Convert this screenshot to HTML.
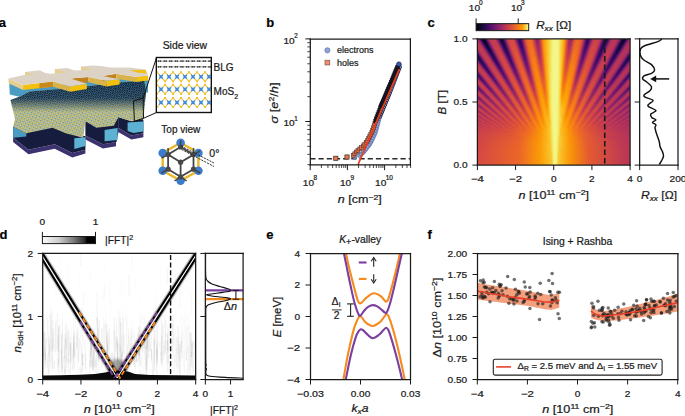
<!DOCTYPE html>
<html><head><meta charset="utf-8"><style>
html,body{margin:0;padding:0;background:#fff;width:685px;height:416px;overflow:hidden}
svg{position:absolute;left:0;top:0;display:block;font-family:"Liberation Sans", sans-serif}
svg text{stroke:#1a1a1a;stroke-width:0.22px}
.hc{position:absolute;left:477px;top:39px;width:153px;height:126px}.hc i{display:block;height:1px}
</style></head><body>
<div class="hc"><i style="background:linear-gradient(90deg,#aa2f5e 0.5px,#71196d 2.5px,#470c68 3.5px,#1f0b46 4.5px,#090620 5.5px,#050416 6.5px,#0d0828 7.5px,#290b52 8.5px,#540f6c 9.5px,#a02b62 11.5px,#c23b50 13.5px,#c53d4e 17.5px,#a32c61 19.5px,#59116d 21.5px,#310b5a 22.5px,#160b38 23.5px,#0e092b 24.5px,#190b3d 25.5px,#380a60 26.5px,#63146e 27.5px,#b0325b 29.5px,#d34743 31.5px,#d84c3f 35.5px,#bc3754 37.5px,#751b6d 39.5px,#320a5d 41.5px,#280b54 42.5px,#360a60 43.5px,#7f1e6c 45.5px,#cc4248 47.5px,#ea632a 49.5px,#f06f20 53.5px,#e25833 55.5px,#9b2964 58.5px,#8a226a 59.5px,#88226a 60.5px,#b2325a 62.5px,#e9622a 64.5px,#fb9807 66.5px,#f7d441 72.5px,#f2f37f 75.5px,#f4f88e 78.5px,#f2f17a 81.5px,#fac026 85.5px,#fb9e08 87.5px,#f68212 88.5px,#cf4546 90.5px,#9d2964 92.5px,#952667 93.5px,#b2325a 95.5px,#de5338 97.5px,#ee6a24 100.5px,#e25833 104.5px,#bd3853 106.5px,#6e186e 108.5px,#320a5d 110.5px,#300a5c 111.5px,#64156e 113.5px,#ab2f5d 115.5px,#cb4149 117.5px,#cb414a 121.5px,#b63458 123.5px,#771c6d 125.5px,#4e0d6b 126.5px,#280b52 127.5px,#130a33 128.5px,#120a31 129.5px,#220b4a 130.5px,#450c68 131.5px,#902468 133.5px,#b53458 135.5px,#b93656 139.5px,#a52c60 141.5px,#68166e 143.5px,#3f0b64 144.5px,#1a0b3e 145.5px,#08061e 146.5px,#07051b 147.5px,#130a34 148.5px,#340b5c 149.5px,#5d126d 150.5px,#992865 152.5px)"></i><i style="background:linear-gradient(90deg,#b43358 0.5px,#88226a 2.5px,#62146e 3.5px,#380b5f 4.5px,#150a36 5.5px,#06051a 6.5px,#07051c 7.5px,#180b3b 8.5px,#3d0b63 9.5px,#68166e 10.5px,#ac305d 12.5px,#c63d4d 14.5px,#c03a51 18.5px,#932667 20.5px,#440b67 22.5px,#210b49 23.5px,#110a30 24.5px,#140b34 25.5px,#2b0b55 26.5px,#530f6c 27.5px,#a52c60 29.5px,#d04545 31.5px,#d94d3d 35.5px,#c43c4e 37.5px,#83206b 39.5px,#3b0a63 41.5px,#2b0b57 42.5px,#320a5d 43.5px,#741b6d 45.5px,#c53e4d 47.5px,#e9612c 49.5px,#f0701f 53.5px,#e55c30 55.5px,#a12b62 58.5px,#8e2469 59.5px,#8a226a 60.5px,#b0315b 62.5px,#e7602c 64.5px,#fb9707 66.5px,#f7d441 72.5px,#f2f37f 75.5px,#f4f88e 78.5px,#f2f17a 81.5px,#fabf25 85.5px,#fb9c08 87.5px,#f68013 88.5px,#cd4348 90.5px,#9d2964 92.5px,#982766 93.5px,#b83556 95.5px,#eb6429 98.5px,#eb6528 102.5px,#d24744 105.5px,#8e2468 107.5px,#430b68 109.5px,#320a5d 110.5px,#360a60 111.5px,#711a6e 113.5px,#b43358 115.5px,#ce4347 117.5px,#ca404a 121.5px,#ae305c 123.5px,#68166e 125.5px,#3f0b65 126.5px,#1e0c45 127.5px,#120a32 128.5px,#180b3c 129.5px,#320a5c 130.5px,#58116d 131.5px,#9d2963 133.5px,#b93656 135.5px,#b63457 139.5px,#992865 141.5px,#530f6c 143.5px,#2a0b53 144.5px,#0f092b 145.5px,#07051b 146.5px,#0d0828 147.5px,#260b4e 148.5px,#4e0d6a 149.5px,#922567 151.5px,#a42c61 152.5px)"></i><i style="background:linear-gradient(90deg,#bb3755 0.5px,#9c2964 2.5px,#530f6c 4.5px,#290b52 5.5px,#0e0829 6.5px,#06051a 7.5px,#0d0828 8.5px,#280b51 9.5px,#520f6b 10.5px,#9f2a63 12.5px,#c33b4f 14.5px,#c53d4e 18.5px,#a32c61 20.5px,#58116d 22.5px,#170b3b 24.5px,#120a32 25.5px,#200c48 26.5px,#430b67 27.5px,#6e186e 28.5px,#b83556 30.5px,#d54a41 32.5px,#d74b3f 36.5px,#b43359 38.5px,#69176e 40.5px,#300a5c 42.5px,#300a5b 43.5px,#460b69 44.5px,#962766 46.5px,#d94d3d 48.5px,#f06f20 51.5px,#ef6d22 54.5px,#d94e3d 56.5px,#922568 59.5px,#8c2369 60.5px,#ae305c 62.5px,#e65d2f 64.5px,#fa9507 66.5px,#fac127 70.5px,#f3e157 73.5px,#f3f68a 76.5px,#f3f586 80.5px,#f2e763 82.5px,#fcb014 86.5px,#fb9a08 87.5px,#e55c30 89.5px,#af315b 91.5px,#9d2964 92.5px,#a72d5f 94.5px,#e45b31 97.5px,#ee6c23 100.5px,#df5337 104.5px,#ae315c 106.5px,#5c126d 108.5px,#3e0a65 109.5px,#330a5e 110.5px,#3e0a65 111.5px,#7f1e6c 113.5px,#bc3854 115.5px,#d04446 117.5px,#c83e4c 121.5px,#a42c60 123.5px,#58116d 125.5px,#180b3c 127.5px,#140b35 128.5px,#230b4c 129.5px,#440b67 130.5px,#8f2468 132.5px,#b63458 134.5px,#b93656 138.5px,#a42c60 140.5px,#67166e 142.5px,#3d0b63 143.5px,#190b3d 144.5px,#090620 145.5px,#0a0722 146.5px,#1b0b3f 147.5px,#3e0b64 148.5px,#89226a 150.5px,#ac2f5d 152.5px)"></i><i style="background:linear-gradient(90deg,#bf3952 0.5px,#ab2f5d 2.5px,#6d186e 4.5px,#430c66 5.5px,#1d0b42 6.5px,#0a0722 7.5px,#08061f 8.5px,#170b3a 9.5px,#3b0b62 10.5px,#67166e 11.5px,#ac305d 13.5px,#c73e4d 15.5px,#c13a50 19.5px,#932667 21.5px,#440b67 23.5px,#220c4a 24.5px,#140b34 25.5px,#190c3e 26.5px,#350a5e 27.5px,#5d126d 28.5px,#ad305c 30.5px,#d34743 32.5px,#d94d3d 36.5px,#be3953 38.5px,#771c6d 40.5px,#370a61 42.5px,#300a5c 43.5px,#400a66 44.5px,#8c2369 46.5px,#d44941 48.5px,#ec6826 50.5px,#f06f21 54.5px,#dd5239 56.5px,#972766 59.5px,#8e2469 60.5px,#ac305d 62.5px,#e45b31 64.5px,#fa9308 66.5px,#fbb91e 69.5px,#f7d542 72.5px,#f2f37f 75.5px,#f4f88e 78.5px,#f2f17a 81.5px,#fcaf14 86.5px,#fb9908 87.5px,#e35a32 89.5px,#ae315c 91.5px,#9e2a63 92.5px,#9e2a63 93.5px,#d94e3d 96.5px,#ef6d22 99.5px,#e65d2f 103.5px,#c83f4c 105.5px,#7b1d6c 107.5px,#3b0964 109.5px,#360961 110.5px,#66166e 112.5px,#ad305c 114.5px,#cd4347 116.5px,#cc4249 120.5px,#b53458 122.5px,#721a6d 124.5px,#490c69 125.5px,#260b50 126.5px,#160b39 127.5px,#1a0c3f 128.5px,#58106d 130.5px,#9d2963 132.5px,#ba3655 134.5px,#b73557 138.5px,#992865 140.5px,#510e6b 142.5px,#280b51 143.5px,#0f092c 144.5px,#090620 145.5px,#130a32 146.5px,#300b59 147.5px,#58116d 148.5px,#992865 150.5px,#b0315b 152.5px)"></i><i style="background:linear-gradient(90deg,#c03a51 0.5px,#b53458 2.5px,#85216b 4.5px,#5e126d 5.5px,#340b5c 6.5px,#140a35 7.5px,#090620 8.5px,#0e082a 9.5px,#270b4f 10.5px,#500e6b 11.5px,#9f2a63 13.5px,#c43c4f 15.5px,#c63e4d 19.5px,#a32c61 21.5px,#57106d 23.5px,#190c3e 25.5px,#160b39 26.5px,#290b53 27.5px,#4e0d6b 28.5px,#a12b62 30.5px,#d04545 32.5px,#db4f3b 36.5px,#c63e4d 38.5px,#85216b 40.5px,#3f0a66 42.5px,#320a5d 43.5px,#3c0a64 44.5px,#82206b 46.5px,#cf4446 48.5px,#ec6627 50.5px,#f1711f 54.5px,#e15635 56.5px,#9c2964 59.5px,#902568 60.5px,#aa2f5e 62.5px,#e25933 64.5px,#fa9208 66.5px,#fbb91e 69.5px,#f6d542 72.5px,#f2f37f 75.5px,#f4f88e 78.5px,#f2f17a 81.5px,#fcae13 86.5px,#fb9708 87.5px,#e15734 89.5px,#ae305c 91.5px,#a02a62 92.5px,#b2325a 94.5px,#e9622b 97.5px,#ef6d22 100.5px,#d94d3d 104.5px,#9c2964 106.5px,#4e0d6b 108.5px,#3a0963 109.5px,#3b0964 110.5px,#741a6d 112.5px,#b73557 114.5px,#d04545 116.5px,#ca404a 120.5px,#ac305d 122.5px,#63146e 124.5px,#3b0a62 125.5px,#1e0c46 126.5px,#170b3a 127.5px,#240c4d 128.5px,#440b67 129.5px,#8f2468 131.5px,#b73557 133.5px,#ba3655 137.5px,#a42c61 139.5px,#65156e 141.5px,#3b0b62 142.5px,#190b3d 143.5px,#0b0724 144.5px,#0e0829 145.5px,#230b4b 146.5px,#490c69 147.5px,#902568 149.5px,#af315c 151.5px,#b2325a 152.5px)"></i><i style="background:linear-gradient(90deg,#c13a50 0.5px,#b0315b 3.5px,#771c6d 5.5px,#4e0e6a 6.5px,#260b4f 7.5px,#0f092b 8.5px,#0a0723 9.5px,#180b3b 10.5px,#3a0b61 11.5px,#65156e 12.5px,#ac305d 14.5px,#c83e4c 16.5px,#c23b50 20.5px,#922567 22.5px,#430b67 24.5px,#230c4d 25.5px,#170b3b 26.5px,#200c48 27.5px,#3f0b65 28.5px,#68166e 29.5px,#b63457 31.5px,#d64a40 33.5px,#d84c3e 37.5px,#b63457 39.5px,#6b176e 41.5px,#490c6a 42.5px,#360a61 43.5px,#390962 44.5px,#510e6c 45.5px,#a42c60 47.5px,#e05536 49.5px,#f1721e 52.5px,#ee6a24 55.5px,#d24743 57.5px,#a12b62 59.5px,#942667 60.5px,#972766 61.5px,#c53d4d 63.5px,#f2751c 65.5px,#fa9009 66.5px,#fbb91e 69.5px,#f6d543 72.5px,#f2f37f 75.5px,#f4f88e 78.5px,#f2f17a 81.5px,#fcad12 86.5px,#fa9508 87.5px,#df5536 89.5px,#ad305c 91.5px,#a22b62 92.5px,#b73557 94.5px,#e15635 96.5px,#ef6d21 98.5px,#ea632a 102.5px,#d54a41 104.5px,#922567 106.5px,#490c6a 108.5px,#3a0964 109.5px,#420a67 110.5px,#801f6c 112.5px,#be3952 114.5px,#d24644 116.5px,#c83f4c 120.5px,#a22b62 122.5px,#530f6c 124.5px,#2f0b59 125.5px,#1b0c41 126.5px,#1c0c43 127.5px,#320a5c 128.5px,#57106d 129.5px,#9d2a63 131.5px,#bb3755 133.5px,#b83556 137.5px,#982865 139.5px,#4f0e6b 141.5px,#270b50 142.5px,#10092e 143.5px,#0c0826 144.5px,#190b3d 145.5px,#3a0b61 146.5px,#62146e 147.5px,#9f2a63 149.5px,#b33359 152.5px)"></i><i style="background:linear-gradient(90deg,#c13a50 0.5px,#b93656 3.5px,#8e2468 5.5px,#69166e 6.5px,#3f0b64 7.5px,#1c0b41 8.5px,#0c0827 9.5px,#0f092c 10.5px,#260b4f 11.5px,#4f0e6b 12.5px,#9e2a63 14.5px,#c43c4e 16.5px,#c73e4c 20.5px,#a32c61 22.5px,#57106d 24.5px,#320a5c 25.5px,#1c0c42 26.5px,#1b0c42 27.5px,#320a5c 28.5px,#58116d 29.5px,#aa2f5e 31.5px,#d44842 33.5px,#db4f3b 37.5px,#c03a51 39.5px,#791c6d 41.5px,#3c0a64 43.5px,#380962 44.5px,#4b0c6a 45.5px,#9a2864 47.5px,#dc503a 49.5px,#f1721e 52.5px,#ef6d22 55.5px,#d74b3f 57.5px,#972766 60.5px,#982766 61.5px,#c33c4f 63.5px,#f1721e 65.5px,#f98f0a 66.5px,#fbb91e 69.5px,#f6d543 72.5px,#f2f380 75.5px,#f4f88e 78.5px,#f2f17a 81.5px,#fcac11 86.5px,#fa9309 87.5px,#de5338 89.5px,#ad305d 91.5px,#a42c61 92.5px,#bd3853 94.5px,#ed6825 97.5px,#ef6d22 100.5px,#e15734 103.5px,#d14645 104.5px,#88226a 106.5px,#450b69 108.5px,#3d0965 109.5px,#4b0c6b 110.5px,#8e2468 112.5px,#c53d4e 114.5px,#d34743 117.5px,#c53d4e 120.5px,#952666 122.5px,#450b68 124.5px,#250b4f 125.5px,#1a0c40 126.5px,#250b4f 127.5px,#440b67 128.5px,#8e2468 130.5px,#b73557 132.5px,#bb3754 136.5px,#a42c61 138.5px,#63146e 140.5px,#3a0b61 141.5px,#190b3d 142.5px,#0d0828 143.5px,#120a32 144.5px,#530f6c 146.5px,#972766 148.5px,#b1325b 150.5px,#b43359 152.5px)"></i><i style="background:linear-gradient(90deg,#c03a51 0.5px,#bf3952 3.5px,#a22b62 5.5px,#5a116d 7.5px,#310b5a 8.5px,#150a36 9.5px,#0d0829 10.5px,#190b3c 11.5px,#390b60 12.5px,#64156e 13.5px,#ac305d 15.5px,#c83f4b 17.5px,#c33b4f 21.5px,#922567 23.5px,#430b67 25.5px,#250c4e 26.5px,#1b0c41 27.5px,#280b52 28.5px,#490c69 29.5px,#9d2963 31.5px,#d04545 33.5px,#dd513a 37.5px,#c83f4b 39.5px,#87216a 41.5px,#430a68 43.5px,#390963 44.5px,#460b69 45.5px,#902568 47.5px,#d74c3e 49.5px,#ee6b23 51.5px,#f2751b 54.5px,#ea632a 56.5px,#ac305d 59.5px,#9b2865 60.5px,#992865 61.5px,#c13b50 63.5px,#f0701f 65.5px,#f98d0b 66.5px,#fcb014 68.5px,#f6d644 72.5px,#f2f380 75.5px,#f4f88e 78.5px,#f2f17a 81.5px,#fcab10 86.5px,#fa9109 87.5px,#dc513a 89.5px,#ad305d 91.5px,#a62d60 92.5px,#c23b50 94.5px,#e75e2e 96.5px,#f0701f 99.5px,#df5437 103.5px,#a92e5e 105.5px,#59116d 107.5px,#430a68 108.5px,#410a67 109.5px,#751b6d 111.5px,#b93656 113.5px,#d24644 115.5px,#cb4149 119.5px,#aa2f5e 121.5px,#5e126d 123.5px,#200c49 125.5px,#1f0c46 126.5px,#330a5d 127.5px,#56106d 128.5px,#9d2963 130.5px,#bc3754 132.5px,#b93656 136.5px,#982765 138.5px,#4d0d6a 140.5px,#260b50 141.5px,#110a30 142.5px,#0f092d 143.5px,#210b48 144.5px,#440c67 145.5px,#8e2469 147.5px,#af315c 149.5px,#b43359 152.5px)"></i><i style="background:linear-gradient(90deg,#bd3853 0.5px,#bd3853 4.5px,#972765 6.5px,#4a0d69 8.5px,#240b4d 9.5px,#110a2f 10.5px,#110a30 11.5px,#260b4f 12.5px,#4d0d6a 13.5px,#9d2a63 15.5px,#c53d4e 17.5px,#c83f4b 21.5px,#a32c61 23.5px,#56106d 25.5px,#330a5d 26.5px,#1f0c47 27.5px,#220c4b 28.5px,#63146e 30.5px,#b33359 32.5px,#d74b3f 34.5px,#da4e3c 38.5px,#b83556 40.5px,#6d186e 42.5px,#4d0d6b 43.5px,#3c0965 44.5px,#420a68 45.5px,#85216a 47.5px,#d24743 49.5px,#ed6a24 51.5px,#f1721e 55.5px,#df5436 57.5px,#9f2a63 60.5px,#9a2865 61.5px,#bf3952 63.5px,#ef6e21 65.5px,#f98b0c 66.5px,#fcaf14 68.5px,#f6d644 72.5px,#f2f481 75.5px,#f4f78d 79.5px,#f2f17a 81.5px,#fca90f 86.5px,#f98f0a 87.5px,#da4f3c 89.5px,#ad305c 91.5px,#b33359 93.5px,#e9632a 96.5px,#f1711f 99.5px,#dc513a 103.5px,#a02a62 105.5px,#530f6d 107.5px,#420a68 108.5px,#470b69 109.5px,#83206b 111.5px,#c13a51 113.5px,#d44842 116.5px,#c93f4b 119.5px,#9e2a63 121.5px,#4f0e6b 123.5px,#2d0b58 124.5px,#1f0c47 125.5px,#270b51 126.5px,#430b67 127.5px,#8e2468 129.5px,#b83556 131.5px,#bc3754 135.5px,#a42c61 137.5px,#61146e 139.5px,#380a60 140.5px,#190b3e 141.5px,#10092d 142.5px,#180b3c 143.5px,#360a5e 144.5px,#5e126d 145.5px,#9d2964 147.5px,#b3325a 149.5px,#b3325a 152.5px)"></i><i style="background:linear-gradient(90deg,#b73557 0.5px,#c13a51 4.5px,#a92e5e 6.5px,#65156e 8.5px,#3b0b62 9.5px,#1c0b41 10.5px,#110a2f 11.5px,#190b3e 12.5px,#380a60 13.5px,#62146e 14.5px,#ac305d 16.5px,#ca404a 18.5px,#cc4149 21.5px,#b1325a 23.5px,#6a176e 25.5px,#430b67 26.5px,#270b51 27.5px,#200c49 28.5px,#310a5b 29.5px,#540f6c 30.5px,#a72d5f 32.5px,#d44842 34.5px,#dc513a 38.5px,#c23b50 40.5px,#7b1d6c 42.5px,#410a67 44.5px,#400a67 45.5px,#56106d 46.5px,#a72e5f 48.5px,#cc4248 49.5px,#ec6826 51.5px,#f2741c 55.5px,#e35932 57.5px,#a32c61 60.5px,#9c2964 61.5px,#bd3853 63.5px,#ee6b24 65.5px,#f8890d 66.5px,#fca008 67.5px,#f6d644 72.5px,#f2f481 75.5px,#f4f78d 79.5px,#f2f17a 81.5px,#fca80e 86.5px,#f98c0b 87.5px,#d84d3e 89.5px,#ae305c 91.5px,#b83556 93.5px,#ec6627 96.5px,#f1711f 99.5px,#e65d2f 102.5px,#be3953 104.5px,#6d186e 106.5px,#4f0d6c 107.5px,#440a68 108.5px,#4f0d6c 109.5px,#902568 111.5px,#c73e4c 113.5px,#d44941 116.5px,#c53d4e 119.5px,#912568 121.5px,#410b66 123.5px,#270b51 124.5px,#220c4b 125.5px,#340a5e 126.5px,#56106d 127.5px,#9d2a63 129.5px,#bd3853 131.5px,#b93656 135.5px,#972766 137.5px,#4b0d6a 139.5px,#260b4f 140.5px,#130a33 141.5px,#140b35 142.5px,#290b53 143.5px,#4f0e6b 144.5px,#952666 146.5px,#b1325a 148.5px,#b0315b 152.5px)"></i><i style="background:linear-gradient(90deg,#ac2f5d 0.5px,#c33b50 3.5px,#b53458 6.5px,#7e1e6c 8.5px,#56106c 9.5px,#2e0b58 10.5px,#160b38 11.5px,#140b34 12.5px,#260b4f 13.5px,#4c0d6a 14.5px,#9d2963 16.5px,#c63d4d 18.5px,#c9404b 22.5px,#a32c61 24.5px,#56106d 26.5px,#340a5e 27.5px,#220c4c 28.5px,#290b54 29.5px,#6e186e 31.5px,#bb3754 33.5px,#da4e3d 35.5px,#d94d3e 39.5px,#af315b 41.5px,#63146e 43.5px,#480b6a 44.5px,#410a67 45.5px,#500e6c 46.5px,#9d2a63 48.5px,#df5337 50.5px,#f2751b 53.5px,#ef6e21 56.5px,#d54941 58.5px,#a82e5f 60.5px,#9f2a63 61.5px,#bb3754 63.5px,#ec6826 65.5px,#f8870e 66.5px,#fb9e08 67.5px,#f6d644 72.5px,#f2f481 75.5px,#f4f78d 79.5px,#f2f17a 81.5px,#fca70d 86.5px,#f88a0d 87.5px,#d64b3f 89.5px,#af315b 91.5px,#bd3853 93.5px,#ed6a24 96.5px,#f1711f 99.5px,#e45b31 102.5px,#d44842 103.5px,#8c2369 105.5px,#4c0c6b 107.5px,#470b6a 108.5px,#58106d 109.5px,#9d2963 111.5px,#cd4248 113.5px,#d24644 117.5px,#c03a51 119.5px,#82206b 121.5px,#59116d 122.5px,#360a60 123.5px,#240c4e 124.5px,#290b54 125.5px,#69166e 127.5px,#aa2f5e 129.5px,#c03952 131.5px,#b53458 135.5px,#86216a 137.5px,#60136e 138.5px,#370a5f 139.5px,#1a0c3f 140.5px,#130a33 141.5px,#1f0c47 142.5px,#400b65 143.5px,#8b2369 145.5px,#af315b 147.5px,#b0315b 151.5px,#aa2f5e 152.5px)"></i><i style="background:linear-gradient(90deg,#9a2865 0.5px,#c13a50 3.5px,#bd3853 6.5px,#952666 8.5px,#470c68 10.5px,#240b4d 11.5px,#140b36 12.5px,#1b0c40 13.5px,#370a60 14.5px,#61136e 15.5px,#ac2f5d 17.5px,#ca404a 19.5px,#cd4248 22.5px,#b2325a 24.5px,#6a176e 26.5px,#290b54 28.5px,#260c50 29.5px,#3a0a62 30.5px,#5f136e 31.5px,#b0315b 33.5px,#d74b3f 35.5px,#dc503a 39.5px,#ba3755 41.5px,#70196e 43.5px,#510e6c 44.5px,#430a68 45.5px,#4c0c6b 46.5px,#932667 48.5px,#da4f3c 50.5px,#f06f21 52.5px,#f3771a 55.5px,#e9622b 57.5px,#ad305d 60.5px,#a22b62 61.5px,#a62d60 62.5px,#d54941 64.5px,#f78510 66.5px,#fb9d08 67.5px,#f6d644 72.5px,#f2f481 75.5px,#f4f78d 79.5px,#f2f17a 81.5px,#fbbb20 85.5px,#fca50c 86.5px,#f8880e 87.5px,#d54941 89.5px,#b0315b 91.5px,#c23b4f 93.5px,#ef6d22 96.5px,#ef6d22 100.5px,#e25834 102.5px,#cf4446 103.5px,#83206b 105.5px,#5e136e 106.5px,#4b0c6b 107.5px,#4c0c6b 108.5px,#85216b 110.5px,#c33c4f 112.5px,#d54941 114.5px,#c9404b 118.5px,#9b2964 120.5px,#4b0d6a 122.5px,#2e0b59 123.5px,#250c50 124.5px,#350a5f 125.5px,#7c1d6c 127.5px,#b33359 129.5px,#c13a50 132.5px,#ae305c 135.5px,#731a6d 137.5px,#4a0d69 138.5px,#260b50 139.5px,#150b38 140.5px,#190b3e 141.5px,#59116d 143.5px,#9c2964 145.5px,#b33359 147.5px,#ab2f5e 151.5px,#a02a63 152.5px)"></i><i style="background:linear-gradient(90deg,#82206b 0.5px,#b33359 2.5px,#c43c4e 5.5px,#ba3655 7.5px,#88226a 9.5px,#61146d 10.5px,#390a60 11.5px,#1d0c43 12.5px,#170b3a 13.5px,#270b51 14.5px,#4b0d6a 15.5px,#9c2964 17.5px,#c73e4c 19.5px,#ca404a 23.5px,#a32c61 25.5px,#56106d 27.5px,#350a5f 28.5px,#270b52 29.5px,#310a5c 30.5px,#791c6d 32.5px,#c23b50 34.5px,#dc503a 36.5px,#de5338 39.5px,#c43c4e 41.5px,#7d1e6c 43.5px,#5a116e 44.5px,#470b6a 45.5px,#4a0c6a 46.5px,#62146e 47.5px,#b43458 49.5px,#d54a41 50.5px,#ef6d22 52.5px,#f47919 55.5px,#de5338 58.5px,#b2325a 60.5px,#a52c61 61.5px,#a72d60 62.5px,#d34843 64.5px,#f78211 66.5px,#fb9c07 67.5px,#f6d644 72.5px,#f2f481 75.5px,#f4f78d 79.5px,#f2f17a 81.5px,#fbba1f 85.5px,#fca40b 86.5px,#f78510 87.5px,#d34842 89.5px,#b2325a 91.5px,#c83f4c 93.5px,#f07020 96.5px,#ef6c22 100.5px,#df5437 102.5px,#c9404b 103.5px,#7a1d6d 105.5px,#59116e 106.5px,#4b0c6b 107.5px,#530f6d 108.5px,#922567 110.5px,#ca404a 112.5px,#d64a40 115.5px,#c53d4e 118.5px,#8c2369 120.5px,#3f0a65 122.5px,#2a0b55 123.5px,#2c0b57 124.5px,#68166e 126.5px,#aa2f5e 128.5px,#c03a51 130.5px,#b63458 134.5px,#85216b 136.5px,#5e126d 137.5px,#360a5f 138.5px,#1b0c41 139.5px,#170b3a 140.5px,#280b52 141.5px,#4b0d6a 142.5px,#932667 144.5px,#b2325a 146.5px,#ae305c 150.5px,#8f2468 152.5px)"></i><i style="background:linear-gradient(90deg,#65156e 0.5px,#a52d60 2.5px,#c13a51 4.5px,#c03a51 7.5px,#9e2a63 9.5px,#520f6c 11.5px,#2d0b57 12.5px,#190c3e 13.5px,#1d0c44 14.5px,#5f136d 16.5px,#ac2f5d 18.5px,#cb4149 20.5px,#ce4347 23.5px,#b2325a 25.5px,#6a176e 27.5px,#2d0b58 29.5px,#2c0b57 30.5px,#430b67 31.5px,#6a176e 32.5px,#b93656 34.5px,#da4e3c 36.5px,#e05536 39.5px,#cc4248 41.5px,#8b2369 43.5px,#4d0d6b 45.5px,#490b6a 46.5px,#5c126e 47.5px,#ab2f5d 49.5px,#e55b30 51.5px,#f47819 54.5px,#f3761b 56.5px,#e25734 58.5px,#a82e5f 61.5px,#a82e5f 62.5px,#d14644 64.5px,#f68013 66.5px,#fb9a07 67.5px,#f6d644 72.5px,#f2f481 75.5px,#f4f78d 79.5px,#f2f17a 81.5px,#fbb91e 85.5px,#fca20a 86.5px,#f78311 87.5px,#d14644 89.5px,#b43359 91.5px,#cc4248 93.5px,#ec6727 95.5px,#f2751b 98.5px,#e9612b 101.5px,#c13b50 103.5px,#721a6e 105.5px,#550f6d 106.5px,#4e0d6c 107.5px,#5c126e 108.5px,#a02a62 110.5px,#cf4446 112.5px,#d44842 116.5px,#bf3952 118.5px,#7e1e6c 120.5px,#360a60 122.5px,#2a0b55 123.5px,#370a60 124.5px,#7b1d6c 126.5px,#b43359 128.5px,#c23b50 131.5px,#ae305c 134.5px,#71196d 136.5px,#490c69 137.5px,#270b50 138.5px,#180c3c 139.5px,#200c48 140.5px,#3d0b63 141.5px,#64156e 142.5px,#a22b62 144.5px,#b53458 146.5px,#b1325b 149.5px,#912568 151.5px,#771c6d 152.5px)"></i><i style="background:linear-gradient(90deg,#470c68 0.5px,#912567 2.5px,#bd3853 4.5px,#c43c4f 7.5px,#ae315c 9.5px,#6c186e 11.5px,#440b67 12.5px,#240b4e 13.5px,#1a0c40 14.5px,#270b51 15.5px,#4a0c69 16.5px,#9b2964 18.5px,#c83e4c 20.5px,#cb4149 24.5px,#a32c61 26.5px,#56106d 28.5px,#370a61 29.5px,#2c0b58 30.5px,#3a0a62 31.5px,#84206b 33.5px,#c93f4b 35.5px,#e15635 38.5px,#d34743 41.5px,#992865 43.5px,#550f6d 45.5px,#4a0c6b 46.5px,#56106d 47.5px,#a12b61 49.5px,#e15735 51.5px,#f47819 54.5px,#ef6e21 57.5px,#ac2f5d 61.5px,#a92e5e 62.5px,#cf4446 64.5px,#f57e15 66.5px,#fb9907 67.5px,#f6d644 72.5px,#f2f481 75.5px,#f4f78d 79.5px,#f2f17a 81.5px,#fbb81d 85.5px,#fba009 86.5px,#f68013 87.5px,#d04545 89.5px,#b73557 91.5px,#d14644 93.5px,#f2751c 96.5px,#ee6b24 100.5px,#d74c3f 102.5px,#912567 104.5px,#6a176e 105.5px,#530f6d 106.5px,#520e6d 107.5px,#88226a 109.5px,#c53d4d 111.5px,#d74b3f 113.5px,#ca404a 117.5px,#972766 119.5px,#480c69 121.5px,#300a5c 122.5px,#2f0a5b 123.5px,#68166e 125.5px,#aa2f5e 127.5px,#c23b50 129.5px,#b63457 133.5px,#84206b 135.5px,#5c126d 136.5px,#1d0c45 138.5px,#1c0c42 139.5px,#310a5b 140.5px,#55106c 141.5px,#9a2865 143.5px,#b43359 145.5px,#ab2f5e 149.5px,#7b1d6c 151.5px,#5b126d 152.5px)"></i><i style="background:linear-gradient(90deg,#2b0b55 0.5px,#4f0e6b 1.5px,#9d2964 3.5px,#c03a51 5.5px,#c33b4f 8.5px,#a62d60 10.5px,#5d126d 12.5px,#1f0c48 14.5px,#1f0c47 15.5px,#370a60 16.5px,#5e136d 17.5px,#ab2f5d 19.5px,#cc4248 21.5px,#cf4447 24.5px,#b2325a 26.5px,#69176e 28.5px,#450b68 29.5px,#300a5c 30.5px,#330a5e 31.5px,#751b6d 33.5px,#c03a51 35.5px,#dd5139 37.5px,#e05436 40.5px,#c63e4d 42.5px,#801f6c 44.5px,#5e136e 45.5px,#4d0d6c 46.5px,#530f6d 47.5px,#972765 49.5px,#dd5239 51.5px,#f1721e 53.5px,#f47a18 56.5px,#d84c3e 59.5px,#b0315b 61.5px,#ab2f5e 62.5px,#cd4347 64.5px,#f47b16 66.5px,#fb9707 67.5px,#f6d745 72.5px,#f2f481 75.5px,#f4f78d 79.5px,#f2f17a 81.5px,#fbb71c 85.5px,#fb9e09 86.5px,#f57e15 87.5px,#cf4446 89.5px,#b93656 91.5px,#d64a40 93.5px,#f3771a 96.5px,#ed6925 100.5px,#d24743 102.5px,#87216a 104.5px,#65156e 105.5px,#530f6d 106.5px,#58106e 107.5px,#952666 109.5px,#cc4248 111.5px,#d84c3e 114.5px,#c53d4e 117.5px,#88226a 119.5px,#3e0a65 121.5px,#2f0a5b 122.5px,#380a62 123.5px,#7b1d6c 125.5px,#b53358 127.5px,#c33c4f 130.5px,#ae305c 133.5px,#70196e 135.5px,#480c69 136.5px,#270b52 137.5px,#1c0c42 138.5px,#280b52 139.5px,#470c68 140.5px,#902568 142.5px,#b33359 144.5px,#af315b 148.5px,#86216a 150.5px,#3e0b64 152.5px)"></i><i style="background:linear-gradient(90deg,#180b3c 0.5px,#340a5d 1.5px,#5d126d 2.5px,#a62d60 4.5px,#c33b4f 6.5px,#c13a50 9.5px,#9c2964 11.5px,#4f0e6b 13.5px,#2d0b57 14.5px,#1f0c47 15.5px,#290b54 16.5px,#490c69 17.5px,#9a2864 19.5px,#c83f4b 21.5px,#d14645 24.5px,#be3853 26.5px,#7d1e6c 28.5px,#390a63 30.5px,#310a5d 31.5px,#420a67 32.5px,#902468 34.5px,#cf4446 36.5px,#e25734 39.5px,#dc503a 41.5px,#b33359 43.5px,#69176e 45.5px,#520e6d 46.5px,#510e6c 47.5px,#67166e 48.5px,#b83656 50.5px,#d84d3e 51.5px,#f1711f 53.5px,#f57b17 56.5px,#dc513a 59.5px,#b43359 61.5px,#ad305c 62.5px,#cb4249 64.5px,#f47918 66.5px,#fa9608 67.5px,#f6d745 72.5px,#f2f482 75.5px,#f4f78d 79.5px,#f2f17a 81.5px,#fbb61b 85.5px,#fb9c08 86.5px,#e45a31 88.5px,#be3952 90.5px,#c83f4b 92.5px,#f1711e 95.5px,#f3761b 98.5px,#e25833 101.5px,#a82e5f 103.5px,#60136e 105.5px,#550f6d 106.5px,#60136e 107.5px,#a22b61 109.5px,#d14644 111.5px,#d54941 115.5px,#be3953 117.5px,#791c6d 119.5px,#380a61 121.5px,#330a5e 122.5px,#460b69 123.5px,#8d2369 125.5px,#bc3754 127.5px,#c03952 131.5px,#a32c61 133.5px,#5b116d 135.5px,#360a5f 136.5px,#200c48 137.5px,#220c4b 138.5px,#60136e 140.5px,#a12b62 142.5px,#b63457 144.5px,#b2325a 147.5px,#902568 149.5px,#460c68 151.5px,#250b4e 152.5px)"></i><i style="background:linear-gradient(90deg,#120a32 0.5px,#210c49 1.5px,#420b66 2.5px,#6b176e 3.5px,#af315b 5.5px,#c73e4d 8.5px,#be3952 10.5px,#902468 12.5px,#420b66 14.5px,#260b51 15.5px,#220c4c 16.5px,#370a60 17.5px,#5d126d 18.5px,#ab2f5d 20.5px,#cd4248 22.5px,#d04546 25.5px,#b2325a 27.5px,#69176e 29.5px,#470b69 30.5px,#340a5f 31.5px,#3b0a63 32.5px,#801f6b 34.5px,#c73f4c 36.5px,#df5437 38.5px,#df5437 41.5px,#be3952 43.5px,#751b6d 45.5px,#5a116e 46.5px,#510e6d 47.5px,#62146e 48.5px,#af315b 50.5px,#e75f2e 52.5px,#f57c16 55.5px,#ed6a24 58.5px,#b93656 61.5px,#af315b 62.5px,#ca404a 64.5px,#f3771a 66.5px,#fa9408 67.5px,#fac127 70.5px,#f3e45c 73.5px,#f2f483 75.5px,#f4f78d 79.5px,#f2f17a 81.5px,#fbb51a 85.5px,#fb9a08 86.5px,#e25833 88.5px,#bf3952 90.5px,#cd4248 92.5px,#f2751c 95.5px,#f0701f 99.5px,#df5437 101.5px,#9e2a63 103.5px,#5d126e 105.5px,#58106e 106.5px,#8a2369 108.5px,#c83f4c 110.5px,#da4e3d 113.5px,#ca404a 116.5px,#932667 118.5px,#470b69 120.5px,#350a60 121.5px,#3b0a63 122.5px,#7b1d6c 124.5px,#b53458 126.5px,#c43c4e 129.5px,#bd3854 131.5px,#942667 133.5px,#470c68 135.5px,#290b53 136.5px,#200c49 137.5px,#300a5a 138.5px,#520f6c 139.5px,#982865 141.5px,#b53458 143.5px,#ac305d 147.5px,#7b1d6c 149.5px,#530f6c 150.5px,#2d0b57 151.5px,#160b39 152.5px)"></i><i style="background:linear-gradient(90deg,#180b3c 0.5px,#180c3d 1.5px,#2b0b55 2.5px,#500e6b 3.5px,#9e2a63 5.5px,#c23b50 7.5px,#c43c4e 10.5px,#a42c60 12.5px,#5a116d 14.5px,#360a5f 15.5px,#240c4e 16.5px,#2b0b56 17.5px,#490c69 18.5px,#9a2864 20.5px,#c93f4b 22.5px,#d24644 25.5px,#be3952 27.5px,#7d1e6c 29.5px,#3c0a64 31.5px,#380962 32.5px,#4b0c6b 33.5px,#9b2964 35.5px,#d44842 37.5px,#e35933 40.5px,#da4e3c 42.5px,#a92e5e 44.5px,#62146e 46.5px,#540f6d 47.5px,#5d126e 48.5px,#a52d60 50.5px,#cc4248 51.5px,#ef6d22 53.5px,#f57d15 56.5px,#ef6e21 58.5px,#bd3853 61.5px,#b2325a 62.5px,#b63457 63.5px,#e05536 65.5px,#fa9209 67.5px,#fac127 70.5px,#f3e45c 73.5px,#f2f483 75.5px,#f4f78d 79.5px,#f2f17a 81.5px,#fbb419 85.5px,#fb9808 86.5px,#e15635 88.5px,#c13a51 90.5px,#d24644 92.5px,#f3771a 95.5px,#f06f20 99.5px,#db4f3b 101.5px,#952766 103.5px,#70196e 104.5px,#5c126e 105.5px,#5e126e 106.5px,#982765 108.5px,#cf4446 110.5px,#d74b3f 114.5px,#c43c4f 116.5px,#84206b 118.5px,#3f0a66 120.5px,#370961 121.5px,#470b69 122.5px,#8d2369 124.5px,#bd3853 126.5px,#c13a51 130.5px,#a32c61 132.5px,#5a116d 134.5px,#360a5f 135.5px,#230c4d 136.5px,#290b53 137.5px,#6a176e 139.5px,#a72d5f 141.5px,#b83556 144.5px,#a22b62 147.5px,#61146e 149.5px,#390a61 150.5px,#1d0c44 151.5px,#130b34 152.5px)"></i><i style="background:linear-gradient(90deg,#2b0b55 0.5px,#1d0c44 1.5px,#1e0c46 2.5px,#360a5f 3.5px,#5e126d 4.5px,#a82e5f 6.5px,#c43c4e 8.5px,#c23b50 11.5px,#992865 13.5px,#4c0d6a 15.5px,#2e0a59 16.5px,#260c51 17.5px,#380a61 18.5px,#5c126d 19.5px,#aa2f5e 21.5px,#ce4347 23.5px,#d14545 26.5px,#b33359 28.5px,#69176e 30.5px,#480c69 31.5px,#390963 32.5px,#430a68 33.5px,#8b2369 35.5px,#ce4347 37.5px,#e35932 40.5px,#de5338 42.5px,#b53458 44.5px,#6d186e 46.5px,#58106e 47.5px,#5a116e 48.5px,#731a6d 49.5px,#c43d4e 51.5px,#e05536 52.5px,#f3761b 54.5px,#f57b16 57.5px,#e7602d 59.5px,#c23b50 61.5px,#b53458 62.5px,#c73f4c 64.5px,#f1721e 66.5px,#fa9009 67.5px,#fac026 70.5px,#f2f483 75.5px,#f4f78d 79.5px,#f2f17a 81.5px,#fcb317 85.5px,#fa9608 86.5px,#df5536 88.5px,#c23b50 90.5px,#d64a40 92.5px,#f47918 95.5px,#ef6e21 99.5px,#d64b40 101.5px,#8c2369 103.5px,#6b176e 104.5px,#5c126e 105.5px,#65156e 106.5px,#a42c60 108.5px,#d34842 110.5px,#d64a40 114.5px,#bc3854 116.5px,#751b6d 118.5px,#500e6c 119.5px,#3b0964 120.5px,#3e0a65 121.5px,#7b1d6c 123.5px,#b63457 125.5px,#c63d4d 128.5px,#af315b 131.5px,#6d186e 133.5px,#2b0b56 135.5px,#260c50 136.5px,#390a62 137.5px,#821f6b 139.5px,#b1315b 141.5px,#b33359 145.5px,#912568 147.5px,#470c68 149.5px,#260b4f 150.5px,#190c3d 151.5px,#1c0c43 152.5px)"></i><i style="background:linear-gradient(90deg,#4a0c6a 0.5px,#1e0c45 2.5px,#250c4f 3.5px,#440b67 4.5px,#932667 6.5px,#c03a51 8.5px,#c63e4d 11.5px,#ac305d 13.5px,#65156e 15.5px,#400b66 16.5px,#2a0b56 17.5px,#2d0b59 18.5px,#70196d 20.5px,#b83556 22.5px,#d14644 24.5px,#ce4347 27.5px,#a32c61 29.5px,#58106d 31.5px,#3f0a66 32.5px,#3e0a66 33.5px,#550f6d 34.5px,#a52d60 36.5px,#c63e4d 37.5px,#e05536 39.5px,#e15635 42.5px,#c13a51 44.5px,#781c6d 46.5px,#5e136e 47.5px,#5a116e 48.5px,#6d186e 49.5px,#bc3854 51.5px,#ec6727 53.5px,#f67e14 56.5px,#f2751c 58.5px,#b83556 62.5px,#c63e4d 64.5px,#f06f20 66.5px,#f98e0a 67.5px,#fbb51a 69.5px,#f6d746 72.5px,#f2f483 75.5px,#f4f78d 79.5px,#f2f17a 81.5px,#f9c730 84.5px,#fa9309 86.5px,#de5338 88.5px,#c43c4e 90.5px,#da4e3c 92.5px,#f57c16 95.5px,#ef6c23 99.5px,#d04645 101.5px,#84206b 103.5px,#67166e 104.5px,#5f136e 105.5px,#6e186e 106.5px,#ca414a 109.5px,#dc503b 112.5px,#ca404a 115.5px,#8f2468 117.5px,#480b6a 119.5px,#3c0965 120.5px,#490c6a 121.5px,#8c2369 123.5px,#be3853 125.5px,#c23b50 129.5px,#a22b61 131.5px,#58116d 133.5px,#360a60 134.5px,#270b52 135.5px,#310a5b 136.5px,#751b6d 138.5px,#ac305d 140.5px,#b93556 143.5px,#ad305c 145.5px,#7b1d6c 147.5px,#540f6c 148.5px,#2f0b5a 149.5px,#1c0c43 150.5px,#200c49 151.5px,#330a5d 152.5px)"></i><i style="background:linear-gradient(90deg,#6b176e 0.5px,#4a0d69 1.5px,#2b0b55 2.5px,#200c48 3.5px,#2e0b59 4.5px,#510e6b 5.5px,#9f2a63 7.5px,#c43c4f 9.5px,#c53d4e 12.5px,#a22c61 14.5px,#57106d 16.5px,#370a61 17.5px,#2b0b57 18.5px,#390a62 19.5px,#85216a 21.5px,#c33b4f 23.5px,#d44842 26.5px,#c83f4b 28.5px,#902568 30.5px,#4a0c6a 32.5px,#3e0966 33.5px,#4c0c6b 34.5px,#962766 36.5px,#bc3754 37.5px,#df5338 39.5px,#e35933 42.5px,#ca414a 44.5px,#85216b 46.5px,#66166e 47.5px,#5b116e 48.5px,#68166e 49.5px,#b33359 51.5px,#d64b40 52.5px,#f2731d 54.5px,#f67f14 57.5px,#ed6925 59.5px,#bc3754 62.5px,#b93656 63.5px,#db503b 65.5px,#f98c0b 67.5px,#fca40b 68.5px,#f6d746 72.5px,#f2f483 75.5px,#f4f78d 79.5px,#f2f17a 81.5px,#f9c72f 84.5px,#fcb015 85.5px,#fa910a 86.5px,#dd5239 88.5px,#c73e4d 90.5px,#de5338 92.5px,#f57d15 95.5px,#ee6a24 99.5px,#c9404a 101.5px,#7c1e6c 103.5px,#65156e 104.5px,#64156e 105.5px,#9a2864 107.5px,#d14644 109.5px,#dc503b 112.5px,#c33c4f 115.5px,#801f6c 117.5px,#420a68 119.5px,#410a67 120.5px,#791d6d 122.5px,#b73557 124.5px,#c73e4c 127.5px,#af315b 130.5px,#6c186e 132.5px,#2d0b59 134.5px,#2c0b57 135.5px,#67166e 137.5px,#a62d60 139.5px,#b93656 141.5px,#b2325a 144.5px,#87216a 146.5px,#61146e 147.5px,#210c4b 149.5px,#200c48 150.5px,#520f6c 152.5px)"></i><i style="background:linear-gradient(90deg,#8b2369 0.5px,#430b67 2.5px,#280b52 3.5px,#240c4e 4.5px,#390a61 5.5px,#5f136d 6.5px,#a92e5e 8.5px,#c63e4d 10.5px,#c33b4f 13.5px,#972766 15.5px,#4a0c6a 17.5px,#320a5d 18.5px,#310a5c 19.5px,#6f196e 21.5px,#b83556 23.5px,#d24744 25.5px,#cf4446 28.5px,#a32c61 30.5px,#59116d 32.5px,#430a68 33.5px,#450b69 34.5px,#86216a 36.5px,#cd4348 38.5px,#e55b31 41.5px,#e05536 43.5px,#b83556 45.5px,#71196e 47.5px,#5e136e 48.5px,#64156e 49.5px,#a92f5e 51.5px,#d04545 52.5px,#f1711f 54.5px,#f68013 57.5px,#ef6d22 59.5px,#c03a51 62.5px,#bb3755 63.5px,#da4e3c 65.5px,#f8890d 67.5px,#fca30a 68.5px,#f6d746 72.5px,#f2f483 75.5px,#f4f78d 79.5px,#f2f17a 81.5px,#f9c62e 84.5px,#fcae13 85.5px,#f98f0b 86.5px,#dc513a 88.5px,#c93f4b 90.5px,#f47a18 94.5px,#f47a17 97.5px,#ec6826 99.5px,#c23b4f 101.5px,#761b6d 103.5px,#65156e 104.5px,#6a176e 105.5px,#a72e5f 107.5px,#d64a40 109.5px,#d84c3e 113.5px,#bb3754 115.5px,#71196e 117.5px,#500e6c 118.5px,#410a67 119.5px,#4b0c6b 120.5px,#8c2369 122.5px,#bf3952 124.5px,#c33b4f 128.5px,#a22b61 130.5px,#58106d 132.5px,#380a61 133.5px,#2c0b57 134.5px,#390a62 135.5px,#7e1e6c 137.5px,#b1325b 139.5px,#b53458 143.5px,#922567 145.5px,#470c69 147.5px,#290b54 148.5px,#200c49 149.5px,#300a5a 150.5px,#520f6b 151.5px,#721a6d 152.5px)"></i><i style="background:linear-gradient(90deg,#a52d60 0.5px,#61146d 2.5px,#3c0a63 3.5px,#260c51 4.5px,#2a0b55 5.5px,#6d186e 7.5px,#b2325a 9.5px,#c83f4b 11.5px,#bf3952 14.5px,#8a2269 16.5px,#400a66 18.5px,#310a5c 19.5px,#3b0a63 20.5px,#83206b 22.5px,#c33b4f 24.5px,#d54941 27.5px,#c9404b 29.5px,#902568 31.5px,#4c0d6b 33.5px,#440a69 34.5px,#540f6d 35.5px,#a12b62 37.5px,#c43c4e 38.5px,#e15635 40.5px,#e35833 43.5px,#c33c4f 45.5px,#7c1d6c 47.5px,#64156e 48.5px,#63146e 49.5px,#791c6d 50.5px,#c8404b 52.5px,#e35932 53.5px,#f47a18 55.5px,#f57d15 58.5px,#d54941 61.5px,#bd3853 63.5px,#d84d3e 65.5px,#f8870e 67.5px,#fca209 68.5px,#f6d746 72.5px,#f2f483 75.5px,#f4f78d 79.5px,#f2f17a 81.5px,#f9c62d 84.5px,#fcad12 85.5px,#f98c0c 86.5px,#db4f3b 88.5px,#cc4149 90.5px,#f57c16 94.5px,#f1721d 98.5px,#da4e3c 100.5px,#912567 102.5px,#721a6e 103.5px,#66166e 104.5px,#731a6e 105.5px,#cd4348 108.5px,#dd5239 110.5px,#d64a40 113.5px,#b0325b 115.5px,#64156e 117.5px,#490c6a 118.5px,#450a69 119.5px,#58106d 120.5px,#9e2a63 122.5px,#c43c4e 124.5px,#bf3952 128.5px,#922567 130.5px,#460b69 132.5px,#300a5c 133.5px,#330a5e 134.5px,#71196d 136.5px,#ac2f5d 138.5px,#ba3655 141.5px,#af315b 143.5px,#7b1d6c 145.5px,#540f6c 146.5px,#320a5c 147.5px,#220c4c 148.5px,#2c0b56 149.5px,#4a0d69 150.5px,#8e2468 152.5px)"></i><i style="background:linear-gradient(90deg,#b63457 0.5px,#801f6b 2.5px,#59116d 3.5px,#370a60 4.5px,#270b52 5.5px,#320a5d 6.5px,#530f6c 7.5px,#a12b62 9.5px,#c53d4e 11.5px,#c63e4d 14.5px,#a02b62 16.5px,#550f6c 18.5px,#3a0a63 19.5px,#350a60 20.5px,#490c6a 21.5px,#972765 23.5px,#cb4149 25.5px,#d54941 28.5px,#c03a51 30.5px,#7d1e6c 32.5px,#5a116d 33.5px,#470b6a 34.5px,#4d0d6b 35.5px,#922567 37.5px,#d34743 39.5px,#e65d2f 42.5px,#de5238 44.5px,#ae315c 46.5px,#6b176e 48.5px,#63146e 49.5px,#731a6e 50.5px,#c03a51 52.5px,#df5437 53.5px,#f47819 55.5px,#f67f13 58.5px,#da4e3c 61.5px,#bf3952 63.5px,#d74b3f 65.5px,#f7850f 67.5px,#fba009 68.5px,#f6d847 72.5px,#f2f483 75.5px,#f4f78d 79.5px,#f2f17a 81.5px,#fac52c 84.5px,#fcab10 85.5px,#f8890d 86.5px,#da4f3c 88.5px,#cf4446 90.5px,#f67e14 94.5px,#f1711f 98.5px,#d44941 100.5px,#89226a 102.5px,#6f196e 103.5px,#6a176e 104.5px,#7c1e6c 105.5px,#be3952 107.5px,#dc513a 109.5px,#d34743 113.5px,#a42c61 115.5px,#59116d 117.5px,#470b6a 118.5px,#4d0d6b 119.5px,#8c2369 121.5px,#c03a51 123.5px,#c83f4c 126.5px,#b93656 128.5px,#7e1e6c 130.5px,#3a0a63 132.5px,#310a5d 133.5px,#420b67 134.5px,#89226a 136.5px,#b53358 138.5px,#b93656 141.5px,#a42c61 143.5px,#62146e 145.5px,#260b51 147.5px,#290b54 148.5px,#67166e 150.5px,#a22b62 152.5px)"></i><i style="background:linear-gradient(90deg,#c03952 0.5px,#9c2964 2.5px,#510e6b 4.5px,#330a5d 5.5px,#2a0b56 6.5px,#3c0a64 7.5px,#60136e 8.5px,#ab2f5d 10.5px,#c83f4c 12.5px,#c43c4f 15.5px,#942666 17.5px,#4a0c6a 19.5px,#370961 20.5px,#3d0a65 21.5px,#83206b 23.5px,#c33c4f 25.5px,#d74b3f 28.5px,#ca404a 30.5px,#902568 32.5px,#4f0d6c 34.5px,#4a0c6b 35.5px,#5e126e 36.5px,#ac305d 38.5px,#dc503a 40.5px,#e65d2f 43.5px,#d54941 45.5px,#952666 47.5px,#741b6d 48.5px,#66156e 49.5px,#6f196e 50.5px,#b83556 52.5px,#da4e3c 53.5px,#f3771a 55.5px,#f68112 58.5px,#ec6826 60.5px,#cc4248 62.5px,#c53d4d 64.5px,#e9632a 66.5px,#f78211 67.5px,#fb9e08 68.5px,#f6d847 72.5px,#f2f483 75.5px,#f4f78d 79.5px,#f2f17a 81.5px,#fac42b 84.5px,#fca90f 85.5px,#f8870e 86.5px,#da4e3c 88.5px,#d24743 90.5px,#f37819 93.5px,#f67f14 96.5px,#e65d2f 99.5px,#a82e5e 101.5px,#83206b 102.5px,#6e186e 103.5px,#70196e 104.5px,#aa2f5e 106.5px,#d84c3e 108.5px,#d94d3d 112.5px,#b93655 114.5px,#6e186e 116.5px,#510e6c 117.5px,#490b6a 118.5px,#59116d 119.5px,#9e2a63 121.5px,#c63d4d 123.5px,#c03a51 127.5px,#912567 129.5px,#470b69 131.5px,#340a5f 132.5px,#3b0a63 133.5px,#7b1d6c 135.5px,#b1325a 137.5px,#bb3755 140.5px,#ab2f5d 142.5px,#6f196e 144.5px,#2d0b58 146.5px,#280b53 147.5px,#3c0a63 148.5px,#84206b 150.5px,#ad305c 152.5px)"></i><i style="background:linear-gradient(90deg,#c33c4f 0.5px,#b0315b 2.5px,#6f196d 4.5px,#300a5b 6.5px,#2f0a5b 7.5px,#6e186e 9.5px,#b43359 11.5px,#ca404a 13.5px,#bf3952 16.5px,#87216a 18.5px,#420a67 20.5px,#390963 21.5px,#4a0c6a 22.5px,#962766 24.5px,#b83556 25.5px,#d44842 27.5px,#d14545 30.5px,#a32c61 32.5px,#5b116e 34.5px,#4c0c6b 35.5px,#550f6d 36.5px,#9d2963 38.5px,#d84c3e 40.5px,#e75e2e 43.5px,#db4f3b 45.5px,#a32c61 47.5px,#6a176e 49.5px,#6c186e 50.5px,#86216a 51.5px,#d44942 53.5px,#f2751c 55.5px,#f78311 58.5px,#ef6d22 60.5px,#c53d4e 63.5px,#d54941 65.5px,#f68013 67.5px,#fb9d08 68.5px,#f6d847 72.5px,#f2f483 75.5px,#f4f78d 79.5px,#f2f17a 81.5px,#fac329 84.5px,#fca70d 85.5px,#f78510 86.5px,#da4e3c 88.5px,#d54a41 90.5px,#f57b16 93.5px,#f67f14 96.5px,#e25833 99.5px,#a02b62 101.5px,#7d1e6c 102.5px,#6e196e 103.5px,#781c6d 104.5px,#b63457 106.5px,#dc503a 108.5px,#d74b3f 112.5px,#ae305c 114.5px,#62146e 116.5px,#4e0d6c 117.5px,#500e6c 118.5px,#8c2369 120.5px,#c13a51 122.5px,#c9404b 125.5px,#b93656 127.5px,#7d1e6c 129.5px,#3c0a64 131.5px,#370961 132.5px,#6e186e 134.5px,#ab2f5d 136.5px,#bc3754 138.5px,#b0315b 141.5px,#7c1d6c 143.5px,#350a5f 145.5px,#290b54 146.5px,#360a60 147.5px,#7c1d6c 149.5px,#ab2f5d 151.5px,#b2325a 152.5px)"></i><i style="background:linear-gradient(90deg,#c43c4e 0.5px,#bd3853 2.5px,#8e2468 4.5px,#430b67 6.5px,#300a5b 7.5px,#370a61 8.5px,#7c1e6c 10.5px,#bb3754 12.5px,#cc4249 15.5px,#b93655 17.5px,#781c6d 19.5px,#3e0a66 21.5px,#400a67 22.5px,#821f6b 24.5px,#c43c4f 26.5px,#d74b40 28.5px,#ca414a 31.5px,#902568 33.5px,#520e6d 35.5px,#510e6c 36.5px,#67166e 37.5px,#b63457 39.5px,#e05536 41.5px,#e65d2f 44.5px,#cf4446 46.5px,#8c2369 48.5px,#71196e 49.5px,#6c186e 50.5px,#801f6c 51.5px,#cd4347 53.5px,#f1721e 55.5px,#f78310 58.5px,#f1711f 60.5px,#c83f4c 63.5px,#d44942 65.5px,#fb9b08 68.5px,#f6d847 72.5px,#f2f483 75.5px,#f4f78d 79.5px,#f2f17a 81.5px,#fac229 84.5px,#fca50c 85.5px,#f68212 86.5px,#da4e3d 88.5px,#d94d3d 90.5px,#f67f14 93.5px,#f67f14 96.5px,#ed6925 98.5px,#de5338 99.5px,#982765 101.5px,#791c6d 102.5px,#711a6e 103.5px,#811f6c 104.5px,#c13b50 106.5px,#df5338 108.5px,#d44842 112.5px,#a02b62 114.5px,#59116e 116.5px,#4e0d6c 117.5px,#5b126e 118.5px,#b93656 121.5px,#cb4149 123.5px,#c13a51 126.5px,#902568 128.5px,#480b69 130.5px,#390963 131.5px,#430b68 132.5px,#86216a 134.5px,#b53458 136.5px,#bb3754 139.5px,#a52d60 141.5px,#63146e 143.5px,#3f0a65 144.5px,#2c0b58 145.5px,#330a5d 146.5px,#741b6d 148.5px,#a92e5e 150.5px,#b43359 152.5px)"></i><i style="background:linear-gradient(90deg,#c43c4f 0.5px,#bb3755 3.5px,#86216a 5.5px,#3f0a65 7.5px,#320a5e 8.5px,#400a66 9.5px,#8a2369 11.5px,#c13a51 13.5px,#cb4149 16.5px,#b2325a 18.5px,#6b176e 20.5px,#4b0c6a 21.5px,#3f0966 22.5px,#4c0c6b 23.5px,#962766 25.5px,#cc4248 27.5px,#d74b3f 30.5px,#c13a50 32.5px,#7d1e6c 34.5px,#5d126e 35.5px,#510e6c 36.5px,#5e126e 37.5px,#a82e5e 39.5px,#ca404a 40.5px,#e45b31 42.5px,#e35932 45.5px,#d74b3f 46.5px,#992865 48.5px,#791c6d 49.5px,#6d186e 50.5px,#7a1d6d 51.5px,#c53e4d 53.5px,#e25833 54.5px,#f57c16 56.5px,#f68112 59.5px,#d94e3d 62.5px,#c83f4b 64.5px,#e65d2f 66.5px,#fb9908 68.5px,#f6d847 72.5px,#f2f483 75.5px,#f4f78d 79.5px,#f2f17a 81.5px,#fac127 84.5px,#fca30b 85.5px,#f68013 86.5px,#d94e3d 88.5px,#dc503a 90.5px,#f78112 93.5px,#f67f14 96.5px,#eb6628 98.5px,#d94e3d 99.5px,#902568 101.5px,#771c6d 102.5px,#771c6d 103.5px,#ad305c 105.5px,#db4f3c 107.5px,#df5437 110.5px,#cf4446 112.5px,#922567 114.5px,#540f6d 116.5px,#540f6d 117.5px,#8d2369 119.5px,#c23b50 121.5px,#cb414a 124.5px,#ba3655 126.5px,#7c1e6c 128.5px,#3f0a66 130.5px,#3e0a66 131.5px,#781c6d 133.5px,#b1325a 135.5px,#bd3854 138.5px,#ad305d 140.5px,#70196d 142.5px,#320a5d 144.5px,#310a5c 145.5px,#6c186e 147.5px,#a62d60 149.5px,#b53358 152.5px)"></i><i style="background:linear-gradient(90deg,#c13a51 0.5px,#c23b50 3.5px,#a02b62 5.5px,#57106d 7.5px,#3b0a64 8.5px,#360961 9.5px,#4b0c6a 10.5px,#982765 12.5px,#c63d4d 14.5px,#ca404a 17.5px,#a82e5f 19.5px,#5f136e 21.5px,#460b69 22.5px,#440a68 23.5px,#5b116d 24.5px,#a82e5f 26.5px,#d24644 28.5px,#d64a40 31.5px,#b43358 33.5px,#6c186e 35.5px,#56106d 36.5px,#58106e 37.5px,#711a6e 38.5px,#bf3a52 40.5px,#e35833 42.5px,#e65d2f 45.5px,#c83f4b 47.5px,#84206b 49.5px,#711a6e 50.5px,#771c6d 51.5px,#bd3953 53.5px,#de5338 54.5px,#f57b17 56.5px,#f78310 59.5px,#dd5239 62.5px,#ca404a 64.5px,#e45b30 66.5px,#fb9708 68.5px,#f6d847 72.5px,#f2f483 75.5px,#f4f78d 79.5px,#f2f17a 81.5px,#fac026 84.5px,#fba10a 85.5px,#e75f2d 87.5px,#d74b3f 89.5px,#f78410 93.5px,#f57d15 96.5px,#e9622b 98.5px,#af315b 100.5px,#8a236a 101.5px,#771c6d 102.5px,#7d1e6c 103.5px,#d24743 106.5px,#e15635 109.5px,#d84c3e 111.5px,#ab2f5d 113.5px,#62146e 115.5px,#540f6d 116.5px,#5e126e 117.5px,#ba3655 120.5px,#cc4248 122.5px,#c23b50 125.5px,#8f2468 127.5px,#490c6a 129.5px,#3e0966 130.5px,#4c0d6b 131.5px,#902468 133.5px,#b93656 135.5px,#bb3755 138.5px,#9e2a63 140.5px,#57106d 142.5px,#390a62 143.5px,#310a5c 144.5px,#420b67 145.5px,#88226a 147.5px,#b0315b 149.5px,#b43359 152.5px)"></i><i style="background:linear-gradient(90deg,#b73557 0.5px,#c53d4e 3.5px,#b43358 5.5px,#751b6d 7.5px,#3a0963 9.5px,#3c0a64 10.5px,#7e1e6c 12.5px,#bd3853 14.5px,#cd4348 17.5px,#b93656 19.5px,#761b6d 21.5px,#540f6d 22.5px,#440a69 23.5px,#4e0d6b 24.5px,#952666 26.5px,#cd4348 28.5px,#d94c3e 31.5px,#c23b50 33.5px,#7d1e6c 35.5px,#60136e 36.5px,#57106d 37.5px,#67166e 38.5px,#b23359 40.5px,#d14644 41.5px,#e9612c 44.5px,#e25734 46.5px,#b33359 48.5px,#771c6d 50.5px,#761b6e 51.5px,#8e2469 52.5px,#d84d3e 54.5px,#f47918 56.5px,#f7850f 59.5px,#ee6c23 61.5px,#d34743 63.5px,#d34743 65.5px,#fa9508 68.5px,#f9ca33 71.5px,#f2f483 75.5px,#f4f78d 79.5px,#f2f17a 81.5px,#fabe25 84.5px,#fb9f0a 85.5px,#e65e2e 87.5px,#da4e3d 89.5px,#f8860e 93.5px,#f57d15 96.5px,#e65d2f 98.5px,#a72d5f 100.5px,#86216b 101.5px,#7a1d6d 102.5px,#86216b 103.5px,#c43c4e 105.5px,#e15635 107.5px,#d44842 111.5px,#c03a51 112.5px,#761b6d 114.5px,#5c126e 115.5px,#58106e 116.5px,#6b176e 117.5px,#ae315c 119.5px,#cc4149 121.5px,#c73e4c 124.5px,#a12b62 126.5px,#57106d 128.5px,#420a68 129.5px,#460b69 130.5px,#83206b 132.5px,#b63458 134.5px,#bd3853 137.5px,#a72d5f 139.5px,#64156e 141.5px,#430b67 142.5px,#330a5e 143.5px,#3e0a65 144.5px,#801f6b 146.5px,#ae315c 148.5px,#b0315b 152.5px)"></i><i style="background:linear-gradient(90deg,#a32c61 0.5px,#c13a51 2.5px,#c03a51 5.5px,#932667 7.5px,#4b0c6a 9.5px,#3a0964 10.5px,#450b68 11.5px,#8c2369 13.5px,#c33b4f 15.5px,#cd4248 18.5px,#b0325a 20.5px,#69176e 22.5px,#4e0d6b 23.5px,#480b6a 24.5px,#5c126e 25.5px,#a82e5f 27.5px,#c53d4e 28.5px,#da4e3c 31.5px,#cc4248 33.5px,#912567 35.5px,#6e186e 36.5px,#5a116e 37.5px,#60136e 38.5px,#a42c60 40.5px,#c83f4c 41.5px,#e55c30 43.5px,#e55c30 46.5px,#bf3a51 48.5px,#7f1e6c 50.5px,#761b6e 51.5px,#88226a 52.5px,#d24743 54.5px,#f3771a 56.5px,#f8860e 59.5px,#f0701f 61.5px,#d64a40 63.5px,#d34743 65.5px,#f2741c 67.5px,#fa9309 68.5px,#f9ca33 71.5px,#f2f483 75.5px,#f4f78d 79.5px,#f2f17a 81.5px,#f6d644 83.5px,#fb9d09 85.5px,#e65d2f 87.5px,#dc513a 89.5px,#f8880d 93.5px,#f57c16 96.5px,#e25834 98.5px,#9f2a62 100.5px,#83206b 101.5px,#7e1e6c 102.5px,#902568 103.5px,#cd4347 105.5px,#e25833 107.5px,#dc503b 110.5px,#b43458 112.5px,#6b176e 114.5px,#5a116e 115.5px,#60136e 116.5px,#bb3755 119.5px,#ce4347 121.5px,#c33b4f 124.5px,#8f2468 126.5px,#4c0c6b 128.5px,#440a69 129.5px,#550f6d 130.5px,#b1325a 133.5px,#bf3952 136.5px,#ae305c 138.5px,#71196d 140.5px,#4d0d6b 141.5px,#380962 142.5px,#3b0a63 143.5px,#791c6d 145.5px,#ac305d 147.5px,#b43359 150.5px,#a52c60 152.5px)"></i><i style="background:linear-gradient(90deg,#85206b 0.5px,#b83556 2.5px,#c53d4e 5.5px,#ab2f5d 7.5px,#65156e 9.5px,#470b69 10.5px,#3d0965 11.5px,#4f0d6b 12.5px,#992865 14.5px,#c83e4c 16.5px,#cb4149 19.5px,#a62d60 21.5px,#5e136e 23.5px,#4b0c6b 24.5px,#500e6c 25.5px,#942666 27.5px,#ce4347 29.5px,#da4e3d 32.5px,#c23b50 34.5px,#7f1e6c 36.5px,#63146e 37.5px,#5d126e 38.5px,#70196e 39.5px,#bc3853 41.5px,#d74b3f 42.5px,#ea632a 45.5px,#df5437 47.5px,#a92e5e 49.5px,#88226a 50.5px,#791c6d 51.5px,#83206b 52.5px,#cb4149 54.5px,#e65d2f 55.5px,#f68113 57.5px,#f78311 60.5px,#d14545 64.5px,#e15734 66.5px,#fa9109 68.5px,#f9ca33 71.5px,#f2f483 75.5px,#f4f78d 79.5px,#f2f17a 81.5px,#f6d543 83.5px,#fb9b09 85.5px,#e65d2f 87.5px,#dd5139 88.5px,#e9622b 90.5px,#f78410 92.5px,#f78311 95.5px,#ee6b23 97.5px,#be3952 99.5px,#821f6c 101.5px,#84206b 102.5px,#d54941 105.5px,#e45a32 107.5px,#d94d3e 110.5px,#a82e5f 112.5px,#64156e 114.5px,#5c126e 115.5px,#6d186e 116.5px,#af315b 118.5px,#cd4248 120.5px,#c83f4b 123.5px,#a02b62 125.5px,#58106d 127.5px,#470b6a 128.5px,#4e0d6b 129.5px,#8d2468 131.5px,#ba3655 133.5px,#bd3853 136.5px,#9f2a62 138.5px,#59116d 140.5px,#3e0a65 141.5px,#3a0963 142.5px,#71196d 144.5px,#aa2e5e 146.5px,#b53458 149.5px,#a32c61 151.5px,#8f2468 152.5px)"></i><i style="background:linear-gradient(90deg,#62146e 0.5px,#a62d60 2.5px,#c53c4e 4.5px,#bc3754 7.5px,#83206b 9.5px,#440b68 11.5px,#430a68 12.5px,#5a116d 13.5px,#a52d60 15.5px,#cb4149 17.5px,#c93f4b 20.5px,#9a2864 22.5px,#56106d 24.5px,#4c0c6b 25.5px,#5d126e 26.5px,#a72e5f 28.5px,#c53d4e 29.5px,#da4e3c 31.5px,#cd4348 34.5px,#912567 36.5px,#6f196e 37.5px,#5f136e 38.5px,#68166e 39.5px,#af315b 41.5px,#cf4546 42.5px,#e75f2d 44.5px,#e35932 47.5px,#b63457 49.5px,#7e1e6c 51.5px,#811f6c 52.5px,#c33c4f 54.5px,#e15734 55.5px,#f67f14 57.5px,#f8850f 60.5px,#d34743 64.5px,#e15635 66.5px,#f98f0a 68.5px,#fbbc21 70.5px,#f1ef75 74.5px,#f4f88e 77.5px,#f3f587 80.5px,#f2e661 82.5px,#fbba20 84.5px,#fb9809 85.5px,#e55c30 87.5px,#de5238 88.5px,#ec6727 90.5px,#f8870e 92.5px,#f78311 95.5px,#ec6727 97.5px,#b63557 99.5px,#942667 100.5px,#83206b 101.5px,#8c2369 102.5px,#db4f3b 105.5px,#e35933 108.5px,#d44941 110.5px,#9a2864 112.5px,#751b6d 113.5px,#60136e 114.5px,#63146e 115.5px,#bc3754 118.5px,#cf4446 120.5px,#c33c4f 123.5px,#b0315b 124.5px,#69166e 126.5px,#4e0d6c 127.5px,#4a0c6b 128.5px,#811f6b 130.5px,#b63457 132.5px,#bf3952 135.5px,#a92e5e 137.5px,#66156e 139.5px,#460b69 140.5px,#3b0964 141.5px,#490c6a 142.5px,#8c2369 144.5px,#b33359 146.5px,#b2325a 149.5px,#8d2469 151.5px,#70196e 152.5px)"></i><i style="background:linear-gradient(90deg,#450b68 0.5px,#8b2369 2.5px,#ac2f5d 3.5px,#c63d4d 5.5px,#c43c4e 7.5px,#9f2a62 9.5px,#57106d 11.5px,#440a68 12.5px,#4a0c6a 13.5px,#8d2468 15.5px,#c53d4e 17.5px,#ce4347 20.5px,#af315b 22.5px,#68166e 24.5px,#520e6d 25.5px,#530f6d 26.5px,#942666 28.5px,#ce4447 30.5px,#db4f3b 33.5px,#c33c4f 35.5px,#7f1f6c 37.5px,#66156e 38.5px,#64156e 39.5px,#7b1d6d 40.5px,#c53d4d 42.5px,#e65d2f 44.5px,#e75e2e 47.5px,#c23b50 49.5px,#85216b 51.5px,#811f6c 52.5px,#bb3854 54.5px,#dc5139 55.5px,#f57d15 57.5px,#f8870e 60.5px,#d64a40 64.5px,#e05536 66.5px,#f98d0b 68.5px,#fca80e 69.5px,#f1ef75 74.5px,#f4f88e 77.5px,#f3f587 80.5px,#f2e661 82.5px,#fbb91e 84.5px,#fa9609 85.5px,#e55c30 87.5px,#e05436 88.5px,#f8890c 92.5px,#f78211 95.5px,#e9622b 97.5px,#af315b 99.5px,#902468 100.5px,#86216b 101.5px,#b43358 103.5px,#df5437 105.5px,#e35833 108.5px,#ce4446 110.5px,#8c2369 112.5px,#6c186e 113.5px,#61146e 114.5px,#6f196e 115.5px,#b0315b 117.5px,#cf4447 119.5px,#ca404a 122.5px,#a02b62 124.5px,#5a116e 126.5px,#4b0c6b 127.5px,#56106d 128.5px,#b1325a 131.5px,#c13a51 133.5px,#b0315b 136.5px,#500e6c 139.5px,#3e0966 140.5px,#450b69 141.5px,#85216a 143.5px,#b1325a 145.5px,#b43359 148.5px,#922567 150.5px,#4f0e6b 152.5px)"></i><i style="background:linear-gradient(90deg,#370961 0.5px,#4a0c6a 1.5px,#932667 3.5px,#c13a50 5.5px,#c33c4f 8.5px,#b53458 9.5px,#731a6d 11.5px,#530f6c 12.5px,#450b69 13.5px,#530f6c 14.5px,#9b2964 16.5px,#c9404b 18.5px,#cd4248 21.5px,#a42c60 23.5px,#5f136e 25.5px,#520e6d 26.5px,#5f136e 27.5px,#a72d5f 29.5px,#d54941 31.5px,#d94d3d 34.5px,#b53458 36.5px,#711a6e 38.5px,#64156e 39.5px,#71196e 40.5px,#ba3655 42.5px,#e45a31 44.5px,#e9622b 47.5px,#cc4348 49.5px,#8e2469 51.5px,#83206b 52.5px,#922567 53.5px,#d74b3f 55.5px,#f57b17 57.5px,#f8890c 60.5px,#f07020 62.5px,#d94d3d 64.5px,#df5436 66.5px,#f88b0c 68.5px,#fca70d 69.5px,#f1ef75 74.5px,#f4f88e 77.5px,#f3f587 80.5px,#f2e661 82.5px,#fbb71d 84.5px,#fa9409 85.5px,#e55c30 87.5px,#e75f2d 89.5px,#f98c0b 92.5px,#f78212 95.5px,#e65d2f 97.5px,#a82e5f 99.5px,#8e2469 100.5px,#8c2369 101.5px,#d74c3f 104.5px,#e65c2f 106.5px,#d94e3d 109.5px,#a52d60 111.5px,#67166e 113.5px,#67166e 114.5px,#bd3853 117.5px,#d14545 119.5px,#c43c4e 122.5px,#8e2468 124.5px,#510e6c 126.5px,#510e6c 127.5px,#aa2f5e 130.5px,#c13a51 132.5px,#b63458 135.5px,#801f6b 137.5px,#440a68 139.5px,#430a68 140.5px,#7e1e6c 142.5px,#af315b 144.5px,#b53458 147.5px,#982765 149.5px,#530f6c 151.5px,#380a61 152.5px)"></i><i style="background:linear-gradient(90deg,#400a66 0.5px,#3f0a66 1.5px,#510e6c 2.5px,#9a2864 4.5px,#c43c4f 6.5px,#c13b50 9.5px,#912567 11.5px,#4f0d6c 13.5px,#4a0c6b 14.5px,#5d126e 15.5px,#a72d5f 17.5px,#cd4248 19.5px,#ca404a 22.5px,#982865 24.5px,#5a116e 26.5px,#57106d 27.5px,#932667 29.5px,#cf4446 31.5px,#dc503a 34.5px,#c43c4f 36.5px,#811f6c 38.5px,#6a176e 39.5px,#6c186e 40.5px,#ac305d 42.5px,#ce4347 43.5px,#e8612c 45.5px,#e55c30 48.5px,#b93655 50.5px,#982865 51.5px,#87216b 52.5px,#8f2468 53.5px,#d04645 55.5px,#f47819 57.5px,#f98a0b 60.5px,#f2741c 62.5px,#dc503a 64.5px,#df5437 66.5px,#f8880e 68.5px,#fca50c 69.5px,#f1ef75 74.5px,#f4f88e 77.5px,#f3f587 80.5px,#f2e661 82.5px,#fbb51b 84.5px,#fa920a 85.5px,#e65d2f 87.5px,#e35932 88.5px,#f98d09 92.5px,#f68013 95.5px,#e15734 97.5px,#a22c61 99.5px,#8e2469 100.5px,#932667 101.5px,#dd5239 104.5px,#e55b31 107.5px,#d54941 109.5px,#972766 111.5px,#751b6d 112.5px,#67166e 113.5px,#721a6e 114.5px,#c63e4d 117.5px,#d04545 120.5px,#bc3854 122.5px,#5c126e 125.5px,#510e6c 126.5px,#5f136e 127.5px,#b73557 130.5px,#c13a51 133.5px,#aa2f5e 135.5px,#68166e 137.5px,#4b0c6b 138.5px,#430a68 139.5px,#550f6d 140.5px,#972765 142.5px,#b63457 144.5px,#b0315b 147.5px,#7e1e6c 149.5px,#3e0a65 151.5px,#340a5f 152.5px)"></i><i style="background:linear-gradient(90deg,#5d126d 0.5px,#480b6a 1.5px,#440a68 2.5px,#58106d 3.5px,#a12b62 5.5px,#c63d4d 7.5px,#bf3952 10.5px,#892269 12.5px,#4e0d6c 14.5px,#500d6c 15.5px,#8f2468 17.5px,#c73e4c 19.5px,#cf4446 22.5px,#ae305c 24.5px,#69166e 26.5px,#58106e 27.5px,#61136e 28.5px,#a72d5f 30.5px,#d64a40 32.5px,#da4e3c 35.5px,#cf4446 36.5px,#741b6e 39.5px,#6a176e 40.5px,#7a1d6d 41.5px,#c33c4f 43.5px,#e75e2e 45.5px,#e8612c 48.5px,#c53d4e 50.5px,#8d2369 52.5px,#8e2469 53.5px,#c9404a 55.5px,#e55c30 56.5px,#f78310 58.5px,#f8870e 61.5px,#df5437 64.5px,#df5437 66.5px,#f7860f 68.5px,#fca30b 69.5px,#f3e55f 73.5px,#f2f484 75.5px,#f4f78d 79.5px,#f2f17a 81.5px,#f7d23e 83.5px,#fbb419 84.5px,#f9900a 85.5px,#e65e2e 87.5px,#ed6826 89.5px,#f98a0c 91.5px,#f8880d 94.5px,#ef6d22 96.5px,#be3952 98.5px,#9e2a63 99.5px,#912568 100.5px,#9c2964 101.5px,#d34843 103.5px,#e65e2e 105.5px,#de5239 108.5px,#af315b 110.5px,#6f196e 112.5px,#6b176e 113.5px,#be3853 116.5px,#d24743 118.5px,#c53d4d 121.5px,#8e2468 123.5px,#6a176e 124.5px,#550f6d 125.5px,#59116e 126.5px,#b1325a 129.5px,#c33c4f 131.5px,#b2325a 134.5px,#540f6d 137.5px,#460b69 138.5px,#510e6c 139.5px,#aa2f5e 142.5px,#b93656 144.5px,#b2325a 146.5px,#a32c61 147.5px,#61146e 149.5px,#440b68 150.5px,#3b0964 151.5px,#450b68 152.5px)"></i><i style="background:linear-gradient(90deg,#821f6b 0.5px,#4a0c6b 2.5px,#480b6a 3.5px,#84206b 5.5px,#be3853 7.5px,#c73e4c 10.5px,#a52d60 12.5px,#5f136e 14.5px,#4f0d6c 15.5px,#57106d 16.5px,#9c2963 18.5px,#bb3754 19.5px,#d24644 21.5px,#cd4347 23.5px,#bf3952 24.5px,#7e1e6c 26.5px,#62146e 27.5px,#5b126e 28.5px,#6f196e 29.5px,#b83556 31.5px,#da4e3c 33.5px,#d74b3f 36.5px,#a52d60 38.5px,#82206b 39.5px,#6e196e 40.5px,#731a6e 41.5px,#b63557 43.5px,#d54941 44.5px,#ea6429 46.5px,#eb6429 48.5px,#cf4546 50.5px,#952666 52.5px,#8e2469 53.5px,#c23c4f 55.5px,#f1711f 57.5px,#f9890c 59.5px,#f9890c 61.5px,#db4f3b 65.5px,#ec6727 67.5px,#f78410 68.5px,#fca20a 69.5px,#f3e55f 73.5px,#f2f484 75.5px,#f4f78d 79.5px,#f2f079 81.5px,#f7d23e 83.5px,#fbb217 84.5px,#f98e0b 85.5px,#ef6e21 86.5px,#e75f2e 87.5px,#ef6d22 89.5px,#f98c0a 91.5px,#f8880d 94.5px,#ec6826 96.5px,#b73556 98.5px,#9c2964 99.5px,#952666 100.5px,#da4e3c 103.5px,#e85f2d 105.5px,#da4e3c 108.5px,#a22b61 110.5px,#7f1f6c 111.5px,#6e186e 112.5px,#751b6e 113.5px,#c83f4c 116.5px,#d24644 119.5px,#bd3853 121.5px,#5e136e 124.5px,#57106d 125.5px,#89226a 127.5px,#bc3754 129.5px,#c13a51 132.5px,#a32c61 134.5px,#5e136e 136.5px,#4a0c6b 137.5px,#4e0d6b 138.5px,#a62d60 141.5px,#b93656 143.5px,#a72d5f 146.5px,#69166e 148.5px,#4a0c6a 149.5px,#3f0a66 150.5px,#66156e 152.5px)"></i><i style="background:linear-gradient(90deg,#a42c60 0.5px,#4b0c6b 3.5px,#4d0d6b 4.5px,#8c2369 6.5px,#c13a51 8.5px,#c63e4d 11.5px,#9e2a63 13.5px,#5b116e 15.5px,#510e6c 16.5px,#61146e 17.5px,#a92e5e 19.5px,#cf4446 21.5px,#ca414a 24.5px,#962766 26.5px,#731a6d 27.5px,#5f136e 28.5px,#64156e 29.5px,#a62d5f 31.5px,#c63e4d 32.5px,#dd5239 34.5px,#d04545 37.5px,#932667 39.5px,#771c6d 40.5px,#71196e 41.5px,#84206b 42.5px,#cc4248 44.5px,#e9622b 46.5px,#e75f2e 49.5px,#bd3853 51.5px,#9f2a63 52.5px,#912568 53.5px,#9d2964 54.5px,#db503a 56.5px,#f67f13 58.5px,#f98c0b 61.5px,#dd5239 65.5px,#df5437 66.5px,#f68212 68.5px,#fba009 69.5px,#f3e55f 73.5px,#f2f484 75.5px,#f4f78d 79.5px,#f2f079 81.5px,#f7d03c 83.5px,#fbb016 84.5px,#f98c0c 85.5px,#ef6e21 86.5px,#e8602c 87.5px,#f1721e 89.5px,#fa8f09 91.5px,#f8870e 94.5px,#e9632a 96.5px,#b2325a 98.5px,#9b2964 99.5px,#9b2964 100.5px,#e05536 103.5px,#e8602c 105.5px,#d44941 108.5px,#952666 110.5px,#781c6d 111.5px,#70196e 112.5px,#a22b61 114.5px,#cf4446 116.5px,#d04545 119.5px,#b0325b 121.5px,#6b176e 123.5px,#5a116e 124.5px,#61146e 125.5px,#b73557 128.5px,#c33c4f 131.5px,#ac305d 133.5px,#500d6c 136.5px,#4d0c6b 137.5px,#83206b 139.5px,#b33359 141.5px,#b63457 144.5px,#932667 146.5px,#500e6c 148.5px,#410a67 149.5px,#4d0d6b 150.5px,#89226a 152.5px)"></i><i style="background:linear-gradient(90deg,#ba3655 0.5px,#84206b 2.5px,#61136e 3.5px,#4d0c6b 4.5px,#520e6c 5.5px,#942666 7.5px,#c43c4f 9.5px,#c53d4e 12.5px,#b53458 13.5px,#59116e 16.5px,#56106d 17.5px,#6c186e 18.5px,#b43359 20.5px,#d14644 22.5px,#d14645 24.5px,#c63d4d 25.5px,#6b176e 28.5px,#60136e 29.5px,#70196e 30.5px,#b83556 32.5px,#db4f3b 34.5px,#d84c3e 37.5px,#a52d60 39.5px,#84206b 40.5px,#731a6e 41.5px,#7c1d6d 42.5px,#c03a51 44.5px,#e8602d 46.5px,#ea632a 49.5px,#c83f4b 51.5px,#972766 53.5px,#9b2865 54.5px,#d64a40 56.5px,#f57d15 58.5px,#f98d09 61.5px,#e05436 65.5px,#ea6429 67.5px,#fb9e09 69.5px,#f3e55f 73.5px,#f3f484 75.5px,#f4f78d 79.5px,#f2f079 81.5px,#f8cf3a 83.5px,#fcaf14 84.5px,#f88a0d 85.5px,#ef6d21 86.5px,#e9622b 87.5px,#f3771a 89.5px,#fa9108 91.5px,#f8860f 94.5px,#e65d2f 96.5px,#ad305c 98.5px,#9c2964 99.5px,#a42c61 100.5px,#d64a40 102.5px,#e8612c 104.5px,#de5338 107.5px,#cd4348 108.5px,#89226a 110.5px,#741b6e 111.5px,#781c6d 112.5px,#c9404b 115.5px,#d34842 118.5px,#be3853 120.5px,#61146e 123.5px,#5e126e 124.5px,#b1325a 127.5px,#c53d4e 129.5px,#c13a51 131.5px,#9a2864 133.5px,#58106d 135.5px,#4e0d6c 136.5px,#5d126e 137.5px,#b1325a 140.5px,#b83556 143.5px,#992865 145.5px,#56106d 147.5px,#440a69 148.5px,#4c0d6b 149.5px,#a32c61 152.5px)"></i><i style="background:linear-gradient(90deg,#c43c4f 0.5px,#a32c61 2.5px,#60136e 4.5px,#4f0d6c 5.5px,#58106d 6.5px,#9b2964 8.5px,#b83556 9.5px,#cb4149 11.5px,#c33c4f 13.5px,#8f2468 15.5px,#6c186e 16.5px,#58106e 17.5px,#5d126e 18.5px,#9e2a63 20.5px,#bd3853 21.5px,#d44842 23.5px,#cf4446 25.5px,#a12b62 27.5px,#66156e 29.5px,#67166e 30.5px,#a62d5f 32.5px,#c63e4d 33.5px,#de5338 35.5px,#dd513a 37.5px,#b73557 39.5px,#7b1d6d 41.5px,#781c6d 42.5px,#b33359 44.5px,#d44842 45.5px,#eb6628 47.5px,#ec6727 49.5px,#d24743 51.5px,#9e2a63 53.5px,#9b2865 54.5px,#cf4545 56.5px,#f47a18 58.5px,#fa8f09 61.5px,#e25734 65.5px,#ea632a 67.5px,#fb9c08 69.5px,#f3e55f 73.5px,#f3f585 75.5px,#f4f78d 79.5px,#f2f079 81.5px,#f8cf3a 83.5px,#fcad13 84.5px,#f8880e 85.5px,#ef6e21 86.5px,#ea6429 87.5px,#fa9307 91.5px,#f78410 94.5px,#e15734 96.5px,#aa2e5e 98.5px,#a02a63 99.5px,#c73f4c 101.5px,#e75e2e 103.5px,#e45b31 106.5px,#c33c4f 108.5px,#811f6c 110.5px,#761b6e 111.5px,#84206b 112.5px,#c03a51 114.5px,#d54a41 116.5px,#c73e4c 119.5px,#8e2468 121.5px,#6d186e 122.5px,#5f136e 123.5px,#6b176e 124.5px,#bd3853 127.5px,#c33c4f 130.5px,#a52d60 132.5px,#62146e 134.5px,#510e6c 135.5px,#59116d 136.5px,#ae305c 139.5px,#ba3655 142.5px,#9f2a63 144.5px,#5d126e 146.5px,#480b6a 147.5px,#4c0c6b 148.5px,#a32c61 151.5px,#b0315b 152.5px)"></i><i style="background:linear-gradient(90deg,#c73e4d 0.5px,#b93655 2.5px,#5f136e 5.5px,#510e6c 6.5px,#5e126e 7.5px,#bc3854 10.5px,#cb414a 13.5px,#aa2f5e 15.5px,#68166e 17.5px,#5a116e 18.5px,#66156e 19.5px,#c53d4e 22.5px,#d44842 25.5px,#b63457 27.5px,#741b6d 29.5px,#66166e 30.5px,#721a6e 31.5px,#d14644 34.5px,#df5437 37.5px,#c63e4d 39.5px,#87216a 41.5px,#791c6d 42.5px,#85216b 43.5px,#ca414a 45.5px,#ea6429 47.5px,#ed6a25 49.5px,#db4f3b 51.5px,#a72d5f 53.5px,#9d2964 54.5px,#ab2f5d 55.5px,#e45b30 57.5px,#f8860e 59.5px,#f98b0b 62.5px,#e45b31 65.5px,#e25734 66.5px,#f47b16 68.5px,#fb9a08 69.5px,#f6d746 72.5px,#f3f585 75.5px,#f4f78d 79.5px,#f2f079 81.5px,#f8cd37 83.5px,#fcab11 84.5px,#f8870e 85.5px,#ef6e21 86.5px,#ec6727 87.5px,#fb9506 91.5px,#f78211 94.5px,#dd5239 96.5px,#a82e5f 98.5px,#a52d60 99.5px,#e25833 102.5px,#ea632a 104.5px,#d44942 107.5px,#942667 109.5px,#7c1d6d 110.5px,#7c1e6d 111.5px,#ca414a 114.5px,#d74b3f 116.5px,#ce4347 118.5px,#a02b62 120.5px,#65156e 122.5px,#66156e 123.5px,#b73557 126.5px,#c73e4c 128.5px,#bf3952 130.5px,#902568 132.5px,#560f6d 134.5px,#57106d 135.5px,#aa2f5e 138.5px,#bc3754 140.5px,#b53458 142.5px,#86216a 144.5px,#4c0c6b 146.5px,#4d0d6b 147.5px,#a22b62 150.5px,#b53458 152.5px)"></i><i style="background:linear-gradient(90deg,#c63e4d 0.5px,#c43c4f 2.5px,#a02a62 4.5px,#5e136e 6.5px,#540f6d 7.5px,#64156e 8.5px,#a92e5e 10.5px,#ca404a 12.5px,#ca404a 14.5px,#be3853 15.5px,#64156e 18.5px,#5d126e 19.5px,#70196e 20.5px,#b63457 22.5px,#d44842 24.5px,#d24743 26.5px,#ab2f5d 28.5px,#6e186e 30.5px,#6b176e 31.5px,#a62d5f 33.5px,#d84c3e 35.5px,#de5238 38.5px,#b83556 40.5px,#7f1e6c 42.5px,#801f6c 43.5px,#be3952 45.5px,#e8602c 47.5px,#ec6627 50.5px,#cc4248 52.5px,#a12b62 54.5px,#a82e5f 55.5px,#e05536 57.5px,#f78410 59.5px,#f98e09 62.5px,#e75f2e 65.5px,#e35932 66.5px,#e9622a 67.5px,#fb9808 69.5px,#f6d746 72.5px,#f3f585 75.5px,#f4f78d 79.5px,#f2f079 81.5px,#f8cc37 83.5px,#fca910 84.5px,#f7860f 85.5px,#f06e21 86.5px,#f2741c 88.5px,#fa9207 90.5px,#f98d0a 93.5px,#ec6925 95.5px,#bb3754 97.5px,#a82e5f 98.5px,#ac305d 99.5px,#e65d2f 102.5px,#e75f2d 105.5px,#cc4248 107.5px,#8a226a 109.5px,#7c1e6d 110.5px,#87216a 111.5px,#c13a50 113.5px,#d74b3f 115.5px,#c83f4b 118.5px,#70196e 121.5px,#65156e 122.5px,#741a6d 123.5px,#b0325b 125.5px,#c73e4c 127.5px,#c33b4f 129.5px,#9c2964 131.5px,#5d126e 133.5px,#57106d 134.5px,#89226a 136.5px,#b73457 138.5px,#b73557 141.5px,#8d2468 143.5px,#510e6c 145.5px,#4e0d6c 146.5px,#a02b62 149.5px,#b53458 151.5px,#b63458 152.5px)"></i><i style="background:linear-gradient(90deg,#c03952 0.5px,#c43c4f 3.5px,#b83556 4.5px,#5f136e 7.5px,#57106e 8.5px,#8d2468 10.5px,#c33c4f 12.5px,#c93f4b 15.5px,#9d2963 17.5px,#62146e 19.5px,#63146e 20.5px,#a12b62 22.5px,#d04446 24.5px,#d04546 27.5px,#9f2a62 29.5px,#7e1e6c 30.5px,#6d186e 31.5px,#751b6d 32.5px,#b83656 34.5px,#dd5239 36.5px,#d94e3d 39.5px,#a72e5f 41.5px,#89226a 42.5px,#7f1f6c 43.5px,#8f2468 44.5px,#d24743 46.5px,#ec6826 48.5px,#ee6a24 50.5px,#d64a40 52.5px,#a72d60 54.5px,#a72d5f 55.5px,#db503b 57.5px,#f78212 59.5px,#fa9008 62.5px,#e55b31 66.5px,#e9622b 67.5px,#fa9608 69.5px,#f6d746 72.5px,#f3f585 75.5px,#f4f78d 79.5px,#f2f078 81.5px,#f8cb35 83.5px,#fca80f 84.5px,#f7850f 85.5px,#f07020 86.5px,#ef6d22 87.5px,#fb9506 90.5px,#f98b0b 93.5px,#e9632a 95.5px,#b73557 97.5px,#ab2f5e 98.5px,#cc4248 100.5px,#e9622b 102.5px,#e65d2f 105.5px,#c23b50 107.5px,#84206b 109.5px,#811f6c 110.5px,#cc4249 113.5px,#d64a40 116.5px,#bf3952 118.5px,#7e1e6c 120.5px,#69176e 121.5px,#6e186e 122.5px,#be3853 125.5px,#c63d4d 128.5px,#a72e5f 130.5px,#66156e 132.5px,#59106e 133.5px,#64156e 134.5px,#b53458 137.5px,#b93656 140.5px,#942667 142.5px,#56106d 144.5px,#500d6c 145.5px,#821f6b 147.5px,#af315b 149.5px,#b43359 152.5px)"></i><i style="background:linear-gradient(90deg,#ab2f5d 0.5px,#c53d4e 2.5px,#c43c4f 4.5px,#9c2964 6.5px,#5f136e 8.5px,#5c126e 9.5px,#952666 11.5px,#c73e4d 13.5px,#c73e4c 16.5px,#962766 18.5px,#741b6d 19.5px,#63146e 20.5px,#6b176e 21.5px,#ad305c 23.5px,#d34743 25.5px,#d54941 27.5px,#b53458 29.5px,#771c6d 31.5px,#70196e 32.5px,#83206b 33.5px,#c73e4c 35.5px,#e15635 37.5px,#df5337 39.5px,#b83656 41.5px,#83206b 43.5px,#88226a 44.5px,#c83f4b 46.5px,#eb6528 48.5px,#ef6d22 50.5px,#de5338 52.5px,#af315b 54.5px,#a82e5f 55.5px,#d54a40 57.5px,#f67e14 59.5px,#fa9107 61.5px,#f98a0c 63.5px,#e65d2f 66.5px,#e9622b 67.5px,#fa9409 69.5px,#f9c62e 71.5px,#f1ef76 74.5px,#f4f88e 77.5px,#f3f587 80.5px,#f3e35b 82.5px,#fca60e 84.5px,#f78410 85.5px,#f1711f 86.5px,#f57e14 88.5px,#fb9706 90.5px,#f98a0c 93.5px,#e65d2f 95.5px,#b53458 97.5px,#af315b 98.5px,#e55c30 101.5px,#ea632a 104.5px,#d34842 106.5px,#942667 108.5px,#82206c 109.5px,#8a236a 110.5px,#c23b50 112.5px,#d94d3e 114.5px,#ca404a 117.5px,#721a6e 120.5px,#6c186e 121.5px,#9d2963 123.5px,#c63d4d 125.5px,#c23b50 128.5px,#932667 130.5px,#5d126e 132.5px,#62146e 133.5px,#b2325a 136.5px,#bb3754 139.5px,#9a2864 141.5px,#5b116e 143.5px,#510e6d 144.5px,#61136e 145.5px,#9e2a63 147.5px,#b63458 149.5px,#a92e5e 152.5px)"></i><i style="background:linear-gradient(90deg,#89226a 0.5px,#bc3754 2.5px,#c83f4c 4.5px,#b63457 6.5px,#60136e 9.5px,#60136e 10.5px,#9d2963 12.5px,#c9404b 14.5px,#cd4347 16.5px,#b0315b 18.5px,#71196e 20.5px,#65156e 21.5px,#751b6d 22.5px,#b83656 24.5px,#d64a40 26.5px,#d34842 28.5px,#aa2f5e 30.5px,#741b6e 32.5px,#781c6d 33.5px,#d24743 36.5px,#e25734 39.5px,#c73f4c 41.5px,#8d2369 43.5px,#86216b 44.5px,#992865 45.5px,#d94e3d 47.5px,#ee6b23 49.5px,#ed6925 51.5px,#d14645 53.5px,#ab2f5d 55.5px,#b53458 56.5px,#e8612c 58.5px,#f98b0b 60.5px,#f98d0a 63.5px,#e8602c 66.5px,#ea632a 67.5px,#fa9209 69.5px,#fac52d 71.5px,#f1ef76 74.5px,#f4f88e 77.5px,#f3f587 80.5px,#f3e35b 82.5px,#fca50d 84.5px,#f78410 85.5px,#f2731d 86.5px,#f78311 88.5px,#fb9906 90.5px,#f8880d 93.5px,#e25834 95.5px,#b53358 97.5px,#b53458 98.5px,#e9612b 101.5px,#e9612b 104.5px,#cb4149 106.5px,#8d2369 108.5px,#86216b 109.5px,#cd4348 112.5px,#da4e3c 114.5px,#d14645 116.5px,#a12b62 118.5px,#7f1f6c 119.5px,#6e186e 120.5px,#771b6d 121.5px,#c33b4f 124.5px,#c63d4d 127.5px,#9f2a63 129.5px,#63146e 131.5px,#60136e 132.5px,#af315b 135.5px,#bf3952 137.5px,#b43358 139.5px,#801f6b 141.5px,#61146e 142.5px,#540f6d 143.5px,#60136e 144.5px,#9c2964 146.5px,#b63458 148.5px,#b2325a 150.5px,#902568 152.5px)"></i><i style="background:linear-gradient(90deg,#66156e 0.5px,#bd3853 3.5px,#c93f4b 5.5px,#b43458 7.5px,#61146e 10.5px,#66156e 11.5px,#be3952 14.5px,#cf4446 16.5px,#c23b50 18.5px,#6e186e 21.5px,#6b176e 22.5px,#a32c61 24.5px,#d24644 26.5px,#d14545 29.5px,#9f2a63 31.5px,#801f6c 32.5px,#751b6e 33.5px,#85216b 34.5px,#c73e4c 36.5px,#e25734 38.5px,#e05536 40.5px,#b93655 42.5px,#89226a 44.5px,#912568 45.5px,#d14644 47.5px,#ed6925 49.5px,#ef6d22 51.5px,#d94e3d 53.5px,#b0315b 55.5px,#b43359 56.5px,#e45b31 58.5px,#f8890d 60.5px,#fa9008 63.5px,#ea632a 66.5px,#ea6429 67.5px,#fa900a 69.5px,#fcad12 70.5px,#f3e55f 73.5px,#f3f585 75.5px,#f4f78d 79.5px,#f1f077 81.5px,#f9c830 83.5px,#fba40c 84.5px,#f78410 85.5px,#f2751c 86.5px,#fb9b06 90.5px,#f8860f 93.5px,#dd5239 95.5px,#b63458 97.5px,#d14644 99.5px,#eb6628 101.5px,#e75e2e 104.5px,#c03a51 106.5px,#8a226a 108.5px,#8f2468 109.5px,#d44941 112.5px,#d64a40 115.5px,#b2325a 117.5px,#761b6d 119.5px,#731a6e 120.5px,#bf3952 123.5px,#c83f4b 126.5px,#aa2f5e 128.5px,#6b176e 130.5px,#62146e 131.5px,#711a6e 132.5px,#ab2f5d 134.5px,#bf3952 136.5px,#b83557 138.5px,#88226a 140.5px,#68166e 141.5px,#57106d 142.5px,#60136e 143.5px,#af315c 146.5px,#b2325a 149.5px,#8b2369 151.5px,#6d186e 152.5px)"></i><i style="background:linear-gradient(90deg,#56106d 0.5px,#67166e 1.5px,#bf3952 4.5px,#c9404b 6.5px,#b33359 8.5px,#751b6d 10.5px,#63146e 11.5px,#6b176e 12.5px,#c33b4f 15.5px,#d04545 17.5px,#be3952 19.5px,#6d186e 22.5px,#711a6e 23.5px,#c9404a 26.5px,#d94d3d 28.5px,#cc4248 30.5px,#7c1d6d 33.5px,#7c1d6d 34.5px,#d34743 37.5px,#e35933 40.5px,#c83f4b 42.5px,#902568 44.5px,#8e2469 45.5px,#c53e4d 47.5px,#ec6627 49.5px,#f06f20 51.5px,#e15635 53.5px,#b73557 55.5px,#b43359 56.5px,#e05536 58.5px,#f8860e 60.5px,#fa9207 63.5px,#ec6727 66.5px,#eb6528 67.5px,#f98e0a 69.5px,#fcac11 70.5px,#f3e55f 73.5px,#f3f585 75.5px,#f4f78d 79.5px,#f1ef76 81.5px,#f9c72f 83.5px,#fba20b 84.5px,#f78410 85.5px,#f3771a 86.5px,#fb9c06 90.5px,#f78311 93.5px,#d94d3d 95.5px,#b93656 97.5px,#e8602d 100.5px,#ee6a24 102.5px,#e45b31 104.5px,#b43458 106.5px,#962766 107.5px,#8c2369 108.5px,#ce4447 111.5px,#da4e3d 114.5px,#c03a51 116.5px,#821f6c 118.5px,#741b6e 119.5px,#801f6c 120.5px,#b83556 122.5px,#cc4249 124.5px,#c43c4e 126.5px,#952766 128.5px,#751b6d 129.5px,#64156e 130.5px,#6d186e 131.5px,#a72d5f 133.5px,#c03952 135.5px,#ba3655 137.5px,#8f2468 139.5px,#5b116e 141.5px,#60136e 142.5px,#ae305c 145.5px,#b43359 148.5px,#8c2369 150.5px,#520e6c 152.5px)"></i><i style="background:linear-gradient(90deg,#65156e 0.5px,#5e136e 1.5px,#6b176e 2.5px,#c03a51 5.5px,#ca404a 7.5px,#b2325a 9.5px,#741b6d 11.5px,#66156e 12.5px,#71196e 13.5px,#b1325a 15.5px,#cf4446 17.5px,#cb4149 19.5px,#9d2963 21.5px,#7e1e6c 22.5px,#6f196e 23.5px,#7a1d6d 24.5px,#bb3754 26.5px,#d84c3e 28.5px,#d54941 30.5px,#a92e5e 32.5px,#8a226a 33.5px,#7c1d6d 34.5px,#87216a 35.5px,#c83f4c 37.5px,#e35833 39.5px,#e15635 41.5px,#ba3754 43.5px,#9d2964 44.5px,#8f2469 45.5px,#9b2864 46.5px,#d84d3e 48.5px,#ef6d22 50.5px,#ef6d22 52.5px,#d54941 54.5px,#b63458 56.5px,#db503b 58.5px,#f78410 60.5px,#fb9506 62.5px,#f98b0b 64.5px,#ee6a24 66.5px,#ec6627 67.5px,#f98c0b 69.5px,#fcaa10 70.5px,#f3e55f 73.5px,#f3f585 75.5px,#f4f78d 79.5px,#f1ef76 81.5px,#f9c52d 83.5px,#fba10b 84.5px,#f78410 85.5px,#f47a18 86.5px,#fb9d06 90.5px,#fa9008 92.5px,#ea6429 94.5px,#c13a51 96.5px,#be3853 97.5px,#eb6528 100.5px,#ea632a 103.5px,#c9404a 105.5px,#922568 107.5px,#932567 108.5px,#d64a40 111.5px,#d84c3e 114.5px,#b23359 116.5px,#7a1d6d 118.5px,#7b1d6d 119.5px,#c43c4e 122.5px,#c83f4b 125.5px,#a12b62 127.5px,#6a176e 129.5px,#6b176e 130.5px,#b73557 133.5px,#bd3853 136.5px,#962766 138.5px,#5f136e 140.5px,#61136e 141.5px,#ad305c 144.5px,#b83556 146.5px,#a72e5f 148.5px,#56106d 151.5px,#510e6c 152.5px)"></i><i style="background:linear-gradient(90deg,#8a2269 0.5px,#62146e 2.5px,#6e186e 3.5px,#c13a50 6.5px,#ca404a 8.5px,#b1325a 10.5px,#741a6d 12.5px,#69166e 13.5px,#771c6d 14.5px,#b73557 16.5px,#d04545 18.5px,#c9404b 20.5px,#7a1d6d 23.5px,#721a6e 24.5px,#a62d5f 26.5px,#d44842 28.5px,#d14644 31.5px,#84206b 34.5px,#811f6c 35.5px,#b93656 37.5px,#d44842 38.5px,#e45a31 41.5px,#c9404a 43.5px,#952667 45.5px,#952666 46.5px,#e55c30 49.5px,#f1711e 51.5px,#eb6528 53.5px,#ba3655 56.5px,#c03a51 57.5px,#ec6727 59.5px,#fa8f09 61.5px,#fa8f09 64.5px,#ed6826 67.5px,#f1721e 68.5px,#f98b0c 69.5px,#fca90e 70.5px,#f3e55f 73.5px,#f3f586 75.5px,#f4f78d 79.5px,#f1ef76 81.5px,#f9c52c 83.5px,#fba00a 84.5px,#f7850f 85.5px,#f57d15 86.5px,#fb9d07 89.5px,#f98e09 92.5px,#e75f2e 94.5px,#c13a51 96.5px,#d64a40 98.5px,#ed6a24 100.5px,#e8602c 103.5px,#bf3952 105.5px,#a02b62 106.5px,#922567 107.5px,#9e2a63 108.5px,#d04545 110.5px,#dd5239 112.5px,#d44842 114.5px,#a22b61 116.5px,#85206b 117.5px,#7a1d6d 118.5px,#a72d5f 120.5px,#cb4149 122.5px,#c23b50 125.5px,#711a6e 128.5px,#6b176e 129.5px,#b43358 132.5px,#c23b50 134.5px,#b43359 136.5px,#63146e 139.5px,#62146e 140.5px,#ad305c 143.5px,#b93656 145.5px,#a92e5e 147.5px,#5a116e 150.5px,#5b116e 151.5px,#6c186e 152.5px)"></i><i style="background:linear-gradient(90deg,#ae315c 0.5px,#741b6d 2.5px,#65156e 3.5px,#70196e 4.5px,#ae315b 6.5px,#ca404a 8.5px,#c33c4f 10.5px,#741a6e 13.5px,#6c186e 14.5px,#7e1e6c 15.5px,#bd3853 17.5px,#d14644 19.5px,#c73e4c 21.5px,#781c6d 24.5px,#781c6d 25.5px,#cc4249 28.5px,#d84c3e 31.5px,#b33359 33.5px,#83206b 35.5px,#8b236a 36.5px,#dc503a 39.5px,#e65c2f 41.5px,#d54a41 43.5px,#a02b62 45.5px,#952667 46.5px,#a52c60 47.5px,#df5437 49.5px,#f1711f 51.5px,#ee6b23 53.5px,#c03952 56.5px,#bf3952 57.5px,#e8612c 59.5px,#f98e09 61.5px,#fa9208 64.5px,#ee6a24 67.5px,#f1721e 68.5px,#f8890d 69.5px,#fca70d 70.5px,#f3e55f 73.5px,#f3f586 75.5px,#f4f78d 79.5px,#f1ef76 81.5px,#fac32b 83.5px,#fba00a 84.5px,#f8860e 85.5px,#f68113 86.5px,#fc9f07 89.5px,#f98c0b 92.5px,#e35932 94.5px,#ce4347 95.5px,#c33c4f 96.5px,#de5238 98.5px,#ef6d22 100.5px,#e55b30 103.5px,#9a2865 106.5px,#982766 107.5px,#d84c3f 110.5px,#d94d3d 113.5px,#b33359 115.5px,#7f1e6c 117.5px,#84206b 118.5px,#c9404b 121.5px,#c73e4c 124.5px,#982865 126.5px,#7a1d6d 127.5px,#6d186e 128.5px,#791d6d 129.5px,#b1325a 131.5px,#c33b50 133.5px,#b83557 135.5px,#69166e 138.5px,#63146e 139.5px,#ac305d 142.5px,#ba3655 144.5px,#ab2f5e 146.5px,#5d126e 149.5px,#5f136e 150.5px,#912567 152.5px)"></i><i style="background:linear-gradient(90deg,#c23b50 0.5px,#962766 2.5px,#771c6d 3.5px,#68166e 4.5px,#731a6e 5.5px,#c43c4f 8.5px,#cb414a 10.5px,#ae315c 12.5px,#741b6e 14.5px,#70196e 15.5px,#c13b50 18.5px,#d34743 20.5px,#c33c4f 22.5px,#791c6d 25.5px,#801f6c 26.5px,#d14644 29.5px,#db4f3b 31.5px,#c63d4d 33.5px,#8e2469 35.5px,#86216b 36.5px,#982865 37.5px,#d44842 39.5px,#e65d2f 41.5px,#de5238 43.5px,#9a2865 46.5px,#9e2a63 47.5px,#e9622b 50.5px,#f2741c 52.5px,#e9622a 54.5px,#c63e4d 56.5px,#c03a51 57.5px,#e45b30 59.5px,#f98c0b 61.5px,#fa9507 64.5px,#ef6d22 67.5px,#f1721e 68.5px,#fca50c 70.5px,#f3e55f 73.5px,#f3f586 75.5px,#f4f78d 79.5px,#f1ef76 81.5px,#f4e055 82.5px,#fb9f0a 84.5px,#f8880d 85.5px,#f78410 86.5px,#fca108 89.5px,#f8890d 92.5px,#cc4249 95.5px,#c73e4c 96.5px,#ed6925 99.5px,#eb6628 102.5px,#c9404b 104.5px,#992865 106.5px,#a12b62 107.5px,#d14644 109.5px,#df5437 111.5px,#d54941 113.5px,#88226a 116.5px,#821f6c 117.5px,#c63d4d 120.5px,#cb4149 123.5px,#a42c60 125.5px,#711a6e 127.5px,#771c6d 128.5px,#ad305c 130.5px,#c33b4f 132.5px,#bb3754 134.5px,#6e186e 137.5px,#65156e 138.5px,#922567 140.5px,#b83556 142.5px,#b83557 144.5px,#942666 146.5px,#60136e 148.5px,#62146e 149.5px,#aa2f5e 152.5px)"></i><i style="background:linear-gradient(90deg,#c83f4c 0.5px,#b43358 2.5px,#7b1d6d 4.5px,#6b176e 5.5px,#761b6d 6.5px,#b23359 8.5px,#cc4149 10.5px,#c23b50 12.5px,#751b6d 15.5px,#751b6e 16.5px,#c63d4d 19.5px,#d34743 21.5px,#c03a51 23.5px,#87216a 25.5px,#7b1d6d 26.5px,#8a226a 27.5px,#c63e4d 29.5px,#dc503b 31.5px,#d24743 33.5px,#8a236a 36.5px,#8e2469 37.5px,#dd5139 40.5px,#e75e2e 42.5px,#d64b40 44.5px,#a32c61 46.5px,#9c2964 47.5px,#cd4347 49.5px,#ef6d22 51.5px,#f2741d 53.5px,#c33c4f 57.5px,#e15635 59.5px,#f8890d 61.5px,#fb9906 63.5px,#f98c0a 65.5px,#f0701f 67.5px,#f2731d 68.5px,#fca40b 70.5px,#f3e55e 73.5px,#f3f586 75.5px,#f4f78d 79.5px,#f1ef76 81.5px,#fac128 83.5px,#fb9f09 84.5px,#f98a0c 85.5px,#fa9407 87.5px,#fca209 89.5px,#f8860f 92.5px,#dc503a 94.5px,#cc4249 95.5px,#cc4248 96.5px,#f06e21 99.5px,#e9622b 102.5px,#be3952 104.5px,#a42c61 105.5px,#9d2964 106.5px,#d94d3d 109.5px,#db4f3c 112.5px,#b43358 114.5px,#84206b 116.5px,#8d2469 117.5px,#c03a51 119.5px,#d04545 121.5px,#c53d4e 123.5px,#781c6d 126.5px,#761b6d 127.5px,#bc3754 130.5px,#be3853 133.5px,#912567 135.5px,#741b6d 136.5px,#68166e 137.5px,#751b6d 138.5px,#ab2f5e 140.5px,#bb3754 142.5px,#ae305c 144.5px,#62146e 147.5px,#65156e 148.5px,#ad305d 151.5px,#b43359 152.5px)"></i><i style="background:linear-gradient(90deg,#c83e4c 0.5px,#c43c4e 2.5px,#9b2964 4.5px,#6e186e 6.5px,#791c6d 7.5px,#b43458 9.5px,#cd4248 11.5px,#c13b50 13.5px,#771c6d 16.5px,#7a1d6d 17.5px,#c9404b 20.5px,#d34842 22.5px,#bb3754 24.5px,#84206b 26.5px,#801f6c 27.5px,#ce4347 30.5px,#dd513a 32.5px,#cd4348 34.5px,#972766 36.5px,#8c2369 37.5px,#9b2964 38.5px,#d54941 40.5px,#e75e2e 42.5px,#df5437 44.5px,#a02a63 47.5px,#a72d5f 48.5px,#de5338 50.5px,#f2731d 52.5px,#f06f20 54.5px,#c83f4c 57.5px,#ca414a 58.5px,#f8860f 61.5px,#fb9a06 63.5px,#fa9008 65.5px,#f2731d 67.5px,#f2741c 68.5px,#fca20a 70.5px,#f3e45d 73.5px,#f3f586 75.5px,#f4f78d 79.5px,#f2ef75 81.5px,#fac127 83.5px,#fb9f09 84.5px,#f98c0a 85.5px,#fca309 89.5px,#fa9407 91.5px,#d94d3d 94.5px,#cd4248 95.5px,#e25734 97.5px,#f1711f 99.5px,#ee6b24 101.5px,#d24744 103.5px,#a12b62 105.5px,#a52d60 106.5px,#d34842 108.5px,#e15635 110.5px,#d64b40 112.5px,#8c2369 115.5px,#8a226a 116.5px,#cb4149 119.5px,#ca404a 122.5px,#9c2964 124.5px,#801f6c 125.5px,#771c6d 126.5px,#b93655 129.5px,#c53d4e 131.5px,#b33359 133.5px,#7b1d6d 135.5px,#6b176e 136.5px,#751b6d 137.5px,#aa2e5e 139.5px,#bc3754 141.5px,#af315b 143.5px,#65156e 146.5px,#67166e 147.5px,#ae305c 150.5px,#b63458 152.5px)"></i><i style="background:linear-gradient(90deg,#bc3854 0.5px,#c63d4d 3.5px,#9e2a63 5.5px,#711a6e 7.5px,#7c1d6d 8.5px,#b63557 10.5px,#cd4347 12.5px,#c13a50 14.5px,#791c6d 17.5px,#801f6c 18.5px,#cd4248 21.5px,#d44842 23.5px,#b63557 25.5px,#84206b 27.5px,#87216a 28.5px,#d44842 31.5px,#d74b3f 34.5px,#932667 37.5px,#932567 38.5px,#de5238 41.5px,#e8602d 43.5px,#d74c3e 45.5px,#a72e5f 47.5px,#a42c61 48.5px,#d64b40 50.5px,#f1711e 52.5px,#f2741d 54.5px,#ce4347 57.5px,#cb414a 58.5px,#ec6727 60.5px,#fa9207 62.5px,#fb9b06 64.5px,#f3771a 67.5px,#f3751b 68.5px,#fba00a 70.5px,#f3e45d 73.5px,#f3f586 75.5px,#f4f78d 79.5px,#f2ee74 81.5px,#fac027 83.5px,#fba009 84.5px,#fa8f09 85.5px,#fca40a 89.5px,#fa9208 91.5px,#d74b3f 94.5px,#d04545 95.5px,#f2731d 99.5px,#ec6826 101.5px,#c83f4b 103.5px,#ad305c 104.5px,#a32c61 105.5px,#db4f3b 108.5px,#dc503a 111.5px,#b53458 113.5px,#982766 114.5px,#8b236a 115.5px,#b1325a 117.5px,#d14545 119.5px,#ce4347 121.5px,#a82e5f 123.5px,#7a1d6d 125.5px,#83206b 126.5px,#b63457 128.5px,#c63d4d 130.5px,#b73557 132.5px,#6f196e 135.5px,#751b6d 136.5px,#a92e5e 138.5px,#bd3854 140.5px,#b1325b 142.5px,#68166e 145.5px,#6a176e 146.5px,#af315b 149.5px,#b2325a 152.5px)"></i><i style="background:linear-gradient(90deg,#9d2963 0.5px,#c33c4f 2.5px,#c73e4d 4.5px,#a12b61 6.5px,#741b6e 8.5px,#7f1e6c 9.5px,#b83656 11.5px,#ce4347 13.5px,#c13a51 15.5px,#8b2369 17.5px,#7b1d6d 18.5px,#86216b 19.5px,#bf3a51 21.5px,#d54941 23.5px,#c93f4b 25.5px,#942667 27.5px,#85216b 28.5px,#902468 29.5px,#c9404a 31.5px,#de5238 33.5px,#d34843 35.5px,#a12b62 37.5px,#932567 38.5px,#9e2a63 39.5px,#d64a40 41.5px,#e8602c 43.5px,#e05536 45.5px,#b33359 47.5px,#a52d60 48.5px,#b1325a 49.5px,#e45b31 51.5px,#f3761a 53.5px,#ef6d22 55.5px,#d44842 57.5px,#cd4248 58.5px,#e9622b 60.5px,#fa9108 62.5px,#fb9d06 64.5px,#f3771a 68.5px,#fb9f09 70.5px,#f3e45d 73.5px,#f3f586 75.5px,#f4f78d 79.5px,#f2ee74 81.5px,#fabf26 83.5px,#fba009 84.5px,#fa9108 85.5px,#fca40a 89.5px,#fa8f09 91.5px,#d64a40 94.5px,#d44842 95.5px,#f1721e 98.5px,#f07020 100.5px,#da4e3c 102.5px,#a92e5e 104.5px,#aa2f5e 105.5px,#e05536 108.5px,#d84c3e 111.5px,#912568 114.5px,#922567 115.5px,#cf4446 118.5px,#c83f4c 121.5px,#7f1f6c 124.5px,#811f6c 125.5px,#c23b50 128.5px,#c53d4e 130.5px,#a62d60 132.5px,#731a6e 134.5px,#751b6d 135.5px,#b83556 138.5px,#bc3754 140.5px,#9d2964 142.5px,#6b176e 144.5px,#6e186e 145.5px,#b1325a 148.5px,#b53458 150.5px,#9e2a63 152.5px)"></i><i style="background:linear-gradient(90deg,#781c6d 0.5px,#c33c4f 3.5px,#c83f4c 5.5px,#a42c60 7.5px,#781c6d 9.5px,#811f6c 10.5px,#ba3655 12.5px,#cf4446 14.5px,#c03a51 16.5px,#8b2369 18.5px,#7f1e6c 19.5px,#8c2369 20.5px,#c43d4e 22.5px,#d64a40 24.5px,#c53d4d 26.5px,#912568 28.5px,#89226a 29.5px,#b83656 31.5px,#dc503a 33.5px,#db4f3b 35.5px,#9c2964 38.5px,#972766 39.5px,#df5337 42.5px,#e9622b 44.5px,#d94d3d 46.5px,#ac2f5d 48.5px,#ac2f5d 49.5px,#ed6925 52.5px,#f47918 54.5px,#e9632a 56.5px,#d04545 58.5px,#d54941 59.5px,#f98e09 62.5px,#fb9d07 64.5px,#f47918 68.5px,#fb9d09 70.5px,#f3e45d 73.5px,#f3f586 75.5px,#f4f78d 79.5px,#f2ee74 81.5px,#fabf25 83.5px,#fca209 84.5px,#fb9507 85.5px,#fca50a 89.5px,#f98c0b 91.5px,#e25833 93.5px,#d74b40 94.5px,#e65d2f 96.5px,#f3751b 98.5px,#ef6d22 100.5px,#d14744 102.5px,#aa2e5e 104.5px,#dc513a 107.5px,#de5238 110.5px,#b63557 112.5px,#9b2964 113.5px,#922568 114.5px,#cd4248 117.5px,#cd4248 120.5px,#87216b 123.5px,#821f6c 124.5px,#c13a51 127.5px,#c73e4d 129.5px,#ac305d 131.5px,#781c6d 133.5px,#771c6d 134.5px,#b83556 137.5px,#bd3854 139.5px,#9f2a63 141.5px,#6d186e 143.5px,#70196e 144.5px,#b2325a 147.5px,#b53458 149.5px,#942666 151.5px,#7a1d6c 152.5px)"></i><i style="background:linear-gradient(90deg,#70196e 0.5px,#791c6d 1.5px,#c33b4f 4.5px,#c93f4b 6.5px,#a72d5f 8.5px,#7b1d6d 10.5px,#84206b 11.5px,#bc3754 13.5px,#d04545 15.5px,#bf3952 17.5px,#8b2369 19.5px,#82206c 20.5px,#c9404b 23.5px,#d64a40 25.5px,#c13b50 27.5px,#902468 29.5px,#8f2469 30.5px,#d64b40 33.5px,#df5437 35.5px,#c63e4d 37.5px,#9a2865 39.5px,#a12b62 40.5px,#d64b40 42.5px,#e9622b 44.5px,#e15635 46.5px,#b63457 48.5px,#ac2f5d 49.5px,#d54a40 51.5px,#f2731d 53.5px,#f3771a 55.5px,#d54941 58.5px,#d54941 59.5px,#f98b0b 62.5px,#fb9e07 64.5px,#f57b17 68.5px,#f78410 69.5px,#fb9c08 70.5px,#f3e45d 73.5px,#f3f586 75.5px,#f4f78d 79.5px,#f2ee74 81.5px,#fabf25 83.5px,#fca30a 84.5px,#fb9806 85.5px,#fca80d 88.5px,#fb9b07 90.5px,#ef6d21 92.5px,#d84c3e 94.5px,#f3771a 98.5px,#ed6a24 100.5px,#c9404b 102.5px,#b1325a 103.5px,#af315b 104.5px,#e25734 107.5px,#d94d3d 110.5px,#962766 113.5px,#9c2964 114.5px,#c93f4b 116.5px,#d54941 118.5px,#c43d4e 120.5px,#902468 122.5px,#84206b 123.5px,#aa2f5e 125.5px,#c83e4c 127.5px,#c23b50 129.5px,#7d1e6c 132.5px,#791c6d 133.5px,#b83556 136.5px,#be3853 138.5px,#a12b62 140.5px,#70196e 142.5px,#731a6e 143.5px,#b33359 146.5px,#b53458 148.5px,#922567 150.5px,#63146e 152.5px)"></i><i style="background:linear-gradient(90deg,#8d2468 0.5px,#7c1d6d 1.5px,#7b1d6d 2.5px,#c23b50 5.5px,#ca404a 7.5px,#aa2f5e 9.5px,#7e1e6c 11.5px,#88226a 12.5px,#be3953 14.5px,#d04545 16.5px,#be3952 18.5px,#8b2369 20.5px,#86216b 21.5px,#cd4248 24.5px,#d74b3f 26.5px,#bd3853 28.5px,#902468 30.5px,#962766 31.5px,#cc4248 33.5px,#e05536 35.5px,#d44942 37.5px,#a52d60 39.5px,#9d2964 40.5px,#cb4149 42.5px,#e8602c 44.5px,#e65e2e 46.5px,#b1325a 49.5px,#b53458 50.5px,#e45b31 52.5px,#f47918 54.5px,#f1711e 56.5px,#da4e3c 58.5px,#d64a40 59.5px,#ef6e21 61.5px,#fb9806 63.5px,#fb9e07 65.5px,#f67e14 68.5px,#f78410 69.5px,#fb9b08 70.5px,#f3e45d 73.5px,#f3f586 75.5px,#f4f78d 79.5px,#f2ee73 81.5px,#fabe24 83.5px,#fca50b 84.5px,#fca108 86.5px,#fca40a 89.5px,#f78410 91.5px,#df5437 93.5px,#dc503b 94.5px,#f3771a 97.5px,#f2731d 99.5px,#da4e3c 101.5px,#b1325a 103.5px,#ce4347 105.5px,#e45b31 107.5px,#df5437 109.5px,#b83656 111.5px,#9f2a63 112.5px,#992865 113.5px,#d24644 116.5px,#cb4149 119.5px,#88226a 122.5px,#8e2469 123.5px,#bc3854 125.5px,#ca404a 127.5px,#b73557 129.5px,#83206b 131.5px,#7b1d6d 132.5px,#b83556 135.5px,#bf3952 137.5px,#a32c61 139.5px,#731a6e 141.5px,#761b6d 142.5px,#b53358 145.5px,#b53458 147.5px,#902568 149.5px,#6a176e 151.5px,#711a6e 152.5px)"></i><i style="background:linear-gradient(90deg,#b33359 0.5px,#82206b 2.5px,#7d1e6d 3.5px,#c13b50 6.5px,#cb414a 8.5px,#ac305c 10.5px,#811f6c 12.5px,#8b2369 13.5px,#bf3a51 15.5px,#d14644 17.5px,#bd3853 19.5px,#8c2369 21.5px,#8b236a 22.5px,#d04545 25.5px,#d74b3f 27.5px,#b83656 29.5px,#922567 31.5px,#bc3854 33.5px,#de5338 35.5px,#dd513a 37.5px,#a22b62 40.5px,#a52d60 41.5px,#d74c3f 43.5px,#ea6429 45.5px,#e25833 47.5px,#ba3655 49.5px,#b33359 50.5px,#dd5239 52.5px,#f37819 54.5px,#f3771a 56.5px,#d84c3e 59.5px,#de5338 60.5px,#f78310 62.5px,#fc9e07 64.5px,#fb9906 66.5px,#f78112 68.5px,#f8850f 69.5px,#fb9a08 70.5px,#f7d23e 72.5px,#f1ef76 74.5px,#f4f78c 76.5px,#f3f586 80.5px,#f2ee72 81.5px,#fabf25 83.5px,#fca60c 84.5px,#fca50b 86.5px,#fca30a 89.5px,#fb9607 90.5px,#df5437 93.5px,#e05436 94.5px,#f47a18 97.5px,#f0701f 99.5px,#d24744 101.5px,#bb3755 102.5px,#b53458 103.5px,#e35932 106.5px,#db4f3b 109.5px,#9c2964 112.5px,#bc3854 114.5px,#d64a40 116.5px,#d04545 118.5px,#8e2469 121.5px,#8d2369 122.5px,#c73e4c 125.5px,#c73e4c 127.5px,#a42c61 129.5px,#89226a 130.5px,#7e1e6c 131.5px,#b83556 134.5px,#c03a51 136.5px,#a52d60 138.5px,#761b6d 140.5px,#7a1d6d 141.5px,#b63458 144.5px,#b53458 146.5px,#8e2468 148.5px,#761b6d 149.5px,#6f196e 150.5px,#962766 152.5px)"></i><i style="background:linear-gradient(90deg,#c63e4d 0.5px,#a22c61 2.5px,#88226a 3.5px,#7f1f6c 4.5px,#c03a51 7.5px,#cc4149 9.5px,#af315b 11.5px,#84206b 13.5px,#8e2469 14.5px,#c13b50 16.5px,#d24644 18.5px,#bd3853 20.5px,#8e2469 22.5px,#902468 23.5px,#d34843 26.5px,#d64a40 28.5px,#b43359 30.5px,#9c2964 31.5px,#972766 32.5px,#d94d3d 35.5px,#e15635 37.5px,#c73e4c 39.5px,#a42c61 41.5px,#cc4248 43.5px,#e9622b 45.5px,#e8602c 47.5px,#b63457 50.5px,#bd3853 51.5px,#e9632a 53.5px,#f57c16 55.5px,#f06f20 57.5px,#dc503b 59.5px,#dd5239 60.5px,#fa9407 63.5px,#fca108 65.5px,#f7850f 68.5px,#f8860e 69.5px,#fb9907 70.5px,#f7d13d 72.5px,#f1ef76 74.5px,#f4f78c 76.5px,#f3f586 80.5px,#f2ed71 81.5px,#fabf25 83.5px,#fca80e 84.5px,#fca309 89.5px,#fa9308 90.5px,#e9612b 92.5px,#e05536 93.5px,#f57c16 97.5px,#ef6c23 99.5px,#ca404a 101.5px,#b93656 102.5px,#bd3853 103.5px,#e05536 105.5px,#e65d2f 107.5px,#d34843 109.5px,#a42c61 111.5px,#a22b62 112.5px,#d64a40 115.5px,#d44842 117.5px,#b0315b 119.5px,#962766 120.5px,#8e2469 121.5px,#c63d4d 124.5px,#ca404a 126.5px,#aa2f5e 128.5px,#811f6c 130.5px,#a32c61 132.5px,#c13a51 134.5px,#ba3655 136.5px,#7a1d6d 139.5px,#7d1e6c 140.5px,#ab2f5d 142.5px,#ba3655 144.5px,#a62d5f 146.5px,#761b6d 148.5px,#731a6e 149.5px,#af315b 152.5px)"></i><i style="background:linear-gradient(90deg,#ca404a 0.5px,#be3952 2.5px,#82206c 5.5px,#8e2469 6.5px,#c03a51 8.5px,#cd4248 10.5px,#b1325a 12.5px,#88226a 14.5px,#902568 15.5px,#c33c4f 17.5px,#d24743 19.5px,#bc3854 21.5px,#902568 23.5px,#962766 24.5px,#c83f4b 26.5px,#d94d3d 28.5px,#c83f4c 30.5px,#9b2964 32.5px,#9e2a63 33.5px,#dd5239 36.5px,#e05536 38.5px,#ab2f5e 41.5px,#aa2e5e 42.5px,#e75e2e 45.5px,#eb6528 47.5px,#d24743 49.5px,#be3952 50.5px,#bb3755 51.5px,#e45b31 53.5px,#f57c16 55.5px,#f3761b 57.5px,#e05536 59.5px,#de5238 60.5px,#fa9108 63.5px,#fca209 65.5px,#f8880d 69.5px,#fb9907 70.5px,#fbb51a 71.5px,#f3e45d 73.5px,#f3f586 75.5px,#f4f78d 79.5px,#f2ed71 81.5px,#fac026 83.5px,#fcab10 84.5px,#fcab0f 88.5px,#fa9009 90.5px,#e75f2d 92.5px,#e35833 93.5px,#f57c16 96.5px,#f3761b 98.5px,#da4f3b 100.5px,#bb3755 102.5px,#e55b30 105.5px,#e55c30 107.5px,#c83f4b 109.5px,#a32c61 111.5px,#d44842 114.5px,#ce4446 117.5px,#912568 120.5px,#b2325a 122.5px,#cc4149 124.5px,#c33c4f 126.5px,#85216b 129.5px,#8b2369 130.5px,#b83557 132.5px,#c23b50 134.5px,#aa2f5e 136.5px,#7d1e6d 138.5px,#801f6c 139.5px,#b93556 142.5px,#b53458 144.5px,#771c6d 147.5px,#771c6d 148.5px,#b2325a 151.5px,#b63457 152.5px)"></i><i style="background:linear-gradient(90deg,#c13b50 0.5px,#c93f4b 2.5px,#af315b 4.5px,#86216b 6.5px,#8e2469 7.5px,#bf3952 9.5px,#cd4248 11.5px,#b43358 13.5px,#8b236a 15.5px,#932667 16.5px,#c53d4e 18.5px,#d34743 20.5px,#bb3754 22.5px,#932667 24.5px,#9c2964 25.5px,#cd4248 27.5px,#da4e3c 29.5px,#c43c4e 31.5px,#9d2964 33.5px,#a62d60 34.5px,#d64a40 36.5px,#e35833 38.5px,#cf4446 40.5px,#ab2f5e 42.5px,#b43358 43.5px,#e15734 45.5px,#ec6826 47.5px,#dd5139 49.5px,#bd3853 51.5px,#c73e4c 52.5px,#ee6b23 54.5px,#f67f13 56.5px,#ef6d22 58.5px,#df5437 60.5px,#f2751b 62.5px,#fb9c07 64.5px,#fca108 66.5px,#f98a0c 69.5px,#fb9807 70.5px,#fbb419 71.5px,#f3e45d 73.5px,#f3f586 75.5px,#f4f78d 79.5px,#f3f586 80.5px,#f5db4c 82.5px,#fac027 83.5px,#fcad12 84.5px,#fcab0f 88.5px,#f98c0b 90.5px,#e75e2e 92.5px,#e55c30 93.5px,#f67f14 96.5px,#f2731d 98.5px,#c13a51 101.5px,#c23b50 102.5px,#e8602d 105.5px,#e25833 107.5px,#a92e5f 110.5px,#ab2f5e 111.5px,#d14545 113.5px,#da4e3d 115.5px,#c33c4f 117.5px,#972766 119.5px,#992865 120.5px,#c33b4f 122.5px,#cd4248 124.5px,#b63457 126.5px,#89226a 128.5px,#8d2369 129.5px,#c23b50 132.5px,#bd3853 134.5px,#7f1f6c 137.5px,#83206b 138.5px,#af315b 140.5px,#bb3754 142.5px,#a42c60 144.5px,#781c6d 146.5px,#7d1e6c 147.5px,#b43359 150.5px,#b43359 152.5px)"></i><i style="background:linear-gradient(90deg,#a22b61 0.5px,#c63d4d 2.5px,#c53d4e 4.5px,#8a226a 7.5px,#8e2469 8.5px,#be3952 10.5px,#ce4347 12.5px,#b73557 14.5px,#8f2469 16.5px,#972766 17.5px,#c73e4d 19.5px,#d34842 21.5px,#ba3755 23.5px,#962766 25.5px,#bc3854 27.5px,#da4e3d 29.5px,#d34743 31.5px,#a92e5e 33.5px,#a02b62 34.5px,#dc503a 37.5px,#e35833 39.5px,#c83f4b 41.5px,#b33359 42.5px,#af315b 43.5px,#e85f2d 46.5px,#ec6727 48.5px,#c33b4f 51.5px,#c33c4f 52.5px,#f3771a 55.5px,#f67f14 57.5px,#e25734 60.5px,#e55c30 61.5px,#f88a0c 63.5px,#fca309 65.5px,#f98c0b 69.5px,#fb9907 70.5px,#fbb318 71.5px,#f3e45d 73.5px,#f3f586 75.5px,#f4f78c 79.5px,#f3f586 80.5px,#f2ed70 81.5px,#fac128 83.5px,#fcb015 84.5px,#fcaa0e 88.5px,#f8870e 90.5px,#e75f2d 92.5px,#f68013 96.5px,#f06f21 98.5px,#cd4347 100.5px,#c23b50 101.5px,#e75e2e 104.5px,#e75e2e 106.5px,#ca414a 108.5px,#b33359 109.5px,#ab2f5e 110.5px,#d84c3e 113.5px,#d84c3f 115.5px,#9e2a63 118.5px,#9a2865 119.5px,#cc4249 122.5px,#ca404a 124.5px,#8e2469 127.5px,#8e2469 128.5px,#c23b50 131.5px,#be3952 133.5px,#83206b 136.5px,#86216b 137.5px,#b1325a 139.5px,#bc3754 141.5px,#a32c61 143.5px,#7a1d6d 145.5px,#82206b 146.5px,#ac305d 148.5px,#b63458 150.5px,#a02b62 152.5px)"></i><i style="background:linear-gradient(90deg,#83206b 0.5px,#c43c4f 3.5px,#c73e4c 5.5px,#8e2468 8.5px,#8f2468 9.5px,#cb4149 12.5px,#ca404a 14.5px,#922568 17.5px,#9a2865 18.5px,#c83f4b 20.5px,#d44842 22.5px,#ba3655 24.5px,#a22b61 25.5px,#992865 26.5px,#d44842 29.5px,#da4e3c 31.5px,#bc3754 33.5px,#a72e5f 34.5px,#a62d60 35.5px,#e05536 38.5px,#e25734 40.5px,#b2325a 43.5px,#b83556 44.5px,#e25833 46.5px,#ee6a24 48.5px,#de5338 50.5px,#c43c4f 52.5px,#e55c30 54.5px,#f67f14 56.5px,#f47a18 58.5px,#e55c30 60.5px,#e55c30 61.5px,#fb9906 64.5px,#fca50a 66.5px,#f98e09 69.5px,#fb9907 70.5px,#fcb217 71.5px,#f3e35b 73.5px,#f3f586 75.5px,#f4f78c 79.5px,#f2ed70 81.5px,#fac32a 83.5px,#fcb318 84.5px,#fca90e 88.5px,#fb9b07 89.5px,#ee6b23 91.5px,#e9612b 92.5px,#f68112 95.5px,#f47918 97.5px,#ca404a 100.5px,#c73e4c 101.5px,#e9622b 104.5px,#e45a31 106.5px,#af315c 109.5px,#c73e4c 111.5px,#dc503a 113.5px,#d24743 115.5px,#9c2964 118.5px,#cc4149 121.5px,#cd4248 123.5px,#942667 126.5px,#902568 127.5px,#c33b4f 130.5px,#c03a51 132.5px,#86216b 135.5px,#8a226a 136.5px,#b33359 138.5px,#bc3854 140.5px,#a22b62 142.5px,#7d1e6c 144.5px,#b0315b 147.5px,#b53458 149.5px,#942666 151.5px,#7d1e6c 152.5px)"></i><i style="background:linear-gradient(90deg,#912568 0.5px,#8a226a 1.5px,#ad305c 3.5px,#ca404a 5.5px,#bf3952 7.5px,#942667 9.5px,#912568 10.5px,#cb4149 13.5px,#cb4149 15.5px,#952666 18.5px,#9d2964 19.5px,#ca404a 21.5px,#d54941 23.5px,#b93656 25.5px,#a32c61 26.5px,#9e2964 27.5px,#d74b3f 30.5px,#da4e3c 32.5px,#a82e5f 35.5px,#ad305c 36.5px,#d94d3d 38.5px,#e55b31 40.5px,#d14645 42.5px,#b53458 44.5px,#e9612b 47.5px,#ed6925 49.5px,#c93f4b 52.5px,#cc4248 53.5px,#f57d15 56.5px,#f67f14 58.5px,#e65d2f 61.5px,#f68112 63.5px,#fca209 65.5px,#fca209 67.5px,#fa9108 69.5px,#fb9907 70.5px,#fcb116 71.5px,#f3e35a 73.5px,#f3f586 75.5px,#f4f78c 79.5px,#f2ed70 81.5px,#fac42b 83.5px,#fcb419 85.5px,#fca80d 88.5px,#fb9707 89.5px,#ed6a24 91.5px,#eb6528 92.5px,#f78310 95.5px,#f3761b 97.5px,#ca404a 100.5px,#eb6429 104.5px,#df5437 106.5px,#b73557 108.5px,#b2325a 109.5px,#dc503a 112.5px,#d74b3f 114.5px,#a02a62 117.5px,#ba3655 119.5px,#d04545 121.5px,#c53d4e 123.5px,#992865 125.5px,#932567 126.5px,#c43c4f 129.5px,#c23b50 131.5px,#89226a 134.5px,#8d2469 135.5px,#b53458 137.5px,#bd3853 139.5px,#a02b62 141.5px,#89226a 142.5px,#811f6c 143.5px,#b33359 146.5px,#b43359 148.5px,#7c1e6d 151.5px,#771c6d 152.5px)"></i><i style="background:linear-gradient(90deg,#b63457 0.5px,#8f2468 2.5px,#932667 3.5px,#ca404a 6.5px,#c33b4f 8.5px,#992865 10.5px,#932667 11.5px,#cb4149 14.5px,#cc4248 16.5px,#992865 19.5px,#a02b62 20.5px,#cc4249 22.5px,#d54941 24.5px,#b83656 26.5px,#a42c60 27.5px,#a22b62 28.5px,#da4e3d 31.5px,#d94d3d 33.5px,#ab2f5e 36.5px,#de5338 39.5px,#e55b31 41.5px,#ba3655 44.5px,#bc3854 45.5px,#ed6826 48.5px,#eb6628 50.5px,#d04545 52.5px,#cc4149 53.5px,#f47918 56.5px,#f78311 58.5px,#e8602d 61.5px,#ec6727 62.5px,#fa9407 64.5px,#fca70c 66.5px,#fa9407 69.5px,#fb9a07 70.5px,#fcb115 71.5px,#f3e259 73.5px,#f3f586 75.5px,#f4f78c 79.5px,#f2ed70 81.5px,#f9c62d 83.5px,#fbb71c 85.5px,#fca70c 88.5px,#fa9408 89.5px,#ee6a24 91.5px,#f3771a 93.5px,#f7850f 95.5px,#f1711f 97.5px,#d34743 99.5px,#cd4347 100.5px,#eb6528 103.5px,#e65c2f 105.5px,#b53458 108.5px,#db4f3b 111.5px,#db4f3b 113.5px,#a62d60 116.5px,#a62d60 117.5px,#d14644 120.5px,#c93f4b 122.5px,#9f2a63 124.5px,#952666 125.5px,#c43c4f 128.5px,#c33b4f 130.5px,#8c2369 133.5px,#902568 134.5px,#b73557 136.5px,#be3853 138.5px,#9f2a62 140.5px,#8a226a 141.5px,#84206b 142.5px,#b63458 145.5px,#b33359 147.5px,#7e1e6c 150.5px,#982865 152.5px)"></i><i style="background:linear-gradient(90deg,#c83f4b 0.5px,#962766 3.5px,#932567 4.5px,#c93f4b 7.5px,#c63e4d 9.5px,#962766 12.5px,#cb4149 15.5px,#ce4347 17.5px,#9c2964 20.5px,#a32c61 21.5px,#ce4347 23.5px,#d64a40 25.5px,#a62d60 28.5px,#a72d5f 29.5px,#dc503a 32.5px,#d84c3e 34.5px,#b43359 36.5px,#af315b 37.5px,#e25833 40.5px,#e35932 42.5px,#bb3754 45.5px,#dc503a 47.5px,#ef6c22 49.5px,#e8602d 51.5px,#cf4446 53.5px,#d54941 54.5px,#f78212 57.5px,#f67f14 59.5px,#ea6429 61.5px,#ec6627 62.5px,#fa9009 64.5px,#fca70c 66.5px,#fb9b07 70.5px,#fcb015 71.5px,#f3e259 73.5px,#f3f586 75.5px,#f4f78c 79.5px,#f2ed70 81.5px,#f9c72f 83.5px,#fbb91e 85.5px,#fca50b 88.5px,#fa8f09 89.5px,#ee6c23 91.5px,#f8860e 94.5px,#f57d15 96.5px,#d24644 99.5px,#e15635 101.5px,#ec6726 103.5px,#e15635 105.5px,#bc3754 107.5px,#bb3755 108.5px,#df5337 111.5px,#d64a40 113.5px,#ae305c 115.5px,#a72d5f 116.5px,#d14644 119.5px,#cc4248 121.5px,#992865 124.5px,#c53d4e 127.5px,#c53c4e 129.5px,#902468 132.5px,#942667 133.5px,#b93656 135.5px,#be3853 137.5px,#8b236a 140.5px,#89226a 141.5px,#b83556 144.5px,#b1325a 146.5px,#89226a 148.5px,#811f6c 149.5px,#b1325a 152.5px)"></i><i style="background:linear-gradient(90deg,#c9404b 0.5px,#c43c4f 2.5px,#952667 5.5px,#c73f4c 8.5px,#c9404b 10.5px,#992865 13.5px,#cb414a 16.5px,#cf4446 18.5px,#a02a63 21.5px,#a62d60 22.5px,#cf4446 24.5px,#d64a40 26.5px,#a82e5f 29.5px,#ad305d 30.5px,#d54941 32.5px,#de5338 34.5px,#b43359 37.5px,#b53458 38.5px,#e55c30 41.5px,#e15735 43.5px,#c23b50 45.5px,#c13a51 46.5px,#ee6a24 49.5px,#ed6826 51.5px,#d54941 53.5px,#d44842 54.5px,#f67f13 57.5px,#f78410 59.5px,#ed6925 61.5px,#ec6727 62.5px,#fb9f07 65.5px,#fca209 68.5px,#fb9c07 70.5px,#fcb014 71.5px,#f3e259 73.5px,#f3f586 75.5px,#f4f78c 79.5px,#f2ed6f 81.5px,#f9c931 83.5px,#fca209 88.5px,#f3771a 90.5px,#f06f21 91.5px,#f8880d 94.5px,#f47918 96.5px,#db4f3b 98.5px,#d44842 99.5px,#ed6826 102.5px,#e75f2d 104.5px,#c63d4d 106.5px,#bc3754 107.5px,#df5337 110.5px,#db4f3c 112.5px,#aa2f5e 115.5px,#d14644 118.5px,#cf4446 120.5px,#9d2964 123.5px,#b63457 125.5px,#c9404b 127.5px,#b93656 129.5px,#932667 131.5px,#972766 132.5px,#bb3755 134.5px,#bf3952 136.5px,#8c2369 139.5px,#8d2469 140.5px,#ba3655 143.5px,#ae315c 145.5px,#87216a 147.5px,#86216b 148.5px,#b43359 151.5px,#b73557 152.5px)"></i><i style="background:linear-gradient(90deg,#b43458 0.5px,#ca404a 2.5px,#bb3754 4.5px,#982765 6.5px,#9e2a63 7.5px,#c53d4d 9.5px,#cc4149 11.5px,#9d2964 14.5px,#a32c61 15.5px,#ca414a 17.5px,#d14545 19.5px,#a32c61 22.5px,#bf3952 24.5px,#d84c3e 26.5px,#cc4249 28.5px,#ab2f5e 30.5px,#c73f4c 32.5px,#df5437 34.5px,#d44942 36.5px,#b53458 38.5px,#d14644 40.5px,#e75f2d 42.5px,#de5238 44.5px,#c23b50 46.5px,#dd5239 48.5px,#f06f20 50.5px,#e9622a 52.5px,#d54941 54.5px,#ec6727 56.5px,#f8860e 58.5px,#f57e15 60.5px,#ed6925 62.5px,#f8890d 64.5px,#fca70c 66.5px,#fb9e07 70.5px,#fcaf13 71.5px,#f4e157 73.5px,#f3f585 75.5px,#f4f78c 79.5px,#f2f484 80.5px,#f9ca32 83.5px,#fcaf14 87.5px,#fb9f08 88.5px,#f3761b 90.5px,#f57e15 92.5px,#f98a0c 94.5px,#f2741c 96.5px,#d94d3d 98.5px,#e35a32 100.5px,#ee6b24 102.5px,#e25833 104.5px,#c13a51 106.5px,#d24744 108.5px,#e15635 110.5px,#d34842 112.5px,#af315b 114.5px,#c33c4f 116.5px,#d54941 118.5px,#c63e4d 120.5px,#a12b62 122.5px,#b63557 124.5px,#cb414a 126.5px,#bb3754 128.5px,#972766 130.5px,#9a2865 131.5px,#bc3854 133.5px,#bf3952 135.5px,#8e2469 138.5px,#a52d60 140.5px,#bb3754 142.5px,#ab2f5d 144.5px,#88226a 146.5px,#a02a62 148.5px,#b63458 150.5px,#ac305d 152.5px)"></i><i style="background:linear-gradient(90deg,#942667 0.5px,#c83f4b 3.5px,#c23b50 5.5px,#9e2a63 7.5px,#9d2963 8.5px,#cd4248 11.5px,#c43c4e 13.5px,#a12b62 15.5px,#a42c61 16.5px,#d34743 19.5px,#c73e4c 21.5px,#a62d60 23.5px,#c13b50 25.5px,#d94d3d 27.5px,#cb4249 29.5px,#ae305c 31.5px,#db4f3b 34.5px,#de5238 36.5px,#b93556 39.5px,#e55b30 42.5px,#e55c30 44.5px,#ca404a 46.5px,#c63e4d 47.5px,#ef6c22 50.5px,#ee6b24 52.5px,#da4e3c 54.5px,#db4f3b 55.5px,#f7850f 58.5px,#f78410 60.5px,#ef6c22 62.5px,#f1711e 63.5px,#fb9a07 65.5px,#fcab10 67.5px,#fc9f07 70.5px,#fcae13 71.5px,#f4e055 73.5px,#f3f585 75.5px,#f4f78c 79.5px,#f2f484 80.5px,#f9ca33 83.5px,#fcae12 87.5px,#fb9c07 88.5px,#f3761a 90.5px,#f98a0c 94.5px,#da4f3c 98.5px,#ee6b24 102.5px,#ca404a 105.5px,#c33c4f 106.5px,#e25734 109.5px,#d94e3d 111.5px,#b63458 113.5px,#b33259 114.5px,#d64a40 117.5px,#cb4149 119.5px,#a62d60 121.5px,#a72d60 122.5px,#cc4149 125.5px,#bd3853 127.5px,#9a2865 129.5px,#b0315b 131.5px,#c33c4f 133.5px,#b2325a 135.5px,#912568 137.5px,#bc3754 141.5px,#a82e5f 143.5px,#8a226a 145.5px,#b43359 148.5px,#b0315b 150.5px,#8c2369 152.5px)"></i><i style="background:linear-gradient(90deg,#a12b61 0.5px,#9a2865 1.5px,#c63d4d 4.5px,#c73e4c 6.5px,#a52d60 8.5px,#9f2a63 9.5px,#cd4248 12.5px,#c83f4c 14.5px,#a62d60 16.5px,#a52d60 17.5px,#d34743 20.5px,#c9404b 22.5px,#aa2e5e 24.5px,#c43c4f 26.5px,#da4e3c 28.5px,#cb4249 30.5px,#b2325a 32.5px,#de5238 35.5px,#dd5139 37.5px,#bf3952 39.5px,#be3853 40.5px,#e75f2d 43.5px,#e35933 45.5px,#c9404b 47.5px,#df5437 49.5px,#f1711e 51.5px,#eb6528 53.5px,#db503b 55.5px,#f98a0c 59.5px,#f1721e 63.5px,#fb9707 65.5px,#fcac10 67.5px,#fca108 70.5px,#fcae12 71.5px,#f1ee72 74.5px,#f4f78c 76.5px,#f2f483 80.5px,#f9cb34 83.5px,#fcac11 87.5px,#fb9807 88.5px,#f47918 90.5px,#f98d09 93.5px,#f57c16 95.5px,#e05536 97.5px,#e65e2e 99.5px,#ef6e21 101.5px,#e45b31 103.5px,#c73e4c 105.5px,#e35933 109.5px,#d14645 111.5px,#b53458 113.5px,#d64a40 116.5px,#cf4446 118.5px,#ab2f5d 120.5px,#a92e5f 121.5px,#cd4248 124.5px,#c03a51 126.5px,#9d2964 128.5px,#b23259 130.5px,#c43c4e 132.5px,#b2325a 134.5px,#942667 136.5px,#bb3754 139.5px,#b63458 141.5px,#922567 143.5px,#8f2469 144.5px,#b73557 147.5px,#ac2f5d 149.5px,#89226a 151.5px,#87216a 152.5px)"></i><i style="background:linear-gradient(90deg,#c23b50 0.5px,#a12b62 2.5px,#9f2a63 3.5px,#cb4149 6.5px,#c03a51 8.5px,#a22b62 10.5px,#d04545 14.5px,#bc3854 16.5px,#a82d5f 18.5px,#d44842 21.5px,#cb4149 23.5px,#ad305c 25.5px,#c63e4d 27.5px,#db4f3b 29.5px,#cc4249 31.5px,#b63458 33.5px,#e05536 36.5px,#dc503b 38.5px,#c03a51 40.5px,#d64a40 42.5px,#e9622a 44.5px,#e05536 46.5px,#cc4249 48.5px,#f06e21 51.5px,#ef6e21 53.5px,#df5437 55.5px,#e15734 56.5px,#f98a0c 59.5px,#f78410 61.5px,#f2731d 63.5px,#fa9408 65.5px,#fcac11 67.5px,#fca309 70.5px,#fcad12 71.5px,#f2ed70 74.5px,#f4f78c 76.5px,#f2f483 80.5px,#f8cc36 83.5px,#fcaa0f 87.5px,#fa9507 88.5px,#f57d15 90.5px,#fa8f09 93.5px,#f3771a 95.5px,#e05535 97.5px,#f06f20 100.5px,#ea6429 102.5px,#ce4347 104.5px,#ca404a 105.5px,#e45a31 108.5px,#d84c3e 110.5px,#b93656 112.5px,#d84c3e 116.5px,#c33c4f 118.5px,#ab2f5d 120.5px,#ce4347 123.5px,#c23b50 125.5px,#a12b62 127.5px,#c53d4e 131.5px,#b1325a 133.5px,#982766 135.5px,#bd3853 138.5px,#b43359 140.5px,#922567 142.5px,#942667 143.5px,#b83556 146.5px,#a62d5f 148.5px,#8c2369 150.5px,#a62d60 152.5px)"></i><i style="background:linear-gradient(90deg,#cc4149 0.5px,#bc3854 2.5px,#a12b62 4.5px,#ca404a 7.5px,#c53d4d 9.5px,#a62d60 11.5px,#a82e5f 12.5px,#d14545 15.5px,#c13b50 17.5px,#aa2f5e 19.5px,#d44842 22.5px,#cd4347 24.5px,#b1315b 26.5px,#c83f4b 28.5px,#dc503a 30.5px,#ba3655 34.5px,#e25734 37.5px,#da4f3c 39.5px,#c33b50 41.5px,#ea6429 45.5px,#d04545 48.5px,#d24644 49.5px,#f2741d 52.5px,#ed6925 54.5px,#e15734 56.5px,#f8880d 59.5px,#f8890d 61.5px,#f3761b 63.5px,#fa9009 65.5px,#fcac11 67.5px,#fca50b 70.5px,#fcad12 71.5px,#f2ed70 74.5px,#f4f78b 76.5px,#f4f78c 79.5px,#f2f482 80.5px,#f8cd37 83.5px,#fca70d 87.5px,#f78211 89.5px,#fa8f09 93.5px,#e75e2e 96.5px,#e9622b 98.5px,#f1711e 100.5px,#e65d2f 102.5px,#cd4248 104.5px,#e45b31 108.5px,#bf3952 111.5px,#be3952 112.5px,#da4e3c 115.5px,#c83f4b 117.5px,#ae315c 119.5px,#cf4446 122.5px,#c43c4e 124.5px,#a42c61 126.5px,#c73e4d 130.5px,#9f2a63 133.5px,#9c2964 134.5px,#bf3952 137.5px,#b1325a 139.5px,#942667 141.5px,#b73557 144.5px,#b1325a 146.5px,#912568 148.5px,#912568 149.5px,#b63458 152.5px)"></i><i style="background:linear-gradient(90deg,#bd3853 0.5px,#ca404a 2.5px,#a62d60 5.5px,#a72d5f 6.5px,#ce4347 9.5px,#a92e5f 13.5px,#d14545 16.5px,#c63e4d 18.5px,#ad305d 20.5px,#d44941 23.5px,#cf4446 25.5px,#b43359 27.5px,#dd5139 31.5px,#be3953 34.5px,#be3952 35.5px,#e35932 38.5px,#d84d3e 40.5px,#c73e4d 42.5px,#ea632a 45.5px,#e55c30 47.5px,#d24644 49.5px,#f3761a 53.5px,#e45a32 56.5px,#f1721e 58.5px,#f98d09 60.5px,#f57c16 64.5px,#fca008 66.5px,#fcb014 68.5px,#fcad12 71.5px,#f5db4d 73.5px,#f2f483 75.5px,#f4f78c 79.5px,#f2ea69 81.5px,#f8cd37 83.5px,#fca40b 87.5px,#f78410 89.5px,#fa9307 92.5px,#f68013 94.5px,#e65d2f 96.5px,#f1711e 100.5px,#d34743 103.5px,#dc513a 105.5px,#e65d2f 107.5px,#c03a51 111.5px,#db4f3b 114.5px,#cd4348 116.5px,#b2325a 118.5px,#d04545 121.5px,#c63e4d 123.5px,#a82e5f 125.5px,#c73e4c 129.5px,#a12b62 132.5px,#a02b62 133.5px,#c03a51 136.5px,#ae315c 138.5px,#982766 140.5px,#ba3655 143.5px,#ad305c 145.5px,#922568 147.5px,#b63458 151.5px,#b2325a 152.5px)"></i><i style="background:linear-gradient(90deg,#a12b62 0.5px,#ca404a 3.5px,#be3952 5.5px,#a72d5f 7.5px,#cd4248 10.5px,#c43c4f 12.5px,#ab2f5d 14.5px,#d04545 17.5px,#ca414a 19.5px,#b1315b 21.5px,#d54941 24.5px,#d14644 26.5px,#b73557 28.5px,#de5239 32.5px,#c03a51 35.5px,#d34743 37.5px,#e45b31 39.5px,#cb414a 42.5px,#da4e3c 44.5px,#ec6627 46.5px,#d64a40 50.5px,#f3761a 53.5px,#ef6c23 55.5px,#e75e2e 57.5px,#f98d0a 60.5px,#f8890c 62.5px,#f57d15 64.5px,#fb9e07 66.5px,#fcb015 68.5px,#fcae13 71.5px,#f5da4b 73.5px,#f2f483 75.5px,#f4f78b 79.5px,#f2ea69 81.5px,#f8ce38 83.5px,#fca209 87.5px,#f8870e 89.5px,#fa9407 92.5px,#e8602d 96.5px,#f2751b 99.5px,#d34743 103.5px,#e75f2d 106.5px,#c33c4f 110.5px,#db4f3c 114.5px,#b63458 117.5px,#d14545 121.5px,#ab2f5d 124.5px,#c93f4b 128.5px,#a32c61 131.5px,#b33359 133.5px,#c13a50 135.5px,#9d2964 138.5px,#9c2964 139.5px,#bb3754 142.5px,#962766 146.5px,#b63457 149.5px,#a62d60 151.5px,#952666 152.5px)"></i><i style="background:linear-gradient(90deg,#b1325a 0.5px,#ab2f5d 2.5px,#cc4149 5.5px,#ab2f5d 8.5px,#be3952 10.5px,#cf4446 12.5px,#af315b 15.5px,#d34842 19.5px,#b53358 22.5px,#d94c3e 26.5px,#bb3755 29.5px,#de5338 33.5px,#c33b50 36.5px,#e55c30 40.5px,#cc4248 43.5px,#ed6826 47.5px,#d84c3f 50.5px,#f47918 54.5px,#e8602c 57.5px,#fa9108 61.5px,#f67f13 64.5px,#fb9b07 66.5px,#fcb115 68.5px,#fcaf14 71.5px,#fac127 72.5px,#f2eb6c 74.5px,#f4f78b 76.5px,#f4f78b 79.5px,#f2ea69 81.5px,#f8cf39 83.5px,#fb9f08 87.5px,#f98b0b 89.5px,#fa9407 92.5px,#eb6628 95.5px,#f2751b 99.5px,#d84c3e 102.5px,#e8602d 106.5px,#c83e4c 109.5px,#dd5139 113.5px,#ba3655 116.5px,#d24743 120.5px,#af315c 123.5px,#c9404b 127.5px,#a62d60 130.5px,#c23b50 134.5px,#9e2a63 137.5px,#bc3754 141.5px,#992865 144.5px,#b73457 148.5px,#932667 151.5px,#952666 152.5px)"></i><i style="background:linear-gradient(90deg,#c9404b 0.5px,#ab2f5e 3.5px,#cb4149 6.5px,#c03a51 8.5px,#ae305c 10.5px,#d04446 13.5px,#b33359 17.5px,#d44842 20.5px,#b83556 23.5px,#c83f4b 25.5px,#d94d3d 27.5px,#be3853 30.5px,#df5437 34.5px,#c63d4d 37.5px,#e65d2f 41.5px,#cf4446 44.5px,#ec6826 47.5px,#e75f2d 49.5px,#db4f3b 51.5px,#f47918 54.5px,#ec6627 58.5px,#fa9108 61.5px,#f78311 64.5px,#fb9807 66.5px,#fcb317 69.5px,#fcb014 71.5px,#fac026 72.5px,#f2ea6a 74.5px,#f4f78b 76.5px,#f4f78b 79.5px,#f2e968 81.5px,#f8cf39 83.5px,#fb9c07 87.5px,#fa9008 89.5px,#fa9207 92.5px,#ec6726 95.5px,#f47918 98.5px,#da4e3d 102.5px,#e9622a 105.5px,#cb4149 109.5px,#de5338 112.5px,#bf3952 115.5px,#d44842 119.5px,#b2325a 122.5px,#ca404a 126.5px,#a82e5f 129.5px,#c43c4f 132.5px,#b83556 134.5px,#a12b62 136.5px,#bd3853 139.5px,#af315b 141.5px,#9c2964 143.5px,#b83556 146.5px,#982865 150.5px,#b0315b 152.5px)"></i><i style="background:linear-gradient(90deg,#c73e4c 0.5px,#c73e4c 2.5px,#af315b 4.5px,#bc3853 6.5px,#cd4248 8.5px,#b1325a 11.5px,#d04545 15.5px,#b53458 18.5px,#d54941 21.5px,#bc3754 25.5px,#da4e3c 28.5px,#c13a50 31.5px,#e05536 35.5px,#c93f4b 38.5px,#e65d2f 41.5px,#d44842 45.5px,#ee6b24 48.5px,#de5239 51.5px,#ec6727 53.5px,#f57c16 55.5px,#ec6726 58.5px,#fa9108 61.5px,#f8880d 65.5px,#fca70c 67.5px,#fcb115 70.5px,#fabf25 72.5px,#f2ea69 74.5px,#f4f78b 76.5px,#f4f78b 79.5px,#f2e968 81.5px,#fac52c 84.5px,#fb9b07 87.5px,#fa9507 89.5px,#fb9906 91.5px,#f06f20 94.5px,#f2741d 96.5px,#f47919 98.5px,#dd5139 101.5px,#e9612c 105.5px,#cd4347 108.5px,#e05536 111.5px,#c13a50 115.5px,#d64a40 118.5px,#b63458 121.5px,#cb4149 125.5px,#ac2f5d 128.5px,#c53d4e 131.5px,#a62d60 135.5px,#bf3952 138.5px,#9f2a63 141.5px,#b93556 145.5px,#9a2865 148.5px,#b63458 152.5px)"></i><i style="background:linear-gradient(90deg,#ad305c 0.5px,#cb4149 3.5px,#b1315b 6.5px,#cd4248 10.5px,#b53458 13.5px,#d24644 16.5px,#b93556 19.5px,#d54941 23.5px,#be3953 26.5px,#db4f3b 29.5px,#c43c4e 32.5px,#e15635 36.5px,#cc4248 39.5px,#e85f2d 42.5px,#d64a40 45.5px,#ef6c22 49.5px,#e05536 52.5px,#f57c16 55.5px,#ee6b23 58.5px,#f67f14 60.5px,#fb9506 62.5px,#f8890c 65.5px,#fca50b 67.5px,#fcb51a 69.5px,#fcb317 71.5px,#fabf25 72.5px,#f2e967 74.5px,#f4f78b 76.5px,#f3f68a 79.5px,#f2e968 81.5px,#fac42c 84.5px,#fb9a06 87.5px,#fb9806 91.5px,#f06f20 94.5px,#f57d15 97.5px,#e05436 101.5px,#eb6528 104.5px,#d14645 107.5px,#df5337 111.5px,#c43c4e 114.5px,#d74b3f 117.5px,#b93656 120.5px,#cc4248 124.5px,#b0315b 127.5px,#c73e4d 130.5px,#a92e5f 133.5px,#bf3952 137.5px,#a22b62 140.5px,#bb3755 143.5px,#9e2a63 146.5px,#b53458 150.5px,#a02b62 152.5px)"></i><i style="background:linear-gradient(90deg,#b83656 0.5px,#b53458 2.5px,#cb4149 5.5px,#b43358 8.5px,#cf4446 11.5px,#b73557 14.5px,#d24644 17.5px,#bd3853 21.5px,#d74b3f 24.5px,#c13a51 27.5px,#dc503a 30.5px,#c83e4c 33.5px,#e25734 37.5px,#d04545 40.5px,#e9612b 43.5px,#d84c3e 46.5px,#ef6c23 49.5px,#ea632a 51.5px,#e55b31 53.5px,#f67f13 56.5px,#f06f20 59.5px,#fb9506 62.5px,#f98c0a 65.5px,#fca209 67.5px,#fcb51a 69.5px,#fcb419 71.5px,#fbbe24 72.5px,#f2f37f 75.5px,#f4f88e 78.5px,#f2f37f 80.5px,#fac42b 84.5px,#fb9b06 87.5px,#fb9706 91.5px,#f2731d 94.5px,#f57d15 97.5px,#e25834 100.5px,#ed6826 103.5px,#d54941 107.5px,#e15635 110.5px,#c73e4c 113.5px,#d94c3e 116.5px,#bd3853 119.5px,#cd4348 123.5px,#b43359 126.5px,#c73e4c 129.5px,#ab2f5d 132.5px,#c13a51 135.5px,#a72d5f 139.5px,#bb3755 142.5px,#a02b62 145.5px,#b73557 148.5px,#9c2964 151.5px,#9d2964 152.5px)"></i><i style="background:linear-gradient(90deg,#cc4149 0.5px,#b43359 3.5px,#cd4248 6.5px,#b73557 9.5px,#cf4446 13.5px,#bc3754 16.5px,#d34842 19.5px,#bf3952 22.5px,#d84c3e 25.5px,#c43c4f 28.5px,#dd5139 31.5px,#ce4347 35.5px,#e35833 38.5px,#d44842 41.5px,#ea632a 44.5px,#db4f3b 47.5px,#f06f20 50.5px,#e55c30 53.5px,#f67f13 56.5px,#f3771a 60.5px,#fb9806 63.5px,#fa9207 66.5px,#fbb61b 69.5px,#fbb61a 71.5px,#fbbf25 72.5px,#f2f27f 75.5px,#f4f88e 78.5px,#f2f37f 80.5px,#fac329 84.5px,#fb9d07 87.5px,#fc9f07 90.5px,#f37819 93.5px,#f68112 96.5px,#e75e2e 99.5px,#ec6726 103.5px,#d74b3f 106.5px,#e35932 109.5px,#cb414a 112.5px,#da4e3c 115.5px,#c03a51 118.5px,#ce4347 122.5px,#b83556 125.5px,#c83f4c 128.5px,#af315b 131.5px,#c23b50 134.5px,#a82e5f 137.5px,#bd3853 140.5px,#a42c61 143.5px,#b63458 147.5px,#a12b62 150.5px,#b43359 152.5px)"></i><i style="background:linear-gradient(90deg,#c13b50 0.5px,#cb414a 2.5px,#b73557 5.5px,#ce4347 8.5px,#ba3655 11.5px,#d14545 14.5px,#bd3853 17.5px,#d54941 20.5px,#c23b50 23.5px,#d94d3d 26.5px,#c73e4c 29.5px,#dd5139 33.5px,#d14644 36.5px,#e35932 39.5px,#d84c3f 42.5px,#ea6429 45.5px,#df5437 48.5px,#f1711f 51.5px,#e9612b 54.5px,#f78311 57.5px,#f3771a 60.5px,#fb9906 63.5px,#fa9307 66.5px,#fbb61b 69.5px,#fbbf25 72.5px,#f2f27e 75.5px,#f4f88e 78.5px,#f2f27e 80.5px,#fac128 84.5px,#fc9f07 87.5px,#fb9e07 90.5px,#f47a17 93.5px,#f68112 96.5px,#e75f2d 99.5px,#ee6b23 102.5px,#da4e3c 105.5px,#e55b30 108.5px,#ce4347 111.5px,#dc503b 114.5px,#c43c4f 117.5px,#cf4446 121.5px,#bb3755 123.5px,#c83f4c 127.5px,#b43359 130.5px,#c23b50 133.5px,#ad305d 136.5px,#bd3853 139.5px,#a72d5f 142.5px,#b93556 145.5px,#a32b61 148.5px,#b63458 151.5px,#b2325a 152.5px)"></i><i style="background:linear-gradient(90deg,#b53458 0.5px,#cb4149 4.5px,#bb3754 7.5px,#ce4347 10.5px,#bf3952 13.5px,#d14645 16.5px,#c33b4f 19.5px,#d54941 22.5px,#c73e4c 25.5px,#d94d3d 28.5px,#cd4248 31.5px,#de5338 34.5px,#d44842 37.5px,#e45a31 40.5px,#d84c3e 42.5px,#ea6429 46.5px,#e05536 48.5px,#f1721e 52.5px,#ea632a 54.5px,#f78311 57.5px,#f47919 60.5px,#fb9c06 64.5px,#fb9506 66.5px,#fbba1f 70.5px,#fac026 72.5px,#f2f27c 75.5px,#f4f88e 78.5px,#f2f27e 80.5px,#fac026 84.5px,#fca60b 86.5px,#fb9c07 90.5px,#f68112 92.5px,#f67f14 96.5px,#eb6529 98.5px,#ed6925 102.5px,#de5238 104.5px,#e35933 108.5px,#d24644 110.5px,#d94d3d 114.5px,#c73e4c 116.5px,#d04545 120.5px,#be3853 122.5px,#c83f4c 126.5px,#b63458 128.5px,#c13a50 132.5px,#af315b 134.5px,#c03952 137.5px,#aa2e5e 140.5px,#b63457 144.5px,#a52d60 146.5px,#b63457 149.5px,#9e2a63 152.5px)"></i><i style="background:linear-gradient(90deg,#ca404a 0.5px,#bc3754 3.5px,#cb414a 6.5px,#c03a51 9.5px,#cd4248 12.5px,#bf3952 14.5px,#d34743 17.5px,#c33c4f 20.5px,#d74b3f 23.5px,#c83f4b 26.5px,#db4f3b 29.5px,#cf4446 32.5px,#e05536 35.5px,#d64a40 38.5px,#e55c30 41.5px,#da4f3c 43.5px,#ec6727 46.5px,#e25833 49.5px,#f2741c 52.5px,#ec6726 55.5px,#f8860e 58.5px,#f67f14 61.5px,#fb9d07 64.5px,#fb9d07 67.5px,#fbba1f 70.5px,#fac026 72.5px,#f2f17b 75.5px,#f4f88e 77.5px,#f2f27e 80.5px,#fbbe24 84.5px,#fca70c 86.5px,#fb9a06 90.5px,#f78211 92.5px,#f8850f 95.5px,#ec6727 98.5px,#ef6e21 101.5px,#e05536 104.5px,#e65c2f 107.5px,#d54a40 110.5px,#db4f3b 113.5px,#cc4248 116.5px,#d14644 119.5px,#c13a51 121.5px,#ce4347 124.5px,#b93656 127.5px,#c63d4d 130.5px,#b33359 133.5px,#c03951 136.5px,#ae305c 139.5px,#ba3655 142.5px,#aa2f5e 145.5px,#b53358 148.5px,#a52c60 150.5px,#b0315b 152.5px)"></i><i style="background:linear-gradient(90deg,#c63d4d 0.5px,#c33b4f 3.5px,#c03a51 5.5px,#cb414a 8.5px,#bf3952 10.5px,#d04545 13.5px,#c33c4f 16.5px,#d34843 19.5px,#c9404b 22.5px,#d64a40 25.5px,#cb414a 27.5px,#d94d3e 31.5px,#d14545 33.5px,#e15635 36.5px,#d94d3d 39.5px,#e65d2f 42.5px,#dd5139 44.5px,#ed6925 47.5px,#e55c30 50.5px,#f3761b 53.5px,#f06f21 56.5px,#f8880d 59.5px,#f68013 61.5px,#fb9e07 64.5px,#fb9d07 67.5px,#fbba20 70.5px,#fac127 72.5px,#f2f17a 75.5px,#f4f88e 77.5px,#f2f27d 80.5px,#fbbc22 84.5px,#fca90e 86.5px,#fca30a 89.5px,#f8860e 92.5px,#f78311 95.5px,#ef6c23 97.5px,#f1721e 100.5px,#e25734 103.5px,#e8602d 106.5px,#d84c3e 109.5px,#dd5239 112.5px,#cf4446 115.5px,#d24743 118.5px,#c43c4e 120.5px,#ce4447 123.5px,#bd3853 126.5px,#c63e4d 129.5px,#b83556 132.5px,#be3853 135.5px,#b0315b 137.5px,#bd3853 140.5px,#ac2f5d 143.5px,#b73557 146.5px,#aa2f5e 149.5px,#b43358 152.5px)"></i><i style="background:linear-gradient(90deg,#bc3754 0.5px,#cb414a 4.5px,#c33c4f 7.5px,#cf4446 9.5px,#c33b4f 12.5px,#d14545 15.5px,#c93f4b 18.5px,#d24644 21.5px,#ca404a 23.5px,#d84c3e 26.5px,#d14545 29.5px,#db503b 32.5px,#d34743 34.5px,#e25833 37.5px,#db503b 40.5px,#e75e2e 43.5px,#e05536 45.5px,#ee6b24 48.5px,#e9622b 51.5px,#f3771a 54.5px,#f06e21 56.5px,#f98a0c 59.5px,#f8870e 62.5px,#fca108 65.5px,#fca70d 68.5px,#fac127 72.5px,#f2f17a 75.5px,#f4f88e 77.5px,#f2f27c 80.5px,#fbbb20 84.5px,#fcac10 87.5px,#f98a0b 91.5px,#f98a0c 94.5px,#f06f20 97.5px,#f07020 100.5px,#e55c30 102.5px,#ea632a 105.5px,#da4e3c 108.5px,#df5437 111.5px,#d24743 114.5px,#d34842 117.5px,#cc4248 120.5px,#d04446 122.5px,#c13b50 125.5px,#c53d4d 128.5px,#b93656 130.5px,#c33b4f 133.5px,#b53458 136.5px,#bb3755 139.5px,#ae305c 141.5px,#b93656 144.5px,#ac2f5d 147.5px,#b33359 150.5px,#a42c61 152.5px)"></i><i style="background:linear-gradient(90deg,#cc4248 0.5px,#c13a51 3.5px,#cc4149 6.5px,#c73e4d 9.5px,#cb4149 12.5px,#ce4347 15.5px,#cf4446 20.5px,#d04545 23.5px,#d74b3f 28.5px,#d14644 30.5px,#de5238 33.5px,#db4f3c 36.5px,#e05536 39.5px,#e55b30 42.5px,#e8602d 44.5px,#e35833 46.5px,#ef6c23 49.5px,#ec6726 52.5px,#f47a18 54.5px,#f2741c 57.5px,#f98c0a 60.5px,#f8870e 62.5px,#fca209 65.5px,#fca70c 68.5px,#fac228 72.5px,#f3e35b 74.5px,#f2f179 75.5px,#f4f88e 77.5px,#f3f689 79.5px,#f2e865 81.5px,#fbba1f 84.5px,#fca008 89.5px,#f98d09 91.5px,#f8880d 94.5px,#f2731d 96.5px,#f3751b 99.5px,#e85f2d 102.5px,#e8602d 105.5px,#dd5139 107.5px,#e15635 110.5px,#d54941 113.5px,#d54941 116.5px,#d04545 119.5px,#c63e4d 124.5px,#c43c4e 127.5px,#c33c4f 130.5px,#bb3754 135.5px,#b73557 138.5px,#b63457 143.5px,#b43359 146.5px,#ae305c 151.5px,#b43359 152.5px)"></i><i style="background:linear-gradient(90deg,#c13b50 0.5px,#c93f4b 3.5px,#c9404b 6.5px,#ca404a 11.5px,#cb4149 14.5px,#d04545 19.5px,#d54941 24.5px,#d64a40 27.5px,#d84c3e 32.5px,#db503b 35.5px,#e25834 40.5px,#e65e2e 43.5px,#e55c30 47.5px,#ef6d22 50.5px,#eb6628 52.5px,#f57c16 55.5px,#f57c16 58.5px,#f98e09 60.5px,#fa8f09 63.5px,#fca40a 66.5px,#fcb116 69.5px,#fac329 72.5px,#f3e25a 74.5px,#f2f079 75.5px,#f4f88e 77.5px,#f3f689 79.5px,#f2e864 81.5px,#fbb81d 84.5px,#fca90e 88.5px,#fa9108 91.5px,#f7850f 94.5px,#f3771a 96.5px,#f1721e 99.5px,#ea632a 101.5px,#ea6429 104.5px,#e25734 107.5px,#dd5139 110.5px,#d64a40 115.5px,#d04545 120.5px,#cb414a 123.5px,#c33b50 128.5px,#bf3952 131.5px,#bc3754 136.5px,#bb3755 139.5px,#b53458 144.5px,#b0315b 149.5px,#b0315b 152.5px)"></i><i style="background:linear-gradient(90deg,#c83f4c 0.5px,#cb4149 8.5px,#cd4248 13.5px,#cf4446 18.5px,#d24644 23.5px,#db4f3b 29.5px,#d94d3d 33.5px,#de5338 36.5px,#e45a32 41.5px,#e8602c 44.5px,#e8602c 48.5px,#f06e21 51.5px,#ee6b24 53.5px,#f57d15 56.5px,#f47a17 58.5px,#fa9008 61.5px,#fb9806 64.5px,#fcb015 69.5px,#fac329 72.5px,#f3e258 74.5px,#f3f688 76.5px,#f3f689 79.5px,#f2e764 81.5px,#fbb71c 84.5px,#fca80d 88.5px,#fb9506 91.5px,#f57c16 96.5px,#ed6826 101.5px,#e75f2d 104.5px,#df5437 109.5px,#d84c3e 114.5px,#d14545 119.5px,#c73e4c 127.5px,#c13a50 132.5px,#bc3754 137.5px,#b73557 142.5px,#b0315b 150.5px,#ae305c 152.5px)"></i><i style="background:linear-gradient(90deg,#c9404b 0.5px,#d34743 20.5px,#df5437 35.5px,#e45a31 40.5px,#e55b31 44.5px,#eb6528 47.5px,#ef6d22 50.5px,#f1711f 54.5px,#f67f14 57.5px,#fb9706 64.5px,#fcb014 69.5px,#f8cf3a 73.5px,#f2ef76 75.5px,#f4f88e 77.5px,#f3f689 79.5px,#f2e661 81.5px,#fac42b 83.5px,#fcb519 85.5px,#fca60b 88.5px,#f98a0b 93.5px,#f2741c 98.5px,#ea632a 103.5px,#dd5239 110.5px,#c83f4c 125.5px,#b93656 140.5px,#b53458 151.5px,#b63458 152.5px)"></i><i style="background:linear-gradient(90deg,#c73e4d 0.5px,#da4e3c 31.5px,#e55c30 41.5px,#eb6528 46.5px,#ed6826 50.5px,#f1721e 53.5px,#f8890c 60.5px,#fca70c 66.5px,#fac32a 72.5px,#f4e056 74.5px,#f3f587 76.5px,#f3f689 79.5px,#f2e661 81.5px,#fac329 83.5px,#fb9b06 90.5px,#f78310 95.5px,#f1701f 100.5px,#e85f2d 104.5px,#e45a31 107.5px,#cc4248 124.5px,#b83557 143.5px,#ae305c 152.5px)"></i><i style="background:linear-gradient(90deg,#cb4149 0.5px,#da4e3d 28.5px,#e65e2e 42.5px,#ed6925 49.5px,#f57d15 56.5px,#fb9e07 65.5px,#fac42a 72.5px,#f4e055 74.5px,#f3f587 76.5px,#f3f688 79.5px,#f3e55f 81.5px,#fac228 83.5px,#fb9e07 90.5px,#f8860e 94.5px,#eb6529 104.5px,#d54941 118.5px,#b2325a 150.5px,#b63458 152.5px)"></i><i style="background:linear-gradient(90deg,#c9404b 0.5px,#df5337 34.5px,#ee6b24 48.5px,#f1711f 52.5px,#f98e09 61.5px,#fca60b 66.5px,#fac32a 72.5px,#f4e055 74.5px,#f3f587 76.5px,#f3f688 79.5px,#f2f17a 80.5px,#fac128 83.5px,#fc9f07 90.5px,#f3761a 98.5px,#de5338 112.5px,#bd3854 139.5px,#b1315b 152.5px)"></i><i style="background:linear-gradient(90deg,#ca414a 0.5px,#e35833 36.5px,#f3751b 53.5px,#fb9e07 65.5px,#fac329 72.5px,#f4df54 74.5px,#f3f586 76.5px,#f3f688 79.5px,#f3e45c 81.5px,#fac127 83.5px,#fb9706 91.5px,#ee6b24 102.5px,#d24743 119.5px,#b53458 152.5px)"></i><i style="background:linear-gradient(90deg,#cd4347 0.5px,#e05536 36.5px,#f47a18 54.5px,#fc9f07 65.5px,#fac329 72.5px,#f4de52 74.5px,#f3f586 76.5px,#f3f688 79.5px,#f3e259 81.5px,#fac127 83.5px,#fb9706 91.5px,#e9622b 105.5px,#cb4149 127.5px,#b53458 152.5px)"></i><i style="background:linear-gradient(90deg,#cb4149 0.5px,#e75f2d 42.5px,#f98a0b 59.5px,#fca40a 66.5px,#fac329 72.5px,#f4de51 74.5px,#f3f586 76.5px,#f4f88e 78.5px,#f2ef76 80.5px,#f8ce39 82.5px,#fbbd23 84.5px,#fa9407 92.5px,#eb6528 104.5px,#c83f4c 128.5px,#b43359 152.5px)"></i><i style="background:linear-gradient(90deg,#cd4347 0.5px,#e55b31 39.5px,#f8890c 59.5px,#fca60b 66.5px,#fac229 72.5px,#f4de51 74.5px,#f3f484 76.5px,#f4f88e 78.5px,#f2ef75 80.5px,#f8ce38 82.5px,#fcb418 86.5px,#fb9506 92.5px,#e75e2e 107.5px,#c33b50 134.5px,#b73557 152.5px)"></i><i style="background:linear-gradient(90deg,#cf4446 0.5px,#e65d2f 40.5px,#f98e09 60.5px,#fcab10 67.5px,#fac127 72.5px,#f4dd50 74.5px,#f2f484 76.5px,#f4f78d 78.5px,#f2ee74 80.5px,#f8cd37 82.5px,#fcb519 86.5px,#fb9506 92.5px,#e9622b 106.5px,#c53d4e 132.5px,#b73557 152.5px)"></i><i style="background:linear-gradient(90deg,#ce4447 0.5px,#e9612b 42.5px,#fb9706 62.5px,#fac127 72.5px,#f5dc4e 74.5px,#f2f484 76.5px,#f4f78d 78.5px,#f2ee73 80.5px,#f8cd37 82.5px,#fbb61a 86.5px,#fa9507 92.5px,#e65d2f 108.5px,#c13a51 138.5px,#b63457 152.5px)"></i><i style="background:linear-gradient(90deg,#cf4446 0.5px,#e9622b 42.5px,#fb9706 62.5px,#fac127 72.5px,#f5dc4d 74.5px,#f2f484 76.5px,#f4f78d 78.5px,#f2ed71 80.5px,#f8cd37 82.5px,#fbba1f 85.5px,#fb9a06 91.5px,#e55b31 109.5px,#c03952 140.5px,#b83557 152.5px)"></i><i style="background:linear-gradient(90deg,#d04546 0.5px,#e9612c 41.5px,#fb9706 62.5px,#fac026 72.5px,#f5db4c 74.5px,#f2f484 76.5px,#f4f78d 78.5px,#f3f586 79.5px,#f8cc36 82.5px,#fbba20 85.5px,#fb9606 92.5px,#e45a31 110.5px,#bc3754 145.5px,#b83557 152.5px)"></i><i style="background:linear-gradient(90deg,#d04545 0.5px,#ea632a 42.5px,#fb9706 62.5px,#fac026 72.5px,#f5da4a 74.5px,#f2f483 76.5px,#f4f78d 78.5px,#f2ed70 80.5px,#f8cc35 82.5px,#fbbb20 85.5px,#fb9706 92.5px,#e45a32 110.5px,#bd3853 144.5px,#b83556 152.5px)"></i><i style="background:linear-gradient(90deg,#d14545 0.5px,#ea6429 42.5px,#fb9806 62.5px,#fac026 72.5px,#f5d949 74.5px,#f2f482 76.5px,#f4f78d 78.5px,#f2ec6e 80.5px,#f9cb35 82.5px,#fbbb20 85.5px,#fb9706 92.5px,#e45b31 110.5px,#bd3853 145.5px,#b93656 152.5px)"></i><i style="background:linear-gradient(90deg,#d14644 0.5px,#eb6429 42.5px,#fb9c06 63.5px,#f9c830 73.5px,#f2f381 76.5px,#f4f78d 78.5px,#f2ec6d 80.5px,#f9ca33 82.5px,#fb9c06 91.5px,#e65d2f 109.5px,#c03a51 141.5px,#b93656 152.5px)"></i><i style="background:linear-gradient(90deg,#d24644 0.5px,#ea632a 41.5px,#fb9806 62.5px,#f9c72f 73.5px,#f2f37f 76.5px,#f4f78c 78.5px,#f2f484 79.5px,#f9ca33 82.5px,#fb9c06 91.5px,#e65d2f 109.5px,#c13a51 141.5px,#b93656 152.5px)"></i><i style="background:linear-gradient(90deg,#d24644 0.5px,#eb6528 42.5px,#fb9d07 63.5px,#f9c72f 73.5px,#f2f37f 76.5px,#f4f78c 78.5px,#f2f484 79.5px,#f9c831 82.5px,#fb9706 92.5px,#e45932 111.5px,#bd3853 146.5px,#ba3655 152.5px)"></i><i style="background:linear-gradient(90deg,#d24644 0.5px,#eb6528 42.5px,#fb9d07 63.5px,#fac62d 73.5px,#f2f37f 76.5px,#f4f78c 78.5px,#f2f483 79.5px,#f9c830 82.5px,#fb9706 92.5px,#e45932 111.5px,#bd3853 146.5px,#ba3655 152.5px)"></i><i style="background:linear-gradient(90deg,#d34743 0.5px,#ea6429 41.5px,#fb9906 62.5px,#fac52d 73.5px,#f2f27e 76.5px,#f4f78c 78.5px,#f2e968 80.5px,#f9c72f 82.5px,#fb9806 92.5px,#e55c30 110.5px,#be3853 146.5px,#ba3655 152.5px)"></i><i style="background:linear-gradient(90deg,#d34743 0.5px,#eb6429 41.5px,#fb9906 62.5px,#fac52c 73.5px,#f3e660 75.5px,#f2f27e 76.5px,#f4f78c 78.5px,#f2f381 79.5px,#f9c72f 82.5px,#fb9806 92.5px,#e45a32 111.5px,#be3853 146.5px,#ba3655 152.5px)"></i><i style="background:linear-gradient(90deg,#d34743 0.5px,#ec6627 42.5px,#fb9d07 63.5px,#fac52c 73.5px,#f7d23e 74.5px,#f2f27d 76.5px,#f4f78c 78.5px,#f2e864 80.5px,#fac62d 82.5px,#fb9806 92.5px,#e45a31 111.5px,#bf3952 145.5px,#ba3655 152.5px)"></i><i style="background:linear-gradient(90deg,#d34743 0.5px,#ec6627 42.5px,#fb9d07 63.5px,#fac42b 73.5px,#f3e45c 75.5px,#f2f17b 76.5px,#f4f78b 78.5px,#f2f37f 79.5px,#f7d441 81.5px,#fbbf25 83.5px,#fa9407 93.5px,#e35833 112.5px,#bc3754 149.5px,#ba3655 152.5px)"></i><i style="background:linear-gradient(90deg,#d34743 0.5px,#ec6627 42.5px,#fb9e07 63.5px,#fac32a 73.5px,#f8d03b 74.5px,#f2f17a 76.5px,#f4f78b 78.5px,#f2f27e 79.5px,#f7d340 81.5px,#fbbf25 83.5px,#fa9407 93.5px,#e35833 112.5px,#bc3754 149.5px,#ba3655 152.5px)"></i><i style="background:linear-gradient(90deg,#d44842 0.5px,#eb6528 41.5px,#fb9a06 62.5px,#fac329 73.5px,#f3e259 75.5px,#f2f17a 76.5px,#f4f78b 78.5px,#f2f27e 79.5px,#f7d23e 81.5px,#fbbf24 83.5px,#fa9407 93.5px,#e35833 112.5px,#bc3754 149.5px,#ba3655 152.5px)"></i><i style="background:linear-gradient(90deg,#d44842 0.5px,#eb6528 41.5px,#fb9a06 62.5px,#fac329 73.5px,#f3e157 75.5px,#f2f078 76.5px,#f3f689 77.5px,#f2f27d 79.5px,#f7d13d 81.5px,#fbbf24 83.5px,#fa9407 93.5px,#e35833 112.5px,#bd3853 148.5px,#ba3655 152.5px)"></i><i style="background:linear-gradient(90deg,#d44842 0.5px,#ec6727 42.5px,#fb9a06 62.5px,#fac228 73.5px,#f8cd37 74.5px,#f2f078 76.5px,#f3f689 77.5px,#f2f27c 79.5px,#f8d03b 81.5px,#fbbf24 83.5px,#fa9407 93.5px,#e55b31 111.5px,#bf3952 145.5px,#ba3655 152.5px)"></i><i style="background:linear-gradient(90deg,#d44842 0.5px,#ec6727 42.5px,#fb9e07 63.5px,#fac128 73.5px,#f8cc36 74.5px,#f2ef76 76.5px,#f3f689 77.5px,#f2f17b 79.5px,#f8cf3a 81.5px,#fbbe24 83.5px,#fa9407 93.5px,#e35932 112.5px,#be3853 147.5px,#bb3755 152.5px)"></i><i style="background:linear-gradient(90deg,#d44842 0.5px,#ec6727 42.5px,#fb9e07 63.5px,#fac127 73.5px,#f8cb35 74.5px,#f2ef75 76.5px,#f3f688 77.5px,#f3f689 78.5px,#f2f17a 79.5px,#f8ce38 81.5px,#fbbe24 83.5px,#fa9407 93.5px,#e35932 112.5px,#be3853 147.5px,#bb3755 152.5px)"></i><i style="background:linear-gradient(90deg,#d44842 0.5px,#ec6727 42.5px,#fb9e07 63.5px,#fac127 73.5px,#f9cb34 74.5px,#f2ee74 76.5px,#f3f587 77.5px,#f3f689 78.5px,#f2f078 79.5px,#f8cd38 81.5px,#fbbe24 83.5px,#fa9407 93.5px,#e35932 112.5px,#bd3853 148.5px,#bb3754 152.5px)"></i><i style="background:linear-gradient(90deg,#d44842 0.5px,#ec6727 42.5px,#fb9e07 63.5px,#fac027 73.5px,#f9ca32 74.5px,#f2ee72 76.5px,#f3f587 77.5px,#f3f689 78.5px,#f2f078 79.5px,#f8cc36 81.5px,#fbbe24 83.5px,#fa9407 93.5px,#e35932 112.5px,#bd3853 148.5px,#bc3754 152.5px)"></i><i style="background:linear-gradient(90deg,#d44941 0.5px,#eb6628 41.5px,#fb9a06 62.5px,#fac026 73.5px,#f9c931 74.5px,#f3f587 77.5px,#f3f689 78.5px,#f2ef76 79.5px,#f8cb35 81.5px,#fbbe23 83.5px,#fa9407 93.5px,#e35932 112.5px,#bd3853 148.5px,#bc3754 152.5px)"></i><i style="background:linear-gradient(90deg,#d54941 0.5px,#ec6726 42.5px,#fb9e07 63.5px,#f9c830 74.5px,#f3f587 77.5px,#f3f688 78.5px,#f2ef75 79.5px,#f9ca33 81.5px,#fbbe23 84.5px,#fb9906 92.5px,#e55b30 111.5px,#bf3952 146.5px,#bc3754 152.5px)"></i><i style="background:linear-gradient(90deg,#d54a41 0.5px,#ec6726 42.5px,#fb9e07 63.5px,#f9c72f 74.5px,#f3f586 77.5px,#f3f587 78.5px,#f2ee73 79.5px,#f9ca32 81.5px,#fb9906 92.5px,#e55b30 111.5px,#bf3952 146.5px,#bc3754 152.5px)"></i><i style="background:linear-gradient(90deg,#d54a41 0.5px,#ec6627 41.5px,#fb9e07 63.5px,#fbbe23 72.5px,#f9c62e 74.5px,#f3f585 77.5px,#f3f587 78.5px,#f9c931 81.5px,#fbbe23 84.5px,#fb9906 92.5px,#e55b30 111.5px,#bf3952 146.5px,#bc3754 152.5px)"></i><i style="background:linear-gradient(90deg,#d54a41 0.5px,#ec6627 41.5px,#fb9e07 63.5px,#fbbe23 72.5px,#fac62d 74.5px,#f3f484 77.5px,#f3f587 78.5px,#f9c830 81.5px,#fb9906 92.5px,#e55b30 111.5px,#bf3952 146.5px,#bc3754 152.5px)"></i></div>
<svg width="685" height="416" viewBox="0 0 685 416">
<text x="-1.2" y="26.7" font-size="13" text-anchor="start" fill="#000" font-weight="bold" font-style="normal" >a</text>
<defs>
<pattern id="latY" width="3" height="3" patternUnits="userSpaceOnUse" patternTransform="rotate(28)">
<rect width="3" height="3" fill="#d6e0e0"/>
<rect x="0" y="0" width="1.7" height="1.5" fill="#f2c424"/>
<rect x="1.5" y="1.5" width="1.7" height="1.5" fill="#f2c424"/>
<rect x="1.65" y="0.05" width="1.3" height="1.3" fill="#3a86d6"/>
<rect x="0.1" y="1.55" width="1.2" height="1.2" fill="#4a90d8"/>
</pattern>
<pattern id="latD" width="2.3" height="2.3" patternUnits="userSpaceOnUse" patternTransform="rotate(10)">
<rect width="2.3" height="2.3" fill="#2f6894"/>
<rect x="0" y="0" width="1.4" height="1.4" fill="#070c18"/>
<rect x="1.4" y="1.4" width="0.9" height="0.9" fill="#10182a"/>
</pattern>
<linearGradient id="latfade" x1="0" y1="0" x2="0" y2="1">
<stop offset="0" stop-color="#fff" stop-opacity="1"/><stop offset="0.45" stop-color="#fff" stop-opacity="0.9"/><stop offset="0.7" stop-color="#fff" stop-opacity="0.25"/><stop offset="0.8" stop-color="#fff" stop-opacity="0"/><stop offset="1" stop-color="#fff" stop-opacity="0"/>
</linearGradient>
<mask id="latmask"><rect x="0" y="80" width="160" height="40" fill="url(#latfade)"/></mask>
<filter id="blurA" x="-5%" y="-5%" width="110%" height="110%"><feGaussianBlur stdDeviation="0.35"/></filter>
</defs>
<g filter="url(#blurA)"><polygon points="13.1,137.7 28.5,149.7 54.7,144.3 72.3,153 85.4,149.7 85.4,153.6 72.3,157.6 54.7,148.8 28.5,154.3 13.1,142.1" fill="#3e3070" stroke="none" stroke-width="1.0" /><polygon points="85.4,135.5 102.9,144.3 116,142.1 116,146.2 102.9,148.5 85.4,139.6" fill="#3e3070" stroke="none" stroke-width="1.0" /><polygon points="118.2,127.8 131.4,135.5 143.4,133.3 143.4,137.2 131.4,139.6 118.2,131.9" fill="#3e3070" stroke="none" stroke-width="1.0" /><polygon points="13.1,126.7 52.5,126 66,131 83.2,136 85.4,136 85.4,149.7 72.3,153 54.7,144.3 28.5,149.7 13.1,137.7" fill="#161e3e" stroke="none" stroke-width="1.0" /><polygon points="85.4,121.3 96.3,125 113.9,124 118.5,117 118.5,131.9 116.5,142.1 102.9,144.3 85.4,135.5" fill="#161e3e" stroke="none" stroke-width="1.0" /><polygon points="118.2,116.9 131.4,121.3 142.3,119.1 143.4,120 143.4,133.3 131.4,135.5 118.2,127.8" fill="#161e3e" stroke="none" stroke-width="1.0" /><polygon points="13.1,126.7 26.3,133.3 26.3,136.6 13.1,137.7" fill="#4b9cc2" stroke="none" stroke-width="1.0" /><polygon points="74.3,138.3 85.4,137.3 85.4,146.1 74.3,149" fill="#5db2d4" stroke="none" stroke-width="1.0" /><polygon points="104.6,130 117.6,128.1 117.6,140 104.6,141.3" fill="#5db2d4" stroke="none" stroke-width="1.0" /><polygon points="127.6,122.5 143.4,121.6 143.4,131.5 133.4,133.1 127.6,131" fill="#5db2d4" stroke="none" stroke-width="1.0" /><polygon points="9.2,83.6 24.2,88.4 56,85.5 100,80 148,76 148,92.5 120,96 60,99 24.8,98 9.8,94.4" fill="#4b9cc2" stroke="none" stroke-width="1.0" /><polygon points="10.5,100 20,96.5 30,91.5 60,89 90,86 120,82.5 144.3,80.5 146,92 143.4,119.5 142.3,119.1 131.4,121.3 118.2,116.9 113.9,125.7 96.3,127.8 85.4,121.3 83.2,137.7 65.7,133.3 52.5,127.8 26.3,133.3 13.1,126.7 15,119" fill="url(#latY)" stroke="none" stroke-width="1.0" /><g mask="url(#latmask)"><polygon points="10.5,100 20,96.5 30,91.5 60,89 90,86 120,82.5 144.3,80.5 146,92 143.4,119.5 142.3,119.1 131.4,121.3 118.2,116.9 113.9,125.7 96.3,127.8 85.4,121.3 83.2,137.7 65.7,133.3 52.5,127.8 26.3,133.3 13.1,126.7 15,119" fill="url(#latD)" stroke="none" stroke-width="1.0" /></g><polygon points="8.4,78.4 23.1,85 23.1,90.1 8.6,83.3" fill="#e6cf8e" stroke="none" stroke-width="1.0" /><polygon points="23.1,85 53.1,81.6 53.1,86.8 23.1,90.1" fill="#f2c00e" stroke="none" stroke-width="1.0" /><polygon points="39.4,83.2 53.1,81.6 53.1,86.8 39.4,88.3" fill="#c88a1e" stroke="none" stroke-width="1.0" /><polygon points="53.1,81.6 69.8,86.5 70.2,91.7 53.1,86.8" fill="#d9b24a" stroke="none" stroke-width="1.0" /><polygon points="69.8,86.5 86.8,83.8 86.8,89.1 70.2,91.7" fill="#f2c00e" stroke="none" stroke-width="1.0" /><polygon points="70.6,78.6 88.5,77.1 88.5,82.2 70.6,83.7" fill="#c0821c" stroke="none" stroke-width="1.0" /><polygon points="88.5,77.1 106.3,80.8 106.3,86.4 88.5,82.2" fill="#d9b24a" stroke="none" stroke-width="1.0" /><polygon points="106.3,80.8 119.6,79.3 119.6,84.5 106.3,86.4" fill="#f2c00e" stroke="none" stroke-width="1.0" /><polygon points="102.6,75.9 116.3,73.7 116.3,78.7 102.6,80.9" fill="#c0821c" stroke="none" stroke-width="1.0" /><polygon points="116.3,73.7 136.2,77 136.2,82.1 116.3,78.7" fill="#d9b24a" stroke="none" stroke-width="1.0" /><polygon points="136.2,77 148.1,75.6 148.1,80.5 136.2,82.1" fill="#f2c00e" stroke="none" stroke-width="1.0" /><polygon points="8.4,78.4 25,74.8 25,72 39.9,70.2 45,73 50.5,73.8 54.9,73.6 54.9,68.9 67.1,68 75,70.5 81.2,70.2 81.2,66.4 92.5,65.4 101.3,65.9 110,67.5 129.6,67.5 145.7,69.4 148.1,75.6 136.2,77 116.3,73.7 102.6,75.9 119.6,79.3 106.3,80.8 88.5,77.1 70.6,78.6 86.8,83.8 69.8,86.5 53.1,81.6 23.1,85" fill="#dcd2c6" stroke="none" stroke-width="1.0" /><polygon points="25,72 35,75.6 25,74.8" fill="#e6cf8e" stroke="none" stroke-width="1.0" /><polygon points="54.9,68.9 66,72.4 54.9,73.6" fill="#e6cf8e" stroke="none" stroke-width="1.0" /><polygon points="81.2,66.4 92,69.6 81.2,70.2" fill="#e6cf8e" stroke="none" stroke-width="1.0" /><polygon points="129.6,70.3 145.7,69.9 146.5,73.4 137,72.5" fill="#f2c00e" stroke="none" stroke-width="1.0" /></g>
<polygon points="133.5,101 143.1,98.1 143.5,118.3 134.4,121.2" fill="none" stroke="#111" stroke-width="1.0" />
<line x1="143.1" y1="98.1" x2="156.5" y2="57.7" stroke="#111" stroke-width="1.0" />
<line x1="143.5" y1="118.3" x2="156.5" y2="112.5" stroke="#111" stroke-width="1.0" />
<defs><clipPath id="clipins"><rect x="157" y="58" width="54" height="54"/></clipPath></defs>
<rect x="156.4" y="57.5" width="55" height="55" fill="#fff" stroke="#111" stroke-width="1.2" /><g clip-path="url(#clipins)"><line x1="157" y1="61.1" x2="211" y2="61.1" stroke="#777" stroke-width="0.6" /><circle cx="158.6" cy="61.1" r="0.9" fill="#3a3a3a"/><circle cx="160.5" cy="61.1" r="0.9" fill="#3a3a3a"/><circle cx="164.2" cy="61.1" r="0.9" fill="#3a3a3a"/><circle cx="166.1" cy="61.1" r="0.9" fill="#3a3a3a"/><circle cx="169.8" cy="61.1" r="0.9" fill="#3a3a3a"/><circle cx="171.7" cy="61.1" r="0.9" fill="#3a3a3a"/><circle cx="175.4" cy="61.1" r="0.9" fill="#3a3a3a"/><circle cx="177.3" cy="61.1" r="0.9" fill="#3a3a3a"/><circle cx="181" cy="61.1" r="0.9" fill="#3a3a3a"/><circle cx="182.9" cy="61.1" r="0.9" fill="#3a3a3a"/><circle cx="186.6" cy="61.1" r="0.9" fill="#3a3a3a"/><circle cx="188.5" cy="61.1" r="0.9" fill="#3a3a3a"/><circle cx="192.2" cy="61.1" r="0.9" fill="#3a3a3a"/><circle cx="194.1" cy="61.1" r="0.9" fill="#3a3a3a"/><circle cx="197.8" cy="61.1" r="0.9" fill="#3a3a3a"/><circle cx="199.7" cy="61.1" r="0.9" fill="#3a3a3a"/><circle cx="203.4" cy="61.1" r="0.9" fill="#3a3a3a"/><circle cx="205.3" cy="61.1" r="0.9" fill="#3a3a3a"/><circle cx="209" cy="61.1" r="0.9" fill="#3a3a3a"/><circle cx="210.9" cy="61.1" r="0.9" fill="#3a3a3a"/><line x1="157" y1="66.8" x2="211" y2="66.8" stroke="#777" stroke-width="0.6" /><circle cx="158.6" cy="66.8" r="0.9" fill="#3a3a3a"/><circle cx="160.5" cy="66.8" r="0.9" fill="#3a3a3a"/><circle cx="164.2" cy="66.8" r="0.9" fill="#3a3a3a"/><circle cx="166.1" cy="66.8" r="0.9" fill="#3a3a3a"/><circle cx="169.8" cy="66.8" r="0.9" fill="#3a3a3a"/><circle cx="171.7" cy="66.8" r="0.9" fill="#3a3a3a"/><circle cx="175.4" cy="66.8" r="0.9" fill="#3a3a3a"/><circle cx="177.3" cy="66.8" r="0.9" fill="#3a3a3a"/><circle cx="181" cy="66.8" r="0.9" fill="#3a3a3a"/><circle cx="182.9" cy="66.8" r="0.9" fill="#3a3a3a"/><circle cx="186.6" cy="66.8" r="0.9" fill="#3a3a3a"/><circle cx="188.5" cy="66.8" r="0.9" fill="#3a3a3a"/><circle cx="192.2" cy="66.8" r="0.9" fill="#3a3a3a"/><circle cx="194.1" cy="66.8" r="0.9" fill="#3a3a3a"/><circle cx="197.8" cy="66.8" r="0.9" fill="#3a3a3a"/><circle cx="199.7" cy="66.8" r="0.9" fill="#3a3a3a"/><circle cx="203.4" cy="66.8" r="0.9" fill="#3a3a3a"/><circle cx="205.3" cy="66.8" r="0.9" fill="#3a3a3a"/><circle cx="209" cy="66.8" r="0.9" fill="#3a3a3a"/><circle cx="210.9" cy="66.8" r="0.9" fill="#3a3a3a"/><line x1="161" y1="76.7" x2="157" y2="72.1" stroke="#eec43a" stroke-width="1.1" /><line x1="161" y1="76.7" x2="159.2" y2="74.63" stroke="#4a94dc" stroke-width="1.2" /><line x1="161" y1="76.7" x2="157" y2="81.3" stroke="#eec43a" stroke-width="1.1" /><line x1="161" y1="76.7" x2="159.2" y2="78.77" stroke="#4a94dc" stroke-width="1.2" /><line x1="161" y1="76.7" x2="165" y2="72.1" stroke="#eec43a" stroke-width="1.1" /><line x1="161" y1="76.7" x2="162.8" y2="74.63" stroke="#4a94dc" stroke-width="1.2" /><line x1="161" y1="76.7" x2="165" y2="81.3" stroke="#eec43a" stroke-width="1.1" /><line x1="161" y1="76.7" x2="162.8" y2="78.77" stroke="#4a94dc" stroke-width="1.2" /><line x1="169" y1="76.7" x2="165" y2="72.1" stroke="#eec43a" stroke-width="1.1" /><line x1="169" y1="76.7" x2="167.2" y2="74.63" stroke="#4a94dc" stroke-width="1.2" /><line x1="169" y1="76.7" x2="165" y2="81.3" stroke="#eec43a" stroke-width="1.1" /><line x1="169" y1="76.7" x2="167.2" y2="78.77" stroke="#4a94dc" stroke-width="1.2" /><line x1="169" y1="76.7" x2="173" y2="72.1" stroke="#eec43a" stroke-width="1.1" /><line x1="169" y1="76.7" x2="170.8" y2="74.63" stroke="#4a94dc" stroke-width="1.2" /><line x1="169" y1="76.7" x2="173" y2="81.3" stroke="#eec43a" stroke-width="1.1" /><line x1="169" y1="76.7" x2="170.8" y2="78.77" stroke="#4a94dc" stroke-width="1.2" /><line x1="177" y1="76.7" x2="173" y2="72.1" stroke="#eec43a" stroke-width="1.1" /><line x1="177" y1="76.7" x2="175.2" y2="74.63" stroke="#4a94dc" stroke-width="1.2" /><line x1="177" y1="76.7" x2="173" y2="81.3" stroke="#eec43a" stroke-width="1.1" /><line x1="177" y1="76.7" x2="175.2" y2="78.77" stroke="#4a94dc" stroke-width="1.2" /><line x1="177" y1="76.7" x2="181" y2="72.1" stroke="#eec43a" stroke-width="1.1" /><line x1="177" y1="76.7" x2="178.8" y2="74.63" stroke="#4a94dc" stroke-width="1.2" /><line x1="177" y1="76.7" x2="181" y2="81.3" stroke="#eec43a" stroke-width="1.1" /><line x1="177" y1="76.7" x2="178.8" y2="78.77" stroke="#4a94dc" stroke-width="1.2" /><line x1="185" y1="76.7" x2="181" y2="72.1" stroke="#eec43a" stroke-width="1.1" /><line x1="185" y1="76.7" x2="183.2" y2="74.63" stroke="#4a94dc" stroke-width="1.2" /><line x1="185" y1="76.7" x2="181" y2="81.3" stroke="#eec43a" stroke-width="1.1" /><line x1="185" y1="76.7" x2="183.2" y2="78.77" stroke="#4a94dc" stroke-width="1.2" /><line x1="185" y1="76.7" x2="189" y2="72.1" stroke="#eec43a" stroke-width="1.1" /><line x1="185" y1="76.7" x2="186.8" y2="74.63" stroke="#4a94dc" stroke-width="1.2" /><line x1="185" y1="76.7" x2="189" y2="81.3" stroke="#eec43a" stroke-width="1.1" /><line x1="185" y1="76.7" x2="186.8" y2="78.77" stroke="#4a94dc" stroke-width="1.2" /><line x1="193" y1="76.7" x2="189" y2="72.1" stroke="#eec43a" stroke-width="1.1" /><line x1="193" y1="76.7" x2="191.2" y2="74.63" stroke="#4a94dc" stroke-width="1.2" /><line x1="193" y1="76.7" x2="189" y2="81.3" stroke="#eec43a" stroke-width="1.1" /><line x1="193" y1="76.7" x2="191.2" y2="78.77" stroke="#4a94dc" stroke-width="1.2" /><line x1="193" y1="76.7" x2="197" y2="72.1" stroke="#eec43a" stroke-width="1.1" /><line x1="193" y1="76.7" x2="194.8" y2="74.63" stroke="#4a94dc" stroke-width="1.2" /><line x1="193" y1="76.7" x2="197" y2="81.3" stroke="#eec43a" stroke-width="1.1" /><line x1="193" y1="76.7" x2="194.8" y2="78.77" stroke="#4a94dc" stroke-width="1.2" /><line x1="201" y1="76.7" x2="197" y2="72.1" stroke="#eec43a" stroke-width="1.1" /><line x1="201" y1="76.7" x2="199.2" y2="74.63" stroke="#4a94dc" stroke-width="1.2" /><line x1="201" y1="76.7" x2="197" y2="81.3" stroke="#eec43a" stroke-width="1.1" /><line x1="201" y1="76.7" x2="199.2" y2="78.77" stroke="#4a94dc" stroke-width="1.2" /><line x1="201" y1="76.7" x2="205" y2="72.1" stroke="#eec43a" stroke-width="1.1" /><line x1="201" y1="76.7" x2="202.8" y2="74.63" stroke="#4a94dc" stroke-width="1.2" /><line x1="201" y1="76.7" x2="205" y2="81.3" stroke="#eec43a" stroke-width="1.1" /><line x1="201" y1="76.7" x2="202.8" y2="78.77" stroke="#4a94dc" stroke-width="1.2" /><line x1="209" y1="76.7" x2="205" y2="72.1" stroke="#eec43a" stroke-width="1.1" /><line x1="209" y1="76.7" x2="207.2" y2="74.63" stroke="#4a94dc" stroke-width="1.2" /><line x1="209" y1="76.7" x2="205" y2="81.3" stroke="#eec43a" stroke-width="1.1" /><line x1="209" y1="76.7" x2="207.2" y2="78.77" stroke="#4a94dc" stroke-width="1.2" /><line x1="209" y1="76.7" x2="213" y2="72.1" stroke="#eec43a" stroke-width="1.1" /><line x1="209" y1="76.7" x2="210.8" y2="74.63" stroke="#4a94dc" stroke-width="1.2" /><line x1="209" y1="76.7" x2="213" y2="81.3" stroke="#eec43a" stroke-width="1.1" /><line x1="209" y1="76.7" x2="210.8" y2="78.77" stroke="#4a94dc" stroke-width="1.2" /><line x1="217" y1="76.7" x2="213" y2="72.1" stroke="#eec43a" stroke-width="1.1" /><line x1="217" y1="76.7" x2="215.2" y2="74.63" stroke="#4a94dc" stroke-width="1.2" /><line x1="217" y1="76.7" x2="213" y2="81.3" stroke="#eec43a" stroke-width="1.1" /><line x1="217" y1="76.7" x2="215.2" y2="78.77" stroke="#4a94dc" stroke-width="1.2" /><line x1="217" y1="76.7" x2="221" y2="72.1" stroke="#eec43a" stroke-width="1.1" /><line x1="217" y1="76.7" x2="218.8" y2="74.63" stroke="#4a94dc" stroke-width="1.2" /><line x1="217" y1="76.7" x2="221" y2="81.3" stroke="#eec43a" stroke-width="1.1" /><line x1="217" y1="76.7" x2="218.8" y2="78.77" stroke="#4a94dc" stroke-width="1.2" /><circle cx="157" cy="72.1" r="1.15" fill="#f0c430"/><circle cx="157" cy="81.3" r="1.15" fill="#f0c430"/><circle cx="165" cy="72.1" r="1.15" fill="#f0c430"/><circle cx="165" cy="81.3" r="1.15" fill="#f0c430"/><circle cx="173" cy="72.1" r="1.15" fill="#f0c430"/><circle cx="173" cy="81.3" r="1.15" fill="#f0c430"/><circle cx="181" cy="72.1" r="1.15" fill="#f0c430"/><circle cx="181" cy="81.3" r="1.15" fill="#f0c430"/><circle cx="189" cy="72.1" r="1.15" fill="#f0c430"/><circle cx="189" cy="81.3" r="1.15" fill="#f0c430"/><circle cx="197" cy="72.1" r="1.15" fill="#f0c430"/><circle cx="197" cy="81.3" r="1.15" fill="#f0c430"/><circle cx="205" cy="72.1" r="1.15" fill="#f0c430"/><circle cx="205" cy="81.3" r="1.15" fill="#f0c430"/><circle cx="213" cy="72.1" r="1.15" fill="#f0c430"/><circle cx="213" cy="81.3" r="1.15" fill="#f0c430"/><circle cx="221" cy="72.1" r="1.15" fill="#f0c430"/><circle cx="221" cy="81.3" r="1.15" fill="#f0c430"/><rect x="159.5" y="75.2" width="3" height="3" fill="#3d8ddc"/><rect x="167.5" y="75.2" width="3" height="3" fill="#3d8ddc"/><rect x="175.5" y="75.2" width="3" height="3" fill="#3d8ddc"/><rect x="183.5" y="75.2" width="3" height="3" fill="#3d8ddc"/><rect x="191.5" y="75.2" width="3" height="3" fill="#3d8ddc"/><rect x="199.5" y="75.2" width="3" height="3" fill="#3d8ddc"/><rect x="207.5" y="75.2" width="3" height="3" fill="#3d8ddc"/><rect x="215.5" y="75.2" width="3" height="3" fill="#3d8ddc"/><line x1="161" y1="89.3" x2="157" y2="84.7" stroke="#eec43a" stroke-width="1.1" /><line x1="161" y1="89.3" x2="159.2" y2="87.23" stroke="#4a94dc" stroke-width="1.2" /><line x1="161" y1="89.3" x2="157" y2="93.9" stroke="#eec43a" stroke-width="1.1" /><line x1="161" y1="89.3" x2="159.2" y2="91.37" stroke="#4a94dc" stroke-width="1.2" /><line x1="161" y1="89.3" x2="165" y2="84.7" stroke="#eec43a" stroke-width="1.1" /><line x1="161" y1="89.3" x2="162.8" y2="87.23" stroke="#4a94dc" stroke-width="1.2" /><line x1="161" y1="89.3" x2="165" y2="93.9" stroke="#eec43a" stroke-width="1.1" /><line x1="161" y1="89.3" x2="162.8" y2="91.37" stroke="#4a94dc" stroke-width="1.2" /><line x1="169" y1="89.3" x2="165" y2="84.7" stroke="#eec43a" stroke-width="1.1" /><line x1="169" y1="89.3" x2="167.2" y2="87.23" stroke="#4a94dc" stroke-width="1.2" /><line x1="169" y1="89.3" x2="165" y2="93.9" stroke="#eec43a" stroke-width="1.1" /><line x1="169" y1="89.3" x2="167.2" y2="91.37" stroke="#4a94dc" stroke-width="1.2" /><line x1="169" y1="89.3" x2="173" y2="84.7" stroke="#eec43a" stroke-width="1.1" /><line x1="169" y1="89.3" x2="170.8" y2="87.23" stroke="#4a94dc" stroke-width="1.2" /><line x1="169" y1="89.3" x2="173" y2="93.9" stroke="#eec43a" stroke-width="1.1" /><line x1="169" y1="89.3" x2="170.8" y2="91.37" stroke="#4a94dc" stroke-width="1.2" /><line x1="177" y1="89.3" x2="173" y2="84.7" stroke="#eec43a" stroke-width="1.1" /><line x1="177" y1="89.3" x2="175.2" y2="87.23" stroke="#4a94dc" stroke-width="1.2" /><line x1="177" y1="89.3" x2="173" y2="93.9" stroke="#eec43a" stroke-width="1.1" /><line x1="177" y1="89.3" x2="175.2" y2="91.37" stroke="#4a94dc" stroke-width="1.2" /><line x1="177" y1="89.3" x2="181" y2="84.7" stroke="#eec43a" stroke-width="1.1" /><line x1="177" y1="89.3" x2="178.8" y2="87.23" stroke="#4a94dc" stroke-width="1.2" /><line x1="177" y1="89.3" x2="181" y2="93.9" stroke="#eec43a" stroke-width="1.1" /><line x1="177" y1="89.3" x2="178.8" y2="91.37" stroke="#4a94dc" stroke-width="1.2" /><line x1="185" y1="89.3" x2="181" y2="84.7" stroke="#eec43a" stroke-width="1.1" /><line x1="185" y1="89.3" x2="183.2" y2="87.23" stroke="#4a94dc" stroke-width="1.2" /><line x1="185" y1="89.3" x2="181" y2="93.9" stroke="#eec43a" stroke-width="1.1" /><line x1="185" y1="89.3" x2="183.2" y2="91.37" stroke="#4a94dc" stroke-width="1.2" /><line x1="185" y1="89.3" x2="189" y2="84.7" stroke="#eec43a" stroke-width="1.1" /><line x1="185" y1="89.3" x2="186.8" y2="87.23" stroke="#4a94dc" stroke-width="1.2" /><line x1="185" y1="89.3" x2="189" y2="93.9" stroke="#eec43a" stroke-width="1.1" /><line x1="185" y1="89.3" x2="186.8" y2="91.37" stroke="#4a94dc" stroke-width="1.2" /><line x1="193" y1="89.3" x2="189" y2="84.7" stroke="#eec43a" stroke-width="1.1" /><line x1="193" y1="89.3" x2="191.2" y2="87.23" stroke="#4a94dc" stroke-width="1.2" /><line x1="193" y1="89.3" x2="189" y2="93.9" stroke="#eec43a" stroke-width="1.1" /><line x1="193" y1="89.3" x2="191.2" y2="91.37" stroke="#4a94dc" stroke-width="1.2" /><line x1="193" y1="89.3" x2="197" y2="84.7" stroke="#eec43a" stroke-width="1.1" /><line x1="193" y1="89.3" x2="194.8" y2="87.23" stroke="#4a94dc" stroke-width="1.2" /><line x1="193" y1="89.3" x2="197" y2="93.9" stroke="#eec43a" stroke-width="1.1" /><line x1="193" y1="89.3" x2="194.8" y2="91.37" stroke="#4a94dc" stroke-width="1.2" /><line x1="201" y1="89.3" x2="197" y2="84.7" stroke="#eec43a" stroke-width="1.1" /><line x1="201" y1="89.3" x2="199.2" y2="87.23" stroke="#4a94dc" stroke-width="1.2" /><line x1="201" y1="89.3" x2="197" y2="93.9" stroke="#eec43a" stroke-width="1.1" /><line x1="201" y1="89.3" x2="199.2" y2="91.37" stroke="#4a94dc" stroke-width="1.2" /><line x1="201" y1="89.3" x2="205" y2="84.7" stroke="#eec43a" stroke-width="1.1" /><line x1="201" y1="89.3" x2="202.8" y2="87.23" stroke="#4a94dc" stroke-width="1.2" /><line x1="201" y1="89.3" x2="205" y2="93.9" stroke="#eec43a" stroke-width="1.1" /><line x1="201" y1="89.3" x2="202.8" y2="91.37" stroke="#4a94dc" stroke-width="1.2" /><line x1="209" y1="89.3" x2="205" y2="84.7" stroke="#eec43a" stroke-width="1.1" /><line x1="209" y1="89.3" x2="207.2" y2="87.23" stroke="#4a94dc" stroke-width="1.2" /><line x1="209" y1="89.3" x2="205" y2="93.9" stroke="#eec43a" stroke-width="1.1" /><line x1="209" y1="89.3" x2="207.2" y2="91.37" stroke="#4a94dc" stroke-width="1.2" /><line x1="209" y1="89.3" x2="213" y2="84.7" stroke="#eec43a" stroke-width="1.1" /><line x1="209" y1="89.3" x2="210.8" y2="87.23" stroke="#4a94dc" stroke-width="1.2" /><line x1="209" y1="89.3" x2="213" y2="93.9" stroke="#eec43a" stroke-width="1.1" /><line x1="209" y1="89.3" x2="210.8" y2="91.37" stroke="#4a94dc" stroke-width="1.2" /><line x1="217" y1="89.3" x2="213" y2="84.7" stroke="#eec43a" stroke-width="1.1" /><line x1="217" y1="89.3" x2="215.2" y2="87.23" stroke="#4a94dc" stroke-width="1.2" /><line x1="217" y1="89.3" x2="213" y2="93.9" stroke="#eec43a" stroke-width="1.1" /><line x1="217" y1="89.3" x2="215.2" y2="91.37" stroke="#4a94dc" stroke-width="1.2" /><line x1="217" y1="89.3" x2="221" y2="84.7" stroke="#eec43a" stroke-width="1.1" /><line x1="217" y1="89.3" x2="218.8" y2="87.23" stroke="#4a94dc" stroke-width="1.2" /><line x1="217" y1="89.3" x2="221" y2="93.9" stroke="#eec43a" stroke-width="1.1" /><line x1="217" y1="89.3" x2="218.8" y2="91.37" stroke="#4a94dc" stroke-width="1.2" /><circle cx="157" cy="84.7" r="1.15" fill="#f0c430"/><circle cx="157" cy="93.9" r="1.15" fill="#f0c430"/><circle cx="165" cy="84.7" r="1.15" fill="#f0c430"/><circle cx="165" cy="93.9" r="1.15" fill="#f0c430"/><circle cx="173" cy="84.7" r="1.15" fill="#f0c430"/><circle cx="173" cy="93.9" r="1.15" fill="#f0c430"/><circle cx="181" cy="84.7" r="1.15" fill="#f0c430"/><circle cx="181" cy="93.9" r="1.15" fill="#f0c430"/><circle cx="189" cy="84.7" r="1.15" fill="#f0c430"/><circle cx="189" cy="93.9" r="1.15" fill="#f0c430"/><circle cx="197" cy="84.7" r="1.15" fill="#f0c430"/><circle cx="197" cy="93.9" r="1.15" fill="#f0c430"/><circle cx="205" cy="84.7" r="1.15" fill="#f0c430"/><circle cx="205" cy="93.9" r="1.15" fill="#f0c430"/><circle cx="213" cy="84.7" r="1.15" fill="#f0c430"/><circle cx="213" cy="93.9" r="1.15" fill="#f0c430"/><circle cx="221" cy="84.7" r="1.15" fill="#f0c430"/><circle cx="221" cy="93.9" r="1.15" fill="#f0c430"/><rect x="159.5" y="87.8" width="3" height="3" fill="#3d8ddc"/><rect x="167.5" y="87.8" width="3" height="3" fill="#3d8ddc"/><rect x="175.5" y="87.8" width="3" height="3" fill="#3d8ddc"/><rect x="183.5" y="87.8" width="3" height="3" fill="#3d8ddc"/><rect x="191.5" y="87.8" width="3" height="3" fill="#3d8ddc"/><rect x="199.5" y="87.8" width="3" height="3" fill="#3d8ddc"/><rect x="207.5" y="87.8" width="3" height="3" fill="#3d8ddc"/><rect x="215.5" y="87.8" width="3" height="3" fill="#3d8ddc"/><line x1="161" y1="102.5" x2="157" y2="97.9" stroke="#eec43a" stroke-width="1.1" /><line x1="161" y1="102.5" x2="159.2" y2="100.43" stroke="#4a94dc" stroke-width="1.2" /><line x1="161" y1="102.5" x2="157" y2="107.1" stroke="#eec43a" stroke-width="1.1" /><line x1="161" y1="102.5" x2="159.2" y2="104.57" stroke="#4a94dc" stroke-width="1.2" /><line x1="161" y1="102.5" x2="165" y2="97.9" stroke="#eec43a" stroke-width="1.1" /><line x1="161" y1="102.5" x2="162.8" y2="100.43" stroke="#4a94dc" stroke-width="1.2" /><line x1="161" y1="102.5" x2="165" y2="107.1" stroke="#eec43a" stroke-width="1.1" /><line x1="161" y1="102.5" x2="162.8" y2="104.57" stroke="#4a94dc" stroke-width="1.2" /><line x1="169" y1="102.5" x2="165" y2="97.9" stroke="#eec43a" stroke-width="1.1" /><line x1="169" y1="102.5" x2="167.2" y2="100.43" stroke="#4a94dc" stroke-width="1.2" /><line x1="169" y1="102.5" x2="165" y2="107.1" stroke="#eec43a" stroke-width="1.1" /><line x1="169" y1="102.5" x2="167.2" y2="104.57" stroke="#4a94dc" stroke-width="1.2" /><line x1="169" y1="102.5" x2="173" y2="97.9" stroke="#eec43a" stroke-width="1.1" /><line x1="169" y1="102.5" x2="170.8" y2="100.43" stroke="#4a94dc" stroke-width="1.2" /><line x1="169" y1="102.5" x2="173" y2="107.1" stroke="#eec43a" stroke-width="1.1" /><line x1="169" y1="102.5" x2="170.8" y2="104.57" stroke="#4a94dc" stroke-width="1.2" /><line x1="177" y1="102.5" x2="173" y2="97.9" stroke="#eec43a" stroke-width="1.1" /><line x1="177" y1="102.5" x2="175.2" y2="100.43" stroke="#4a94dc" stroke-width="1.2" /><line x1="177" y1="102.5" x2="173" y2="107.1" stroke="#eec43a" stroke-width="1.1" /><line x1="177" y1="102.5" x2="175.2" y2="104.57" stroke="#4a94dc" stroke-width="1.2" /><line x1="177" y1="102.5" x2="181" y2="97.9" stroke="#eec43a" stroke-width="1.1" /><line x1="177" y1="102.5" x2="178.8" y2="100.43" stroke="#4a94dc" stroke-width="1.2" /><line x1="177" y1="102.5" x2="181" y2="107.1" stroke="#eec43a" stroke-width="1.1" /><line x1="177" y1="102.5" x2="178.8" y2="104.57" stroke="#4a94dc" stroke-width="1.2" /><line x1="185" y1="102.5" x2="181" y2="97.9" stroke="#eec43a" stroke-width="1.1" /><line x1="185" y1="102.5" x2="183.2" y2="100.43" stroke="#4a94dc" stroke-width="1.2" /><line x1="185" y1="102.5" x2="181" y2="107.1" stroke="#eec43a" stroke-width="1.1" /><line x1="185" y1="102.5" x2="183.2" y2="104.57" stroke="#4a94dc" stroke-width="1.2" /><line x1="185" y1="102.5" x2="189" y2="97.9" stroke="#eec43a" stroke-width="1.1" /><line x1="185" y1="102.5" x2="186.8" y2="100.43" stroke="#4a94dc" stroke-width="1.2" /><line x1="185" y1="102.5" x2="189" y2="107.1" stroke="#eec43a" stroke-width="1.1" /><line x1="185" y1="102.5" x2="186.8" y2="104.57" stroke="#4a94dc" stroke-width="1.2" /><line x1="193" y1="102.5" x2="189" y2="97.9" stroke="#eec43a" stroke-width="1.1" /><line x1="193" y1="102.5" x2="191.2" y2="100.43" stroke="#4a94dc" stroke-width="1.2" /><line x1="193" y1="102.5" x2="189" y2="107.1" stroke="#eec43a" stroke-width="1.1" /><line x1="193" y1="102.5" x2="191.2" y2="104.57" stroke="#4a94dc" stroke-width="1.2" /><line x1="193" y1="102.5" x2="197" y2="97.9" stroke="#eec43a" stroke-width="1.1" /><line x1="193" y1="102.5" x2="194.8" y2="100.43" stroke="#4a94dc" stroke-width="1.2" /><line x1="193" y1="102.5" x2="197" y2="107.1" stroke="#eec43a" stroke-width="1.1" /><line x1="193" y1="102.5" x2="194.8" y2="104.57" stroke="#4a94dc" stroke-width="1.2" /><line x1="201" y1="102.5" x2="197" y2="97.9" stroke="#eec43a" stroke-width="1.1" /><line x1="201" y1="102.5" x2="199.2" y2="100.43" stroke="#4a94dc" stroke-width="1.2" /><line x1="201" y1="102.5" x2="197" y2="107.1" stroke="#eec43a" stroke-width="1.1" /><line x1="201" y1="102.5" x2="199.2" y2="104.57" stroke="#4a94dc" stroke-width="1.2" /><line x1="201" y1="102.5" x2="205" y2="97.9" stroke="#eec43a" stroke-width="1.1" /><line x1="201" y1="102.5" x2="202.8" y2="100.43" stroke="#4a94dc" stroke-width="1.2" /><line x1="201" y1="102.5" x2="205" y2="107.1" stroke="#eec43a" stroke-width="1.1" /><line x1="201" y1="102.5" x2="202.8" y2="104.57" stroke="#4a94dc" stroke-width="1.2" /><line x1="209" y1="102.5" x2="205" y2="97.9" stroke="#eec43a" stroke-width="1.1" /><line x1="209" y1="102.5" x2="207.2" y2="100.43" stroke="#4a94dc" stroke-width="1.2" /><line x1="209" y1="102.5" x2="205" y2="107.1" stroke="#eec43a" stroke-width="1.1" /><line x1="209" y1="102.5" x2="207.2" y2="104.57" stroke="#4a94dc" stroke-width="1.2" /><line x1="209" y1="102.5" x2="213" y2="97.9" stroke="#eec43a" stroke-width="1.1" /><line x1="209" y1="102.5" x2="210.8" y2="100.43" stroke="#4a94dc" stroke-width="1.2" /><line x1="209" y1="102.5" x2="213" y2="107.1" stroke="#eec43a" stroke-width="1.1" /><line x1="209" y1="102.5" x2="210.8" y2="104.57" stroke="#4a94dc" stroke-width="1.2" /><line x1="217" y1="102.5" x2="213" y2="97.9" stroke="#eec43a" stroke-width="1.1" /><line x1="217" y1="102.5" x2="215.2" y2="100.43" stroke="#4a94dc" stroke-width="1.2" /><line x1="217" y1="102.5" x2="213" y2="107.1" stroke="#eec43a" stroke-width="1.1" /><line x1="217" y1="102.5" x2="215.2" y2="104.57" stroke="#4a94dc" stroke-width="1.2" /><line x1="217" y1="102.5" x2="221" y2="97.9" stroke="#eec43a" stroke-width="1.1" /><line x1="217" y1="102.5" x2="218.8" y2="100.43" stroke="#4a94dc" stroke-width="1.2" /><line x1="217" y1="102.5" x2="221" y2="107.1" stroke="#eec43a" stroke-width="1.1" /><line x1="217" y1="102.5" x2="218.8" y2="104.57" stroke="#4a94dc" stroke-width="1.2" /><circle cx="157" cy="97.9" r="1.15" fill="#f0c430"/><circle cx="157" cy="107.1" r="1.15" fill="#f0c430"/><circle cx="165" cy="97.9" r="1.15" fill="#f0c430"/><circle cx="165" cy="107.1" r="1.15" fill="#f0c430"/><circle cx="173" cy="97.9" r="1.15" fill="#f0c430"/><circle cx="173" cy="107.1" r="1.15" fill="#f0c430"/><circle cx="181" cy="97.9" r="1.15" fill="#f0c430"/><circle cx="181" cy="107.1" r="1.15" fill="#f0c430"/><circle cx="189" cy="97.9" r="1.15" fill="#f0c430"/><circle cx="189" cy="107.1" r="1.15" fill="#f0c430"/><circle cx="197" cy="97.9" r="1.15" fill="#f0c430"/><circle cx="197" cy="107.1" r="1.15" fill="#f0c430"/><circle cx="205" cy="97.9" r="1.15" fill="#f0c430"/><circle cx="205" cy="107.1" r="1.15" fill="#f0c430"/><circle cx="213" cy="97.9" r="1.15" fill="#f0c430"/><circle cx="213" cy="107.1" r="1.15" fill="#f0c430"/><circle cx="221" cy="97.9" r="1.15" fill="#f0c430"/><circle cx="221" cy="107.1" r="1.15" fill="#f0c430"/><rect x="159.5" y="101" width="3" height="3" fill="#3d8ddc"/><rect x="167.5" y="101" width="3" height="3" fill="#3d8ddc"/><rect x="175.5" y="101" width="3" height="3" fill="#3d8ddc"/><rect x="183.5" y="101" width="3" height="3" fill="#3d8ddc"/><rect x="191.5" y="101" width="3" height="3" fill="#3d8ddc"/><rect x="199.5" y="101" width="3" height="3" fill="#3d8ddc"/><rect x="207.5" y="101" width="3" height="3" fill="#3d8ddc"/><rect x="215.5" y="101" width="3" height="3" fill="#3d8ddc"/></g>
<rect x="156.4" y="57.5" width="55" height="55" fill="none" stroke="#111" stroke-width="1.2" />
<text x="184.9" y="48.6" font-size="10.4" text-anchor="middle" fill="#1a1a1a" font-weight="normal" font-style="normal" >Side view</text>
<text x="213.6" y="70.8" font-size="10" text-anchor="start" fill="#1a1a1a" font-weight="normal" font-style="normal" >BLG</text>
<text x="213.6" y="95.2" font-size="10" fill="#1a1a1a">MoS<tspan font-size="7" dy="3.6">2</tspan></text>
<text x="180.8" y="132.6" font-size="10" text-anchor="middle" fill="#1a1a1a" font-weight="normal" font-style="normal" >Top view</text>
<text x="209.3" y="156.8" font-size="10.6" fill="#1a1a1a">0°</text>
<line x1="180.6" y1="142.7" x2="162.7" y2="153" stroke="#e8b82a" stroke-width="2.4" /><line x1="180.6" y1="142.7" x2="198.4" y2="153" stroke="#e8b82a" stroke-width="2.4" /><line x1="162.7" y1="153" x2="162.7" y2="170.8" stroke="#e8b82a" stroke-width="2.4" /><line x1="198.4" y1="153" x2="198.4" y2="170.8" stroke="#e8b82a" stroke-width="2.4" /><line x1="162.7" y1="170.8" x2="180.6" y2="180.6" stroke="#e8b82a" stroke-width="2.4" /><line x1="198.4" y1="170.8" x2="180.6" y2="180.6" stroke="#e8b82a" stroke-width="2.4" /><circle cx="180.6" cy="142.7" r="4.3" fill="#3c7ccc"/><circle cx="162.7" cy="153" r="4.3" fill="#3c7ccc"/><circle cx="198.4" cy="153" r="4.3" fill="#3c7ccc"/><circle cx="162.7" cy="170.8" r="4.3" fill="#3c7ccc"/><circle cx="198.4" cy="170.8" r="4.3" fill="#3c7ccc"/><circle cx="180.6" cy="180.6" r="4.3" fill="#3c7ccc"/><line x1="180.6" y1="147" x2="180.6" y2="140.5" stroke="#444" stroke-width="1.5" /><line x1="168.1" y1="154.6" x2="168.1" y2="148" stroke="#444" stroke-width="1.5" /><line x1="168.1" y1="154.6" x2="161.5" y2="158" stroke="#444" stroke-width="1.5" /><line x1="193.5" y1="154.6" x2="193.5" y2="148" stroke="#444" stroke-width="1.5" /><line x1="193.5" y1="154.6" x2="200" y2="151" stroke="#444" stroke-width="1.5" /><line x1="168.1" y1="169.2" x2="161.5" y2="173" stroke="#444" stroke-width="1.5" /><line x1="193.5" y1="169.2" x2="200" y2="173" stroke="#444" stroke-width="1.5" /><line x1="180.6" y1="176.8" x2="174.5" y2="181" stroke="#444" stroke-width="1.5" /><line x1="180.6" y1="176.8" x2="186.7" y2="181" stroke="#444" stroke-width="1.5" /><line x1="180.6" y1="147" x2="168.1" y2="154.6" stroke="#444" stroke-width="1.8" /><line x1="180.6" y1="147" x2="193.5" y2="154.6" stroke="#444" stroke-width="1.8" /><line x1="168.1" y1="154.6" x2="168.1" y2="169.2" stroke="#444" stroke-width="1.8" /><line x1="193.5" y1="154.6" x2="193.5" y2="169.2" stroke="#444" stroke-width="1.8" /><line x1="168.1" y1="169.2" x2="180.6" y2="176.8" stroke="#444" stroke-width="1.8" /><line x1="193.5" y1="169.2" x2="180.6" y2="176.8" stroke="#444" stroke-width="1.8" /><line x1="180.6" y1="162.2" x2="168.1" y2="154.6" stroke="#444" stroke-width="1.8" /><line x1="180.6" y1="162.2" x2="193.5" y2="154.6" stroke="#444" stroke-width="1.8" /><line x1="180.6" y1="162.2" x2="180.6" y2="176.8" stroke="#444" stroke-width="1.8" /><circle cx="180.6" cy="147" r="2.6" fill="#484848"/><circle cx="168.1" cy="154.6" r="2.6" fill="#484848"/><circle cx="193.5" cy="154.6" r="2.6" fill="#484848"/><circle cx="180.6" cy="162.2" r="2.6" fill="#484848"/><circle cx="168.1" cy="169.2" r="2.6" fill="#484848"/><circle cx="193.5" cy="169.2" r="2.6" fill="#484848"/><circle cx="180.6" cy="176.8" r="2.6" fill="#484848"/><line x1="181" y1="146" x2="214" y2="163" stroke="#222" stroke-width="0.9" stroke-dasharray="2.2,1"/><line x1="181.5" y1="149.5" x2="214" y2="166.5" stroke="#222" stroke-width="0.9" stroke-dasharray="2.2,1"/>
<text x="266.3" y="26.9" font-size="13" text-anchor="start" fill="#000" font-weight="bold" font-style="normal" >b</text>
<line x1="310.3" y1="158.7" x2="410.4" y2="158.7" stroke="#2a2a2a" stroke-width="1.5" stroke-dasharray="5.2,3"/>
<rect x="333.7" y="156.2" width="4.2" height="4.2" fill="#e8744e" stroke="#3a2a28" stroke-width="0.7" />
<rect x="344.9" y="154.9" width="4.2" height="4.2" fill="#e8744e" stroke="#3a2a28" stroke-width="0.7" />
<circle cx="354.6" cy="157.2" r="2.1" fill="#8ea3d8" stroke="#3a4a80" stroke-width="0.6"/>
<circle cx="359.4" cy="155.5" r="2.0" fill="#8ea3d8" stroke="#4a5a90" stroke-width="0.6"/>
<circle cx="361.43" cy="154.01" r="2.0" fill="#8ea3d8" stroke="#4a5a90" stroke-width="0.6"/>
<circle cx="363.33" cy="152.38" r="2.0" fill="#8ea3d8" stroke="#4a5a90" stroke-width="0.6"/>
<circle cx="364.98" cy="150.46" r="2.0" fill="#8ea3d8" stroke="#4a5a90" stroke-width="0.6"/>
<circle cx="366.51" cy="148.47" r="2.0" fill="#8ea3d8" stroke="#4a5a90" stroke-width="0.6"/>
<circle cx="368.04" cy="146.46" r="2.0" fill="#8ea3d8" stroke="#4a5a90" stroke-width="0.6"/>
<circle cx="369.56" cy="144.45" r="2.0" fill="#8ea3d8" stroke="#4a5a90" stroke-width="0.6"/>
<circle cx="370.78" cy="142.24" r="2.0" fill="#8ea3d8" stroke="#4a5a90" stroke-width="0.6"/>
<circle cx="371.93" cy="140" r="2.0" fill="#8ea3d8" stroke="#4a5a90" stroke-width="0.6"/>
<circle cx="373.03" cy="137.73" r="2.0" fill="#8ea3d8" stroke="#4a5a90" stroke-width="0.6"/>
<circle cx="374.12" cy="135.46" r="2.0" fill="#8ea3d8" stroke="#4a5a90" stroke-width="0.6"/>
<circle cx="375.09" cy="133.14" r="2.0" fill="#8ea3d8" stroke="#4a5a90" stroke-width="0.6"/>
<circle cx="375.91" cy="130.76" r="2.0" fill="#8ea3d8" stroke="#4a5a90" stroke-width="0.6"/>
<circle cx="376.56" cy="128.32" r="2.0" fill="#8ea3d8" stroke="#4a5a90" stroke-width="0.6"/>
<circle cx="377.21" cy="125.89" r="2.0" fill="#8ea3d8" stroke="#4a5a90" stroke-width="0.6"/>
<circle cx="377.87" cy="123.45" r="2.0" fill="#8ea3d8" stroke="#4a5a90" stroke-width="0.6"/>
<circle cx="378.52" cy="121.02" r="2.0" fill="#8ea3d8" stroke="#4a5a90" stroke-width="0.6"/>
<circle cx="379.18" cy="118.58" r="2.0" fill="#8ea3d8" stroke="#4a5a90" stroke-width="0.6"/>
<circle cx="379.94" cy="116.18" r="2.0" fill="#8ea3d8" stroke="#1a1f3a" stroke-width="0.9"/>
<circle cx="380.9" cy="113.85" r="2.0" fill="#8ea3d8" stroke="#1a1f3a" stroke-width="0.9"/>
<circle cx="381.86" cy="111.52" r="2.0" fill="#8ea3d8" stroke="#1a1f3a" stroke-width="0.9"/>
<circle cx="382.82" cy="109.19" r="2.0" fill="#8ea3d8" stroke="#1a1f3a" stroke-width="0.9"/>
<circle cx="383.78" cy="106.86" r="2.0" fill="#8ea3d8" stroke="#1a1f3a" stroke-width="0.9"/>
<circle cx="384.74" cy="104.53" r="2.0" fill="#8ea3d8" stroke="#1a1f3a" stroke-width="0.9"/>
<circle cx="385.7" cy="102.2" r="2.0" fill="#8ea3d8" stroke="#1a1f3a" stroke-width="0.9"/>
<circle cx="386.67" cy="99.87" r="2.0" fill="#8ea3d8" stroke="#1a1f3a" stroke-width="0.9"/>
<circle cx="387.63" cy="97.54" r="2.0" fill="#8ea3d8" stroke="#1a1f3a" stroke-width="0.9"/>
<circle cx="388.59" cy="95.21" r="2.0" fill="#8ea3d8" stroke="#1a1f3a" stroke-width="0.9"/>
<circle cx="389.55" cy="92.88" r="2.0" fill="#8ea3d8" stroke="#1a1f3a" stroke-width="0.9"/>
<circle cx="390.45" cy="90.53" r="2.0" fill="#8ea3d8" stroke="#1a1f3a" stroke-width="0.9"/>
<circle cx="391.36" cy="88.17" r="2.0" fill="#8ea3d8" stroke="#1a1f3a" stroke-width="0.9"/>
<circle cx="392.26" cy="85.82" r="2.0" fill="#8ea3d8" stroke="#1a1f3a" stroke-width="0.9"/>
<circle cx="393.17" cy="83.47" r="2.0" fill="#8ea3d8" stroke="#1a1f3a" stroke-width="0.9"/>
<circle cx="394.07" cy="81.12" r="2.0" fill="#8ea3d8" stroke="#1a1f3a" stroke-width="0.9"/>
<circle cx="394.98" cy="78.76" r="2.0" fill="#8ea3d8" stroke="#1a1f3a" stroke-width="0.9"/>
<circle cx="395.88" cy="76.41" r="2.0" fill="#8ea3d8" stroke="#1a1f3a" stroke-width="0.9"/>
<circle cx="396.79" cy="74.06" r="2.0" fill="#8ea3d8" stroke="#1a1f3a" stroke-width="0.9"/>
<circle cx="397.69" cy="71.71" r="2.0" fill="#8ea3d8" stroke="#1a1f3a" stroke-width="0.9"/>
<circle cx="398.6" cy="69.35" r="2.0" fill="#8ea3d8" stroke="#1a1f3a" stroke-width="0.9"/>
<circle cx="399.5" cy="67" r="2.0" fill="#8ea3d8" stroke="#1a1f3a" stroke-width="0.9"/>
<rect x="351.3" y="153.6" width="3.8" height="3.8" fill="#e8744e" stroke="#4a3028" stroke-width="0.6" />
<rect x="352.8" y="151.83" width="3.8" height="3.8" fill="#e8744e" stroke="#4a3028" stroke-width="0.6" />
<rect x="354.3" y="150.05" width="3.8" height="3.8" fill="#e8744e" stroke="#4a3028" stroke-width="0.6" />
<rect x="356.02" y="148.51" width="3.8" height="3.8" fill="#e8744e" stroke="#4a3028" stroke-width="0.6" />
<rect x="357.8" y="147.01" width="3.8" height="3.8" fill="#e8744e" stroke="#4a3028" stroke-width="0.6" />
<rect x="359.58" y="145.52" width="3.8" height="3.8" fill="#e8744e" stroke="#4a3028" stroke-width="0.6" />
<rect x="361.29" y="143.95" width="3.8" height="3.8" fill="#e8744e" stroke="#4a3028" stroke-width="0.6" />
<rect x="362.8" y="142.19" width="3.8" height="3.8" fill="#e8744e" stroke="#4a3028" stroke-width="0.6" />
<rect x="364.29" y="140.4" width="3.8" height="3.8" fill="#e8744e" stroke="#4a3028" stroke-width="0.6" />
<rect x="365.75" y="138.6" width="3.8" height="3.8" fill="#e8744e" stroke="#4a3028" stroke-width="0.6" />
<rect x="366.76" y="136.51" width="3.8" height="3.8" fill="#e8744e" stroke="#4a3028" stroke-width="0.6" />
<rect x="367.81" y="134.44" width="3.8" height="3.8" fill="#e8744e" stroke="#4a3028" stroke-width="0.6" />
<rect x="368.87" y="132.37" width="3.8" height="3.8" fill="#e8744e" stroke="#4a3028" stroke-width="0.6" />
<rect x="369.94" y="130.31" width="3.8" height="3.8" fill="#e8744e" stroke="#4a3028" stroke-width="0.6" />
<rect x="370.72" y="128.13" width="3.8" height="3.8" fill="#e8744e" stroke="#4a3028" stroke-width="0.6" />
<rect x="371.46" y="125.93" width="3.8" height="3.8" fill="#e8744e" stroke="#4a3028" stroke-width="0.6" />
<rect x="372.19" y="123.72" width="3.8" height="3.8" fill="#e8744e" stroke="#4a3028" stroke-width="0.6" />
<rect x="372.93" y="121.52" width="3.8" height="3.8" fill="#e8744e" stroke="#4a3028" stroke-width="0.6" />
<rect x="373.66" y="119.31" width="3.8" height="3.8" fill="#e8744e" stroke="#4a3028" stroke-width="0.6" />
<rect x="374.4" y="117.11" width="3.8" height="3.8" fill="#e8744e" stroke="#1e1a1a" stroke-width="0.9" />
<rect x="375.28" y="114.96" width="3.8" height="3.8" fill="#e8744e" stroke="#1e1a1a" stroke-width="0.9" />
<rect x="376.16" y="112.82" width="3.8" height="3.8" fill="#e8744e" stroke="#1e1a1a" stroke-width="0.9" />
<rect x="377.05" y="110.67" width="3.8" height="3.8" fill="#e8744e" stroke="#1e1a1a" stroke-width="0.9" />
<rect x="377.93" y="108.52" width="3.8" height="3.8" fill="#e8744e" stroke="#1e1a1a" stroke-width="0.9" />
<rect x="378.82" y="106.37" width="3.8" height="3.8" fill="#e8744e" stroke="#1e1a1a" stroke-width="0.9" />
<rect x="379.7" y="104.22" width="3.8" height="3.8" fill="#e8744e" stroke="#1e1a1a" stroke-width="0.9" />
<rect x="380.58" y="102.08" width="3.8" height="3.8" fill="#e8744e" stroke="#1e1a1a" stroke-width="0.9" />
<rect x="381.47" y="99.93" width="3.8" height="3.8" fill="#e8744e" stroke="#1e1a1a" stroke-width="0.9" />
<rect x="382.35" y="97.78" width="3.8" height="3.8" fill="#e8744e" stroke="#1e1a1a" stroke-width="0.9" />
<rect x="383.23" y="95.63" width="3.8" height="3.8" fill="#e8744e" stroke="#1e1a1a" stroke-width="0.9" />
<rect x="384.12" y="93.48" width="3.8" height="3.8" fill="#e8744e" stroke="#1e1a1a" stroke-width="0.9" />
<rect x="385" y="91.34" width="3.8" height="3.8" fill="#e8744e" stroke="#1e1a1a" stroke-width="0.9" />
<rect x="385.89" y="89.19" width="3.8" height="3.8" fill="#e8744e" stroke="#1e1a1a" stroke-width="0.9" />
<rect x="386.78" y="87.05" width="3.8" height="3.8" fill="#e8744e" stroke="#1e1a1a" stroke-width="0.9" />
<rect x="387.68" y="84.9" width="3.8" height="3.8" fill="#e8744e" stroke="#1e1a1a" stroke-width="0.9" />
<rect x="388.57" y="82.76" width="3.8" height="3.8" fill="#e8744e" stroke="#1e1a1a" stroke-width="0.9" />
<rect x="389.46" y="80.61" width="3.8" height="3.8" fill="#e8744e" stroke="#1e1a1a" stroke-width="0.9" />
<rect x="390.35" y="78.47" width="3.8" height="3.8" fill="#e8744e" stroke="#1e1a1a" stroke-width="0.9" />
<rect x="391.24" y="76.32" width="3.8" height="3.8" fill="#e8744e" stroke="#1e1a1a" stroke-width="0.9" />
<rect x="392.13" y="74.18" width="3.8" height="3.8" fill="#e8744e" stroke="#1e1a1a" stroke-width="0.9" />
<rect x="393.03" y="72.03" width="3.8" height="3.8" fill="#e8744e" stroke="#1e1a1a" stroke-width="0.9" />
<rect x="393.92" y="69.89" width="3.8" height="3.8" fill="#e8744e" stroke="#1e1a1a" stroke-width="0.9" />
<rect x="394.81" y="67.74" width="3.8" height="3.8" fill="#e8744e" stroke="#1e1a1a" stroke-width="0.9" />
<rect x="395.7" y="65.6" width="3.8" height="3.8" fill="#e8744e" stroke="#1e1a1a" stroke-width="0.9" />
<polyline points="380.5,106 386,94 397.6,67" fill="none" stroke="#141420" stroke-width="4.2" stroke-linecap="round"/>
<polyline points="374.5,122 380.5,106" fill="none" stroke="#141420" stroke-width="2.2" stroke-linecap="round"/>
<circle cx="398.9" cy="64.2" r="2.3" fill="#3a5bb0" stroke="#18204a" stroke-width="0.8"/>
<line x1="358" y1="164.75" x2="399.3" y2="69.2" stroke="#ee3a1a" stroke-width="1.7" />
<line x1="310.3" y1="38.38" x2="310.3" y2="165.53" stroke="#1a1a1a" stroke-width="1.25" />
<line x1="410.4" y1="38.38" x2="410.4" y2="165.53" stroke="#1a1a1a" stroke-width="1.25" />
<line x1="309.68" y1="39" x2="411.02" y2="39" stroke="#1a1a1a" stroke-width="1.25" />
<line x1="309.68" y1="164.9" x2="411.02" y2="164.9" stroke="#1a1a1a" stroke-width="1.25" />
<line x1="310.2" y1="164.9" x2="310.2" y2="170.2" stroke="#1a1a1a" stroke-width="1.0" />
<text x="308.4" y="185.9" font-size="9" text-anchor="middle" fill="#1a1a1a" textLength="11.2" lengthAdjust="spacingAndGlyphs">10</text>
<text x="313.4" y="179.9" font-size="6.5" text-anchor="start" fill="#1a1a1a" font-weight="normal" font-style="normal" >8</text>
<line x1="347.4" y1="164.9" x2="347.4" y2="170.2" stroke="#1a1a1a" stroke-width="1.0" />
<text x="345.6" y="185.9" font-size="9" text-anchor="middle" fill="#1a1a1a" textLength="11.2" lengthAdjust="spacingAndGlyphs">10</text>
<text x="350.6" y="179.9" font-size="6.5" text-anchor="start" fill="#1a1a1a" font-weight="normal" font-style="normal" >9</text>
<line x1="384.6" y1="164.9" x2="384.6" y2="170.2" stroke="#1a1a1a" stroke-width="1.0" />
<text x="380.7" y="185.9" font-size="9" text-anchor="middle" fill="#1a1a1a" textLength="11.2" lengthAdjust="spacingAndGlyphs">10</text>
<text x="385.7" y="179.9" font-size="6.5" text-anchor="start" fill="#1a1a1a" font-weight="normal" font-style="normal" >10</text>
<line x1="321.4" y1="164.9" x2="321.4" y2="168" stroke="#1a1a1a" stroke-width="0.8" />
<line x1="327.95" y1="164.9" x2="327.95" y2="168" stroke="#1a1a1a" stroke-width="0.8" />
<line x1="332.6" y1="164.9" x2="332.6" y2="168" stroke="#1a1a1a" stroke-width="0.8" />
<line x1="336.2" y1="164.9" x2="336.2" y2="168" stroke="#1a1a1a" stroke-width="0.8" />
<line x1="339.15" y1="164.9" x2="339.15" y2="168" stroke="#1a1a1a" stroke-width="0.8" />
<line x1="341.64" y1="164.9" x2="341.64" y2="168" stroke="#1a1a1a" stroke-width="0.8" />
<line x1="343.79" y1="164.9" x2="343.79" y2="168" stroke="#1a1a1a" stroke-width="0.8" />
<line x1="345.7" y1="164.9" x2="345.7" y2="168" stroke="#1a1a1a" stroke-width="0.8" />
<line x1="358.6" y1="164.9" x2="358.6" y2="168" stroke="#1a1a1a" stroke-width="0.8" />
<line x1="365.15" y1="164.9" x2="365.15" y2="168" stroke="#1a1a1a" stroke-width="0.8" />
<line x1="369.8" y1="164.9" x2="369.8" y2="168" stroke="#1a1a1a" stroke-width="0.8" />
<line x1="373.4" y1="164.9" x2="373.4" y2="168" stroke="#1a1a1a" stroke-width="0.8" />
<line x1="376.35" y1="164.9" x2="376.35" y2="168" stroke="#1a1a1a" stroke-width="0.8" />
<line x1="378.84" y1="164.9" x2="378.84" y2="168" stroke="#1a1a1a" stroke-width="0.8" />
<line x1="380.99" y1="164.9" x2="380.99" y2="168" stroke="#1a1a1a" stroke-width="0.8" />
<line x1="382.9" y1="164.9" x2="382.9" y2="168" stroke="#1a1a1a" stroke-width="0.8" />
<line x1="395.8" y1="164.9" x2="395.8" y2="168" stroke="#1a1a1a" stroke-width="0.8" />
<line x1="402.35" y1="164.9" x2="402.35" y2="168" stroke="#1a1a1a" stroke-width="0.8" />
<line x1="407" y1="164.9" x2="407" y2="168" stroke="#1a1a1a" stroke-width="0.8" />
<line x1="410.6" y1="164.9" x2="410.6" y2="168" stroke="#1a1a1a" stroke-width="0.8" />
<line x1="305.3" y1="38.9" x2="310.3" y2="38.9" stroke="#1a1a1a" stroke-width="1.0" />
<line x1="305.3" y1="121.5" x2="310.3" y2="121.5" stroke="#1a1a1a" stroke-width="1.0" />
<text x="294.6" y="43.6" font-size="9" text-anchor="end" fill="#1a1a1a" textLength="11.2" lengthAdjust="spacingAndGlyphs">10</text>
<text x="294.2" y="37.8" font-size="6.3" text-anchor="start" fill="#1a1a1a" font-weight="normal" font-style="normal" >2</text>
<text x="294.6" y="126.1" font-size="9" text-anchor="end" fill="#1a1a1a" textLength="11.2" lengthAdjust="spacingAndGlyphs">10</text>
<text x="294.2" y="120.6" font-size="6.3" text-anchor="start" fill="#1a1a1a" font-weight="normal" font-style="normal" >1</text>
<line x1="307.3" y1="164.69" x2="310.3" y2="164.69" stroke="#1a1a1a" stroke-width="0.8" />
<line x1="307.3" y1="154.37" x2="310.3" y2="154.37" stroke="#1a1a1a" stroke-width="0.8" />
<line x1="307.3" y1="146.37" x2="310.3" y2="146.37" stroke="#1a1a1a" stroke-width="0.8" />
<line x1="307.3" y1="139.82" x2="310.3" y2="139.82" stroke="#1a1a1a" stroke-width="0.8" />
<line x1="307.3" y1="134.29" x2="310.3" y2="134.29" stroke="#1a1a1a" stroke-width="0.8" />
<line x1="307.3" y1="129.5" x2="310.3" y2="129.5" stroke="#1a1a1a" stroke-width="0.8" />
<line x1="307.3" y1="125.28" x2="310.3" y2="125.28" stroke="#1a1a1a" stroke-width="0.8" />
<line x1="307.3" y1="96.63" x2="310.3" y2="96.63" stroke="#1a1a1a" stroke-width="0.8" />
<line x1="307.3" y1="82.09" x2="310.3" y2="82.09" stroke="#1a1a1a" stroke-width="0.8" />
<line x1="307.3" y1="71.77" x2="310.3" y2="71.77" stroke="#1a1a1a" stroke-width="0.8" />
<line x1="307.3" y1="63.77" x2="310.3" y2="63.77" stroke="#1a1a1a" stroke-width="0.8" />
<line x1="307.3" y1="57.22" x2="310.3" y2="57.22" stroke="#1a1a1a" stroke-width="0.8" />
<line x1="307.3" y1="51.69" x2="310.3" y2="51.69" stroke="#1a1a1a" stroke-width="0.8" />
<line x1="307.3" y1="46.9" x2="310.3" y2="46.9" stroke="#1a1a1a" stroke-width="0.8" />
<line x1="307.3" y1="42.68" x2="310.3" y2="42.68" stroke="#1a1a1a" stroke-width="0.8" />
<text transform="translate(277.6,103) rotate(-90)" font-size="11" text-anchor="middle" fill="#1a1a1a" textLength="41" lengthAdjust="spacingAndGlyphs"><tspan font-style="italic">σ</tspan> [<tspan font-style="italic">e</tspan><tspan font-size="7.6" dy="-3.6">2</tspan><tspan dy="3.6">/</tspan><tspan font-style="italic">h</tspan>]</text>
<text x="359.8" y="203.1" font-size="11" text-anchor="middle" fill="#1a1a1a" textLength="44" lengthAdjust="spacingAndGlyphs"><tspan font-style="italic">n</tspan> [cm<tspan font-size="7.6" dy="-3.6">−2</tspan><tspan dy="3.6">]</tspan></text>
<circle cx="327.4" cy="50.3" r="2.6" fill="#8ea3d8" stroke="#5a6a9a" stroke-width="0.6"/>
<rect x="325" y="60.2" width="4.8" height="4.8" fill="#f28e6a" stroke="#6a4a40" stroke-width="0.6" />
<text x="337" y="53.4" font-size="9" text-anchor="start" fill="#1a1a1a" font-weight="normal" font-style="normal" >electrons</text>
<text x="337" y="65.6" font-size="9" text-anchor="start" fill="#1a1a1a" font-weight="normal" font-style="normal" >holes</text>
<text x="427.6" y="26.9" font-size="13" text-anchor="start" fill="#000" font-weight="bold" font-style="normal" >c</text>
<line x1="604.75" y1="38.9" x2="604.75" y2="165.1" stroke="#1a1a1a" stroke-width="1.6" stroke-dasharray="5.5,3"/>
<line x1="477.4" y1="38.27" x2="477.4" y2="165.72" stroke="#1a1a1a" stroke-width="1.25" />
<line x1="630.1" y1="38.27" x2="630.1" y2="165.72" stroke="#1a1a1a" stroke-width="1.25" />
<line x1="476.77" y1="38.9" x2="630.73" y2="38.9" stroke="#1a1a1a" stroke-width="1.25" />
<line x1="476.77" y1="165.1" x2="630.73" y2="165.1" stroke="#1a1a1a" stroke-width="1.25" />
<line x1="477.4" y1="165.1" x2="477.4" y2="170.1" stroke="#1a1a1a" stroke-width="1.0" />
<text x="477.4" y="181.8" font-size="9" text-anchor="middle" fill="#1a1a1a" textLength="12.97" lengthAdjust="spacingAndGlyphs">−4</text>
<line x1="515.58" y1="165.1" x2="515.58" y2="170.1" stroke="#1a1a1a" stroke-width="1.0" />
<text x="515.58" y="181.8" font-size="9" text-anchor="middle" fill="#1a1a1a" textLength="12.97" lengthAdjust="spacingAndGlyphs">−2</text>
<line x1="553.75" y1="165.1" x2="553.75" y2="170.1" stroke="#1a1a1a" stroke-width="1.0" />
<text x="553.75" y="181.8" font-size="9" text-anchor="middle" fill="#1a1a1a" textLength="5.6" lengthAdjust="spacingAndGlyphs">0</text>
<line x1="591.92" y1="165.1" x2="591.92" y2="170.1" stroke="#1a1a1a" stroke-width="1.0" />
<text x="591.92" y="181.8" font-size="9" text-anchor="middle" fill="#1a1a1a" textLength="5.6" lengthAdjust="spacingAndGlyphs">2</text>
<line x1="630.1" y1="165.1" x2="630.1" y2="170.1" stroke="#1a1a1a" stroke-width="1.0" />
<text x="630.1" y="181.8" font-size="9" text-anchor="middle" fill="#1a1a1a" textLength="5.6" lengthAdjust="spacingAndGlyphs">4</text>
<line x1="472.4" y1="165.1" x2="477.4" y2="165.1" stroke="#1a1a1a" stroke-width="1.0" />
<text x="467.5" y="168.4" font-size="9" text-anchor="end" fill="#1a1a1a" textLength="14" lengthAdjust="spacingAndGlyphs">0.0</text>
<line x1="472.4" y1="102" x2="477.4" y2="102" stroke="#1a1a1a" stroke-width="1.0" />
<text x="467.5" y="105.3" font-size="9" text-anchor="end" fill="#1a1a1a" textLength="14" lengthAdjust="spacingAndGlyphs">0.5</text>
<line x1="472.4" y1="38.9" x2="477.4" y2="38.9" stroke="#1a1a1a" stroke-width="1.0" />
<text x="467.5" y="42.2" font-size="9" text-anchor="end" fill="#1a1a1a" textLength="14" lengthAdjust="spacingAndGlyphs">1.0</text>
<text transform="translate(445.7,102.2) rotate(-90)" font-size="11" text-anchor="middle" fill="#1a1a1a" textLength="24.5" lengthAdjust="spacingAndGlyphs"><tspan font-style="italic">B</tspan> [T]</text>
<text x="553.8" y="198.5" font-size="11" text-anchor="middle" fill="#1a1a1a" textLength="70.6" lengthAdjust="spacingAndGlyphs"><tspan font-style="italic">n</tspan> [10<tspan font-size="7.6" dy="-3.6">11</tspan><tspan dy="3.6"> cm</tspan><tspan font-size="7.6" dy="-3.6">−2</tspan><tspan dy="3.6">]</tspan></text>
<defs><linearGradient id="cbinf"><stop offset="0" stop-color="#000004"/><stop offset="0.13" stop-color="#1b0c41"/><stop offset="0.25" stop-color="#4a0c6b"/><stop offset="0.38" stop-color="#781c6d"/><stop offset="0.5" stop-color="#a52c60"/><stop offset="0.63" stop-color="#cf4446"/><stop offset="0.75" stop-color="#ed6925"/><stop offset="0.88" stop-color="#fb9b06"/><stop offset="0.94" stop-color="#f7d13d"/><stop offset="1" stop-color="#fcffa4"/></linearGradient></defs>
<rect x="476.1" y="23.65" width="52.6" height="7" fill="url(#cbinf)" stroke="#1a1a1a" stroke-width="1.0" />
<line x1="476.1" y1="18.4" x2="476.1" y2="23.65" stroke="#1a1a1a" stroke-width="1.0" />
<line x1="518.2" y1="18.4" x2="518.2" y2="23.65" stroke="#1a1a1a" stroke-width="1.0" />
<text x="474.4" y="10.75" font-size="9" text-anchor="middle" fill="#1a1a1a" textLength="11.2" lengthAdjust="spacingAndGlyphs">10</text>
<text x="479.1" y="4.6" font-size="6.5" text-anchor="start" fill="#1a1a1a" font-weight="normal" font-style="normal" >0</text>
<text x="516.5" y="10.75" font-size="9" text-anchor="middle" fill="#1a1a1a" textLength="11.2" lengthAdjust="spacingAndGlyphs">10</text>
<text x="521.1" y="4.6" font-size="6.5" text-anchor="start" fill="#1a1a1a" font-weight="normal" font-style="normal" >3</text>
<text x="536.2" y="28.9" font-size="10" fill="#1a1a1a" textLength="35" lengthAdjust="spacingAndGlyphs"><tspan font-style="italic">R</tspan><tspan font-style="italic" font-size="7" dy="2">xx</tspan><tspan dy="-2"> [Ω]</tspan></text>
<line x1="639.65" y1="38.27" x2="639.65" y2="165.72" stroke="#1a1a1a" stroke-width="1.25" />
<line x1="678" y1="38.27" x2="678" y2="165.72" stroke="#1a1a1a" stroke-width="1.25" />
<line x1="639.02" y1="38.9" x2="678.62" y2="38.9" stroke="#1a1a1a" stroke-width="1.25" />
<line x1="639.02" y1="165.1" x2="678.62" y2="165.1" stroke="#1a1a1a" stroke-width="1.25" />
<line x1="634.65" y1="165.1" x2="639.65" y2="165.1" stroke="#1a1a1a" stroke-width="1.0" />
<line x1="634.65" y1="102" x2="639.65" y2="102" stroke="#1a1a1a" stroke-width="1.0" />
<line x1="634.65" y1="38.9" x2="639.65" y2="38.9" stroke="#1a1a1a" stroke-width="1.0" />
<line x1="639.65" y1="165.1" x2="639.65" y2="170.1" stroke="#1a1a1a" stroke-width="1.0" />
<line x1="678" y1="165.1" x2="678" y2="170.1" stroke="#1a1a1a" stroke-width="1.0" />
<text x="639.65" y="181.8" font-size="9" text-anchor="middle" fill="#1a1a1a" textLength="5.6" lengthAdjust="spacingAndGlyphs">0</text>
<text x="678" y="181.8" font-size="9" text-anchor="middle" fill="#1a1a1a" textLength="16.8" lengthAdjust="spacingAndGlyphs">200</text>
<text x="659" y="198.5" font-size="11" text-anchor="middle" fill="#1a1a1a" textLength="36" lengthAdjust="spacingAndGlyphs"><tspan font-style="italic">R</tspan><tspan font-style="italic" font-size="7.6" dy="2">xx</tspan><tspan dy="-2"> [Ω]</tspan></text>
<path d="M661.8,38.9 C661.13,39.35 660.58,40.5 657.8,41.6 C655.02,42.7 647.95,44.32 645.1,45.5 C642.25,46.68 641.5,47.12 640.7,48.7 C639.9,50.28 639.83,53.15 640.3,55 C640.77,56.85 641.63,58.2 643.5,59.8 C645.37,61.4 649.65,62.88 651.5,64.6 C653.35,66.32 654.6,68.65 654.6,70.1 C654.6,71.55 653.22,72.37 651.5,73.3 C649.78,74.23 645.77,74.77 644.3,75.7 C642.83,76.63 642.3,77.85 642.7,78.9 C643.1,79.95 645.23,80.68 646.7,82 C648.17,83.32 650.97,85.33 651.5,86.8 C652.03,88.27 651.1,89.48 649.9,90.8 C648.7,92.12 645.1,93.65 644.3,94.7 C643.5,95.75 643.65,96.17 645.1,97.1 C646.55,98.03 652.32,99.17 653,100.3 C653.68,101.43 649.98,102.88 649.2,103.9 C648.42,104.92 647.18,105.28 648.3,106.4 C649.42,107.52 655.48,109.33 655.9,110.6 C656.32,111.87 651.5,112.87 650.8,114 C650.1,115.13 650.85,116.42 651.7,117.4 C652.55,118.38 655.77,119.07 655.9,119.9 C656.03,120.73 652.5,121.57 652.5,122.4 C652.5,123.23 655.48,124.05 655.9,124.9 C656.32,125.75 655,126.37 655,127.5 C655,128.63 655.47,130.17 655.9,131.7 C656.33,133.23 657.03,135.02 657.6,136.7 C658.17,138.38 658.88,140.12 659.3,141.8 C659.72,143.48 659.55,145.12 660.1,146.8 C660.65,148.48 662.03,150.35 662.6,151.9 C663.17,153.45 663.63,154.7 663.5,156.1 C663.37,157.5 662.5,158.9 661.8,160.3 C661.1,161.7 659.72,163.8 659.3,164.5" fill="none" stroke="#111" stroke-width="1.45" stroke-linejoin="round"/>
<line x1="669.2" y1="78.9" x2="654" y2="78.9" stroke="#111" stroke-width="1.5" />
<polygon points="650.2,78.9 656.2,75.6 656.2,82.2" fill="#111" stroke="none" stroke-width="1.0" />
<text x="-0.4" y="238.8" font-size="13" text-anchor="start" fill="#000" font-weight="bold" font-style="normal" >d</text>
<defs><clipPath id="clipd"><rect x="42.7" y="253.45" width="152.95" height="126.05000000000001"/></clipPath><filter id="blurd" x="-20%" y="-20%" width="140%" height="140%"><feGaussianBlur stdDeviation="0.6"/></filter><filter id="blurd2" x="-20%" y="-20%" width="140%" height="140%"><feGaussianBlur stdDeviation="1.6"/></filter><filter id="blurd3" x="-20%" y="-20%" width="140%" height="140%"><feGaussianBlur stdDeviation="0.5"/></filter></defs>
<g clip-path="url(#clipd)"><g filter="url(#blurd)"><line x1="92.23" y1="371.97" x2="92.34" y2="343.19" stroke="#000" stroke-opacity="0.02" stroke-width="1.04"/><line x1="51.57" y1="361.28" x2="50.28" y2="353.96" stroke="#000" stroke-opacity="0.04" stroke-width="0.71"/><line x1="107.63" y1="351.69" x2="108.01" y2="341.36" stroke="#000" stroke-opacity="0.03" stroke-width="1.74"/><line x1="130.97" y1="364.6" x2="132.04" y2="324.43" stroke="#000" stroke-opacity="0.02" stroke-width="0.95"/><line x1="64.76" y1="372.97" x2="63.81" y2="356.17" stroke="#000" stroke-opacity="0.06" stroke-width="1.3"/><line x1="140.42" y1="365.33" x2="139.1" y2="340.16" stroke="#000" stroke-opacity="0.02" stroke-width="0.85"/><line x1="146.77" y1="363.67" x2="146.63" y2="346.68" stroke="#000" stroke-opacity="0.05" stroke-width="0.96"/><line x1="164.2" y1="355.53" x2="164.28" y2="340.99" stroke="#000" stroke-opacity="0.05" stroke-width="1.65"/><line x1="154.27" y1="367.86" x2="154.02" y2="327.56" stroke="#000" stroke-opacity="0.02" stroke-width="1.51"/><line x1="65.95" y1="361.83" x2="66.74" y2="354.46" stroke="#000" stroke-opacity="0.06" stroke-width="1.29"/><line x1="176.6" y1="367.09" x2="176.84" y2="336.75" stroke="#000" stroke-opacity="0.05" stroke-width="1.15"/><line x1="171.17" y1="348.16" x2="169.86" y2="325.57" stroke="#000" stroke-opacity="0.04" stroke-width="1.44"/><line x1="141.68" y1="346.71" x2="141.34" y2="311.94" stroke="#000" stroke-opacity="0.02" stroke-width="1.4"/><line x1="46.15" y1="362.65" x2="44.83" y2="350.77" stroke="#000" stroke-opacity="0.02" stroke-width="1.52"/><line x1="62.48" y1="369.07" x2="61.22" y2="349.39" stroke="#000" stroke-opacity="0.07" stroke-width="1.14"/><line x1="126.74" y1="350" x2="126.07" y2="315.32" stroke="#000" stroke-opacity="0.04" stroke-width="1.1"/><line x1="97.57" y1="349.97" x2="96.6" y2="310.45" stroke="#000" stroke-opacity="0.02" stroke-width="0.88"/><line x1="78.39" y1="361.95" x2="76.9" y2="335.33" stroke="#000" stroke-opacity="0.03" stroke-width="1.1"/><line x1="99.18" y1="359.51" x2="99.22" y2="320.15" stroke="#000" stroke-opacity="0.06" stroke-width="1.34"/><line x1="146.12" y1="374.88" x2="147.25" y2="337.4" stroke="#000" stroke-opacity="0.06" stroke-width="1.56"/><line x1="102.71" y1="364.53" x2="101.4" y2="354.91" stroke="#000" stroke-opacity="0.05" stroke-width="0.68"/><line x1="74.63" y1="371.63" x2="73.13" y2="353.73" stroke="#000" stroke-opacity="0.02" stroke-width="0.78"/><line x1="58.22" y1="365.59" x2="58.56" y2="358.7" stroke="#000" stroke-opacity="0.07" stroke-width="0.78"/><line x1="81.28" y1="366.08" x2="82.33" y2="347.33" stroke="#000" stroke-opacity="0.02" stroke-width="1.79"/><line x1="113.97" y1="361.98" x2="113.5" y2="352.98" stroke="#000" stroke-opacity="0.02" stroke-width="0.92"/><line x1="169.47" y1="371.66" x2="169.56" y2="364.85" stroke="#000" stroke-opacity="0.07" stroke-width="0.78"/><line x1="125.78" y1="375.69" x2="126.87" y2="351.2" stroke="#000" stroke-opacity="0.07" stroke-width="1.44"/><line x1="82.64" y1="365.5" x2="82.74" y2="353.65" stroke="#000" stroke-opacity="0.06" stroke-width="1.53"/><line x1="93.12" y1="369.81" x2="94.18" y2="335.41" stroke="#000" stroke-opacity="0.07" stroke-width="1.57"/><line x1="167.86" y1="354.3" x2="167.43" y2="340.37" stroke="#000" stroke-opacity="0.05" stroke-width="0.63"/><line x1="46.97" y1="368.12" x2="48.34" y2="353.05" stroke="#000" stroke-opacity="0.06" stroke-width="1.14"/><line x1="186.02" y1="346.86" x2="185.18" y2="307.43" stroke="#000" stroke-opacity="0.03" stroke-width="0.87"/><line x1="72.79" y1="370.37" x2="73.81" y2="342.53" stroke="#000" stroke-opacity="0.07" stroke-width="1.18"/><line x1="142.57" y1="352.51" x2="143.8" y2="343.54" stroke="#000" stroke-opacity="0.05" stroke-width="1.54"/><line x1="157.43" y1="362.16" x2="156.93" y2="349.91" stroke="#000" stroke-opacity="0.06" stroke-width="1.56"/><line x1="191.31" y1="364.62" x2="191.99" y2="344.58" stroke="#000" stroke-opacity="0.07" stroke-width="0.8"/><line x1="62.13" y1="371.97" x2="61.07" y2="334.3" stroke="#000" stroke-opacity="0.06" stroke-width="1.59"/><line x1="192.64" y1="356.78" x2="191.53" y2="338.52" stroke="#000" stroke-opacity="0.05" stroke-width="0.62"/><line x1="191.2" y1="357.01" x2="191" y2="332.58" stroke="#000" stroke-opacity="0.07" stroke-width="1.65"/><line x1="169.06" y1="370.17" x2="168.28" y2="355.35" stroke="#000" stroke-opacity="0.03" stroke-width="1.3"/><line x1="82.37" y1="363.93" x2="81.93" y2="353.34" stroke="#000" stroke-opacity="0.07" stroke-width="1.15"/><line x1="131.92" y1="349.37" x2="131.93" y2="328.65" stroke="#000" stroke-opacity="0.05" stroke-width="1.24"/><line x1="122.77" y1="375.94" x2="121.28" y2="354.53" stroke="#000" stroke-opacity="0.03" stroke-width="1.56"/><line x1="69.06" y1="362.3" x2="68.54" y2="330.91" stroke="#000" stroke-opacity="0.05" stroke-width="1.22"/><line x1="127.65" y1="352.97" x2="126.9" y2="343.26" stroke="#000" stroke-opacity="0.05" stroke-width="0.93"/><line x1="160.82" y1="361.27" x2="162.05" y2="335.61" stroke="#000" stroke-opacity="0.06" stroke-width="1.13"/><line x1="136.39" y1="361.33" x2="136.24" y2="337.41" stroke="#000" stroke-opacity="0.06" stroke-width="1.24"/><line x1="115.82" y1="348.25" x2="117.14" y2="317.78" stroke="#000" stroke-opacity="0.04" stroke-width="0.91"/><line x1="128.28" y1="348.2" x2="127.14" y2="312.8" stroke="#000" stroke-opacity="0.02" stroke-width="1.13"/><line x1="53.8" y1="369.28" x2="54.65" y2="360.72" stroke="#000" stroke-opacity="0.06" stroke-width="1.68"/><line x1="66.32" y1="355.02" x2="67.47" y2="325.91" stroke="#000" stroke-opacity="0.02" stroke-width="1.76"/><line x1="76.29" y1="347.92" x2="77.76" y2="327.99" stroke="#000" stroke-opacity="0.03" stroke-width="1.6"/><line x1="67.4" y1="363.55" x2="66.48" y2="339.51" stroke="#000" stroke-opacity="0.04" stroke-width="0.98"/><line x1="153.15" y1="375.92" x2="151.71" y2="350.52" stroke="#000" stroke-opacity="0.04" stroke-width="1"/><line x1="138.13" y1="361.13" x2="138.99" y2="352.88" stroke="#000" stroke-opacity="0.07" stroke-width="1.77"/><line x1="58.73" y1="368.53" x2="58.04" y2="361.15" stroke="#000" stroke-opacity="0.06" stroke-width="0.76"/><line x1="107.28" y1="349.16" x2="106.23" y2="314.49" stroke="#000" stroke-opacity="0.02" stroke-width="1.7"/><line x1="129.97" y1="355.49" x2="130.54" y2="346.36" stroke="#000" stroke-opacity="0.02" stroke-width="1.11"/><line x1="53.78" y1="348.35" x2="52.53" y2="320.14" stroke="#000" stroke-opacity="0.04" stroke-width="1.63"/><line x1="52.89" y1="350.62" x2="53.05" y2="328.73" stroke="#000" stroke-opacity="0.04" stroke-width="1.71"/><line x1="83.67" y1="372.62" x2="82.5" y2="348.18" stroke="#000" stroke-opacity="0.03" stroke-width="0.79"/><line x1="50.41" y1="370.45" x2="51.18" y2="353.53" stroke="#000" stroke-opacity="0.03" stroke-width="0.95"/><line x1="119.19" y1="371.16" x2="118.44" y2="353.02" stroke="#000" stroke-opacity="0.02" stroke-width="0.62"/><line x1="154.82" y1="359.97" x2="156.13" y2="347.34" stroke="#000" stroke-opacity="0.04" stroke-width="0.73"/><line x1="167.95" y1="363.53" x2="167.63" y2="340.21" stroke="#000" stroke-opacity="0.07" stroke-width="1.21"/><line x1="147.89" y1="347.03" x2="148.51" y2="329.03" stroke="#000" stroke-opacity="0.04" stroke-width="1.36"/><line x1="104.6" y1="366.07" x2="103.31" y2="358.17" stroke="#000" stroke-opacity="0.02" stroke-width="1.49"/><line x1="81.79" y1="371.6" x2="82.9" y2="362.65" stroke="#000" stroke-opacity="0.07" stroke-width="1.4"/><line x1="85.82" y1="369.23" x2="84.79" y2="352.98" stroke="#000" stroke-opacity="0.04" stroke-width="1.13"/><line x1="82.96" y1="347.65" x2="82.2" y2="307.6" stroke="#000" stroke-opacity="0.03" stroke-width="1.76"/><line x1="90.05" y1="365.8" x2="89.97" y2="359.77" stroke="#000" stroke-opacity="0.04" stroke-width="1.2"/><line x1="73.44" y1="361.36" x2="72.21" y2="355.18" stroke="#000" stroke-opacity="0.03" stroke-width="1.08"/><line x1="49.07" y1="375.83" x2="49.33" y2="359.18" stroke="#000" stroke-opacity="0.03" stroke-width="1.24"/><line x1="157.5" y1="356.77" x2="157.16" y2="325.71" stroke="#000" stroke-opacity="0.07" stroke-width="0.99"/><line x1="193.31" y1="372.02" x2="191.95" y2="340.67" stroke="#000" stroke-opacity="0.05" stroke-width="1.6"/><line x1="179.12" y1="357.68" x2="178.04" y2="326" stroke="#000" stroke-opacity="0.06" stroke-width="1.23"/><line x1="119.84" y1="351.45" x2="120.1" y2="317.29" stroke="#000" stroke-opacity="0.06" stroke-width="1.67"/><line x1="147.15" y1="355.7" x2="146.05" y2="341.65" stroke="#000" stroke-opacity="0.02" stroke-width="1.03"/><line x1="58.75" y1="351.43" x2="59.13" y2="325.88" stroke="#000" stroke-opacity="0.05" stroke-width="1.42"/><line x1="117.54" y1="376.4" x2="117.55" y2="342.48" stroke="#000" stroke-opacity="0.06" stroke-width="1.24"/><line x1="143.54" y1="374.52" x2="142.26" y2="342.73" stroke="#000" stroke-opacity="0.03" stroke-width="0.92"/><line x1="154.25" y1="370.34" x2="154.23" y2="338.45" stroke="#000" stroke-opacity="0.07" stroke-width="1.06"/><line x1="115.96" y1="355.99" x2="116.39" y2="323.15" stroke="#000" stroke-opacity="0.05" stroke-width="0.69"/><line x1="65.25" y1="368.88" x2="65.45" y2="336.87" stroke="#000" stroke-opacity="0.03" stroke-width="0.61"/><line x1="51.98" y1="368.44" x2="52.51" y2="338.92" stroke="#000" stroke-opacity="0.06" stroke-width="0.95"/><line x1="121.7" y1="362.56" x2="122.89" y2="340.24" stroke="#000" stroke-opacity="0.02" stroke-width="0.84"/><line x1="192.3" y1="348.41" x2="193.26" y2="341.8" stroke="#000" stroke-opacity="0.03" stroke-width="1.76"/><line x1="111.44" y1="368.44" x2="110.58" y2="355.1" stroke="#000" stroke-opacity="0.07" stroke-width="1.3"/><line x1="64.38" y1="360.78" x2="65.34" y2="321.43" stroke="#000" stroke-opacity="0.02" stroke-width="1.21"/><line x1="178.35" y1="355.4" x2="178.3" y2="341.3" stroke="#000" stroke-opacity="0.07" stroke-width="0.63"/><line x1="43.25" y1="361.75" x2="42.17" y2="339.97" stroke="#000" stroke-opacity="0.03" stroke-width="1.01"/><line x1="91.04" y1="351.29" x2="92.06" y2="345.23" stroke="#000" stroke-opacity="0.06" stroke-width="0.74"/><line x1="184.39" y1="355.11" x2="184.01" y2="317.55" stroke="#000" stroke-opacity="0.03" stroke-width="1.07"/><line x1="195.47" y1="358.82" x2="194.79" y2="340.2" stroke="#000" stroke-opacity="0.04" stroke-width="0.66"/><line x1="58.26" y1="351.46" x2="57.5" y2="335.46" stroke="#000" stroke-opacity="0.07" stroke-width="0.92"/><line x1="120.85" y1="370.8" x2="122" y2="351.74" stroke="#000" stroke-opacity="0.07" stroke-width="1.57"/><line x1="139.2" y1="349.1" x2="139.85" y2="310.17" stroke="#000" stroke-opacity="0.03" stroke-width="0.66"/><line x1="154.71" y1="362.97" x2="154.07" y2="330.63" stroke="#000" stroke-opacity="0.05" stroke-width="0.66"/><line x1="184.45" y1="372.68" x2="183.84" y2="350.15" stroke="#000" stroke-opacity="0.04" stroke-width="1.49"/><line x1="192.02" y1="368.69" x2="192.2" y2="339.74" stroke="#000" stroke-opacity="0.03" stroke-width="1.07"/><line x1="68.29" y1="371.65" x2="68.28" y2="358.37" stroke="#000" stroke-opacity="0.07" stroke-width="0.86"/><line x1="181.31" y1="346.61" x2="180.39" y2="324.86" stroke="#000" stroke-opacity="0.02" stroke-width="0.71"/><line x1="95" y1="373.77" x2="95.21" y2="359.4" stroke="#000" stroke-opacity="0.03" stroke-width="1.66"/><line x1="157.36" y1="364.12" x2="156.99" y2="343.63" stroke="#000" stroke-opacity="0.05" stroke-width="1.01"/><line x1="52.19" y1="368.17" x2="52.2" y2="328.31" stroke="#000" stroke-opacity="0.02" stroke-width="1.36"/><line x1="174.67" y1="370.02" x2="174.37" y2="354.54" stroke="#000" stroke-opacity="0.03" stroke-width="1.14"/><line x1="188.61" y1="351.04" x2="187.2" y2="314.49" stroke="#000" stroke-opacity="0.02" stroke-width="1.45"/><line x1="179.7" y1="362.3" x2="179.37" y2="335.75" stroke="#000" stroke-opacity="0.02" stroke-width="1.71"/><line x1="168.97" y1="350.84" x2="167.8" y2="310.81" stroke="#000" stroke-opacity="0.03" stroke-width="0.79"/><line x1="122.6" y1="356.04" x2="123.04" y2="317.09" stroke="#000" stroke-opacity="0.06" stroke-width="1.52"/><line x1="112.65" y1="359.95" x2="111.85" y2="352.57" stroke="#000" stroke-opacity="0.06" stroke-width="1.7"/><line x1="141.43" y1="367.39" x2="141.84" y2="356.91" stroke="#000" stroke-opacity="0.03" stroke-width="1.44"/><line x1="59.85" y1="374.39" x2="59.51" y2="350.03" stroke="#000" stroke-opacity="0.05" stroke-width="0.87"/><line x1="134.63" y1="376.19" x2="136.01" y2="359.63" stroke="#000" stroke-opacity="0.04" stroke-width="1.37"/><line x1="177.87" y1="362.24" x2="179.26" y2="348.02" stroke="#000" stroke-opacity="0.03" stroke-width="1.45"/><line x1="89.72" y1="375.85" x2="89.48" y2="352.41" stroke="#000" stroke-opacity="0.06" stroke-width="0.91"/><line x1="144.77" y1="348.75" x2="144.29" y2="334.81" stroke="#000" stroke-opacity="0.02" stroke-width="1.1"/><line x1="147.1" y1="370.56" x2="147.11" y2="336.66" stroke="#000" stroke-opacity="0.06" stroke-width="0.85"/><line x1="191.04" y1="367.15" x2="190.2" y2="332.45" stroke="#000" stroke-opacity="0.03" stroke-width="1.51"/><line x1="87.81" y1="347.94" x2="86.98" y2="324.59" stroke="#000" stroke-opacity="0.02" stroke-width="1.1"/><line x1="144.46" y1="348.04" x2="143.6" y2="336.91" stroke="#000" stroke-opacity="0.03" stroke-width="1.77"/><line x1="64.41" y1="374.94" x2="65.6" y2="366.84" stroke="#000" stroke-opacity="0.04" stroke-width="1.66"/><line x1="154.77" y1="346.57" x2="153.83" y2="307.97" stroke="#000" stroke-opacity="0.03" stroke-width="1.72"/><line x1="156.85" y1="375.54" x2="156.47" y2="346.29" stroke="#000" stroke-opacity="0.04" stroke-width="1"/><line x1="68.59" y1="376.41" x2="69.96" y2="360.62" stroke="#000" stroke-opacity="0.04" stroke-width="0.75"/><line x1="190.19" y1="370.28" x2="191.15" y2="351.8" stroke="#000" stroke-opacity="0.06" stroke-width="1.12"/><line x1="50.23" y1="362.3" x2="49.31" y2="343.25" stroke="#000" stroke-opacity="0.07" stroke-width="1.04"/><line x1="179.9" y1="375.59" x2="180.7" y2="355.21" stroke="#000" stroke-opacity="0.06" stroke-width="0.65"/><line x1="48.03" y1="374.62" x2="48.77" y2="336.42" stroke="#000" stroke-opacity="0.03" stroke-width="1.68"/><line x1="94.56" y1="368.33" x2="93.85" y2="328.81" stroke="#000" stroke-opacity="0.05" stroke-width="1.46"/><line x1="91.11" y1="368.23" x2="92.36" y2="362.1" stroke="#000" stroke-opacity="0.06" stroke-width="1.36"/><line x1="186.97" y1="375.77" x2="188.34" y2="361.59" stroke="#000" stroke-opacity="0.04" stroke-width="1.74"/><line x1="101.82" y1="368.97" x2="103.1" y2="347.92" stroke="#000" stroke-opacity="0.04" stroke-width="0.82"/><line x1="165.45" y1="354.35" x2="165.77" y2="319.55" stroke="#000" stroke-opacity="0.06" stroke-width="0.99"/><line x1="91.57" y1="365.64" x2="90.67" y2="332.27" stroke="#000" stroke-opacity="0.02" stroke-width="1.5"/><line x1="80.53" y1="374.56" x2="80" y2="367.37" stroke="#000" stroke-opacity="0.05" stroke-width="1.78"/><line x1="177.83" y1="346.87" x2="176.62" y2="331.59" stroke="#000" stroke-opacity="0.02" stroke-width="1.2"/><line x1="151.26" y1="363.09" x2="151.62" y2="348.89" stroke="#000" stroke-opacity="0.04" stroke-width="1.41"/><line x1="157.1" y1="351.09" x2="158.13" y2="321.84" stroke="#000" stroke-opacity="0.02" stroke-width="0.95"/><line x1="129.4" y1="365.31" x2="128.65" y2="333.48" stroke="#000" stroke-opacity="0.03" stroke-width="0.89"/><line x1="66.15" y1="349.97" x2="65.84" y2="323.74" stroke="#000" stroke-opacity="0.03" stroke-width="1.79"/><line x1="120.3" y1="369.56" x2="121.77" y2="335.26" stroke="#000" stroke-opacity="0.05" stroke-width="0.72"/><line x1="115.31" y1="351.93" x2="113.94" y2="316.51" stroke="#000" stroke-opacity="0.07" stroke-width="0.95"/><line x1="60.93" y1="370.81" x2="62.22" y2="330.76" stroke="#000" stroke-opacity="0.05" stroke-width="1.05"/><line x1="175.17" y1="363.03" x2="176.51" y2="347.93" stroke="#000" stroke-opacity="0.06" stroke-width="0.73"/><line x1="133.88" y1="357.9" x2="132.8" y2="344.28" stroke="#000" stroke-opacity="0.04" stroke-width="0.84"/><line x1="81.69" y1="358.52" x2="80.22" y2="329.71" stroke="#000" stroke-opacity="0.03" stroke-width="0.99"/><line x1="146.45" y1="370.95" x2="147.33" y2="354.02" stroke="#000" stroke-opacity="0.03" stroke-width="1.26"/><line x1="52.38" y1="373.46" x2="52.79" y2="353.62" stroke="#000" stroke-opacity="0.05" stroke-width="0.71"/><line x1="67.74" y1="355.64" x2="67.16" y2="335.3" stroke="#000" stroke-opacity="0.03" stroke-width="1.74"/><line x1="90.48" y1="359.5" x2="91.57" y2="341" stroke="#000" stroke-opacity="0.04" stroke-width="1.8"/><line x1="98.34" y1="370.58" x2="96.86" y2="339.1" stroke="#000" stroke-opacity="0.03" stroke-width="1.68"/><line x1="107.51" y1="351.89" x2="107.4" y2="331.67" stroke="#000" stroke-opacity="0.07" stroke-width="0.8"/><line x1="44.97" y1="359.95" x2="43.74" y2="331.53" stroke="#000" stroke-opacity="0.07" stroke-width="1.35"/><line x1="99.42" y1="361.37" x2="99.48" y2="350.26" stroke="#000" stroke-opacity="0.03" stroke-width="1.71"/><line x1="59.34" y1="361.78" x2="58.43" y2="327.62" stroke="#000" stroke-opacity="0.07" stroke-width="0.75"/><line x1="186.94" y1="347.23" x2="188.22" y2="324.34" stroke="#000" stroke-opacity="0.02" stroke-width="1.07"/><line x1="181" y1="357.89" x2="181.86" y2="323.03" stroke="#000" stroke-opacity="0.02" stroke-width="0.87"/><line x1="104.57" y1="351.11" x2="103.72" y2="316.09" stroke="#000" stroke-opacity="0.03" stroke-width="1.08"/><line x1="121.91" y1="364.99" x2="122.59" y2="354.69" stroke="#000" stroke-opacity="0.03" stroke-width="1.68"/><line x1="48.99" y1="359.63" x2="50" y2="327.12" stroke="#000" stroke-opacity="0.02" stroke-width="0.74"/><line x1="134.4" y1="360" x2="134.16" y2="332.05" stroke="#000" stroke-opacity="0.03" stroke-width="1.3"/><line x1="107.82" y1="356.73" x2="106.39" y2="335.1" stroke="#000" stroke-opacity="0.04" stroke-width="1.34"/><line x1="117.57" y1="369.44" x2="117.44" y2="336.72" stroke="#000" stroke-opacity="0.06" stroke-width="0.82"/><line x1="115.08" y1="373.29" x2="113.85" y2="362.79" stroke="#000" stroke-opacity="0.04" stroke-width="1.13"/><line x1="120.73" y1="375.28" x2="121.43" y2="347" stroke="#000" stroke-opacity="0.02" stroke-width="1.53"/><line x1="120.93" y1="374.87" x2="122.28" y2="351.23" stroke="#000" stroke-opacity="0.04" stroke-width="0.76"/><line x1="173.79" y1="346.62" x2="172.87" y2="314.99" stroke="#000" stroke-opacity="0.04" stroke-width="1.78"/><line x1="117.93" y1="347.8" x2="118.8" y2="309.74" stroke="#000" stroke-opacity="0.02" stroke-width="1.72"/><line x1="52.72" y1="365.97" x2="53.91" y2="333.51" stroke="#000" stroke-opacity="0.02" stroke-width="0.93"/><line x1="167.45" y1="372.19" x2="166.58" y2="348.62" stroke="#000" stroke-opacity="0.07" stroke-width="0.92"/><line x1="120.09" y1="366.93" x2="119.08" y2="359.64" stroke="#000" stroke-opacity="0.03" stroke-width="1.72"/><line x1="146.66" y1="349.64" x2="145.5" y2="337.73" stroke="#000" stroke-opacity="0.04" stroke-width="1.24"/><line x1="140.02" y1="365.71" x2="140.27" y2="329.15" stroke="#000" stroke-opacity="0.05" stroke-width="1.66"/><line x1="58.7" y1="346.71" x2="59.59" y2="318.67" stroke="#000" stroke-opacity="0.03" stroke-width="0.92"/><line x1="194.2" y1="359.18" x2="194.02" y2="340.57" stroke="#000" stroke-opacity="0.06" stroke-width="0.81"/><line x1="156.43" y1="375.05" x2="156.85" y2="340.36" stroke="#000" stroke-opacity="0.03" stroke-width="1.78"/><line x1="132.31" y1="356.59" x2="130.91" y2="339.65" stroke="#000" stroke-opacity="0.02" stroke-width="0.78"/><line x1="136.93" y1="363.53" x2="135.82" y2="339.59" stroke="#000" stroke-opacity="0.07" stroke-width="0.87"/><line x1="142.59" y1="375.83" x2="141.41" y2="369.74" stroke="#000" stroke-opacity="0.04" stroke-width="1.03"/><line x1="77" y1="358.99" x2="77.37" y2="332.37" stroke="#000" stroke-opacity="0.03" stroke-width="1.17"/><line x1="63.31" y1="348.4" x2="62.1" y2="333.88" stroke="#000" stroke-opacity="0.02" stroke-width="1.37"/><line x1="175.96" y1="353.04" x2="174.5" y2="332.97" stroke="#000" stroke-opacity="0.03" stroke-width="1.37"/><line x1="128.71" y1="365.99" x2="130.02" y2="337.39" stroke="#000" stroke-opacity="0.04" stroke-width="1.48"/><line x1="80.71" y1="349.39" x2="80.43" y2="341.85" stroke="#000" stroke-opacity="0.03" stroke-width="0.89"/><line x1="51.63" y1="353.13" x2="52.95" y2="346.7" stroke="#000" stroke-opacity="0.05" stroke-width="0.77"/><line x1="73.22" y1="358.26" x2="74.16" y2="334.51" stroke="#000" stroke-opacity="0.05" stroke-width="0.81"/><line x1="90.02" y1="367.49" x2="90.87" y2="359.79" stroke="#000" stroke-opacity="0.07" stroke-width="1.46"/><line x1="43.67" y1="351.17" x2="44.4" y2="319.09" stroke="#000" stroke-opacity="0.04" stroke-width="1.14"/><line x1="77.26" y1="373.34" x2="76.77" y2="359.21" stroke="#000" stroke-opacity="0.02" stroke-width="1.5"/><line x1="149.02" y1="351.14" x2="149.18" y2="320.23" stroke="#000" stroke-opacity="0.03" stroke-width="1.12"/><line x1="163.29" y1="360.8" x2="164.69" y2="345.52" stroke="#000" stroke-opacity="0.05" stroke-width="0.86"/><line x1="177.3" y1="376.04" x2="178.03" y2="360.93" stroke="#000" stroke-opacity="0.03" stroke-width="1.73"/><line x1="156.82" y1="366.69" x2="156.04" y2="329.89" stroke="#000" stroke-opacity="0.03" stroke-width="1.69"/><line x1="139.16" y1="355.71" x2="139.07" y2="326.43" stroke="#000" stroke-opacity="0.07" stroke-width="1.61"/><line x1="149.4" y1="350.77" x2="149.61" y2="329.47" stroke="#000" stroke-opacity="0.06" stroke-width="0.97"/><line x1="75.12" y1="357.82" x2="74.05" y2="349.1" stroke="#000" stroke-opacity="0.07" stroke-width="0.63"/><line x1="59.02" y1="348.63" x2="57.6" y2="330.56" stroke="#000" stroke-opacity="0.02" stroke-width="0.65"/><line x1="148.64" y1="357.48" x2="147.33" y2="327.09" stroke="#000" stroke-opacity="0.06" stroke-width="1.31"/><line x1="98.28" y1="351.97" x2="96.98" y2="317.29" stroke="#000" stroke-opacity="0.07" stroke-width="1.64"/><line x1="182.56" y1="348.17" x2="181.39" y2="338.42" stroke="#000" stroke-opacity="0.02" stroke-width="0.64"/><line x1="172.36" y1="352.14" x2="172.75" y2="323.94" stroke="#000" stroke-opacity="0.06" stroke-width="0.94"/><line x1="57.98" y1="373.56" x2="57.43" y2="341.06" stroke="#000" stroke-opacity="0.03" stroke-width="1.11"/><line x1="45.9" y1="368.8" x2="45.5" y2="352.91" stroke="#000" stroke-opacity="0.06" stroke-width="0.98"/><line x1="190.14" y1="361.39" x2="188.74" y2="325.59" stroke="#000" stroke-opacity="0.05" stroke-width="1.1"/><line x1="109.45" y1="353.31" x2="109.57" y2="335.17" stroke="#000" stroke-opacity="0.06" stroke-width="0.86"/><line x1="174.58" y1="373.77" x2="173.08" y2="339.08" stroke="#000" stroke-opacity="0.03" stroke-width="0.84"/><line x1="159.28" y1="347.16" x2="159.25" y2="341.01" stroke="#000" stroke-opacity="0.03" stroke-width="1.56"/><line x1="70.92" y1="361.66" x2="70.2" y2="343.51" stroke="#000" stroke-opacity="0.06" stroke-width="1.73"/><line x1="86.1" y1="370.06" x2="84.93" y2="339.58" stroke="#000" stroke-opacity="0.04" stroke-width="1.36"/><line x1="55.07" y1="352.86" x2="55.45" y2="322.46" stroke="#000" stroke-opacity="0.06" stroke-width="1.03"/><line x1="104.07" y1="364.66" x2="105.24" y2="327.5" stroke="#000" stroke-opacity="0.02" stroke-width="0.63"/><line x1="74.23" y1="368.6" x2="73.86" y2="331.06" stroke="#000" stroke-opacity="0.05" stroke-width="1.66"/><line x1="78.43" y1="362.67" x2="79.18" y2="338.07" stroke="#000" stroke-opacity="0.06" stroke-width="1.38"/><line x1="96" y1="366.7" x2="96.49" y2="355.26" stroke="#000" stroke-opacity="0.07" stroke-width="1.49"/><line x1="68.63" y1="363.34" x2="67.51" y2="330.27" stroke="#000" stroke-opacity="0.05" stroke-width="1.15"/><line x1="178.08" y1="369.36" x2="178.69" y2="356.66" stroke="#000" stroke-opacity="0.03" stroke-width="1.61"/><line x1="66.35" y1="371.82" x2="66.41" y2="357.16" stroke="#000" stroke-opacity="0.03" stroke-width="0.79"/><line x1="92.88" y1="370.82" x2="91.68" y2="330.69" stroke="#000" stroke-opacity="0.06" stroke-width="1.75"/><line x1="58.25" y1="364.97" x2="58.95" y2="324.54" stroke="#000" stroke-opacity="0.06" stroke-width="1.12"/><line x1="72.71" y1="357.36" x2="72.37" y2="347.62" stroke="#000" stroke-opacity="0.03" stroke-width="0.64"/><line x1="103.73" y1="352.77" x2="104.13" y2="322.5" stroke="#000" stroke-opacity="0.05" stroke-width="1.16"/><line x1="64.39" y1="358.39" x2="65.61" y2="338.22" stroke="#000" stroke-opacity="0.06" stroke-width="1.12"/><line x1="130.49" y1="354.03" x2="131.16" y2="333.29" stroke="#000" stroke-opacity="0.03" stroke-width="1.66"/><line x1="161.09" y1="355.5" x2="161.52" y2="319.66" stroke="#000" stroke-opacity="0.06" stroke-width="1.14"/><line x1="90.58" y1="357.65" x2="91.42" y2="348.23" stroke="#000" stroke-opacity="0.04" stroke-width="1.46"/><line x1="139" y1="369" x2="139.36" y2="348.17" stroke="#000" stroke-opacity="0.04" stroke-width="1.09"/><line x1="145.98" y1="348.59" x2="146.81" y2="336.19" stroke="#000" stroke-opacity="0.04" stroke-width="1.07"/><line x1="117.62" y1="347.26" x2="116.6" y2="339.93" stroke="#000" stroke-opacity="0.03" stroke-width="1.54"/><line x1="186.56" y1="360.92" x2="186.69" y2="351.39" stroke="#000" stroke-opacity="0.05" stroke-width="1.46"/><line x1="121.04" y1="357.32" x2="120.77" y2="322.31" stroke="#000" stroke-opacity="0.05" stroke-width="1.74"/><line x1="74.83" y1="355.97" x2="73.7" y2="336.23" stroke="#000" stroke-opacity="0.06" stroke-width="1.78"/><line x1="97.07" y1="374.8" x2="95.61" y2="359.2" stroke="#000" stroke-opacity="0.04" stroke-width="1.1"/><line x1="107.02" y1="355.55" x2="106.2" y2="337.23" stroke="#000" stroke-opacity="0.03" stroke-width="1.49"/><line x1="186.46" y1="360.69" x2="186.14" y2="347.03" stroke="#000" stroke-opacity="0.06" stroke-width="0.85"/><line x1="62.48" y1="353.2" x2="62.38" y2="318.87" stroke="#000" stroke-opacity="0.05" stroke-width="1.27"/><line x1="77.26" y1="347.58" x2="78.22" y2="329.22" stroke="#000" stroke-opacity="0.04" stroke-width="1.58"/><line x1="114.3" y1="367.67" x2="115.3" y2="342.48" stroke="#000" stroke-opacity="0.02" stroke-width="1.03"/><line x1="172.81" y1="368.48" x2="172.59" y2="349.31" stroke="#000" stroke-opacity="0.03" stroke-width="0.82"/><line x1="43.11" y1="354.85" x2="42.52" y2="339" stroke="#000" stroke-opacity="0.03" stroke-width="1.18"/><line x1="108.24" y1="357.38" x2="109.52" y2="328.31" stroke="#000" stroke-opacity="0.04" stroke-width="1.63"/><line x1="51.43" y1="351.66" x2="50.35" y2="313.96" stroke="#000" stroke-opacity="0.06" stroke-width="1.6"/><line x1="139.54" y1="376.05" x2="140.01" y2="369.65" stroke="#000" stroke-opacity="0.07" stroke-width="0.9"/><line x1="58.23" y1="372.22" x2="57.77" y2="358.04" stroke="#000" stroke-opacity="0.06" stroke-width="0.78"/><line x1="180.98" y1="352.75" x2="181.31" y2="340.87" stroke="#000" stroke-opacity="0.07" stroke-width="1.54"/><line x1="144.94" y1="349.68" x2="144.03" y2="316.1" stroke="#000" stroke-opacity="0.04" stroke-width="1.43"/><line x1="123.89" y1="354.24" x2="124.05" y2="332.89" stroke="#000" stroke-opacity="0.07" stroke-width="0.92"/><line x1="78.52" y1="372.32" x2="78.42" y2="349.06" stroke="#000" stroke-opacity="0.02" stroke-width="0.77"/><line x1="117.86" y1="361.55" x2="116.38" y2="336.67" stroke="#000" stroke-opacity="0.07" stroke-width="1.61"/><line x1="114.27" y1="359.62" x2="113.9" y2="330.34" stroke="#000" stroke-opacity="0.07" stroke-width="1.1"/><line x1="189.63" y1="374.24" x2="188.21" y2="345.94" stroke="#000" stroke-opacity="0.05" stroke-width="1.33"/><line x1="147.1" y1="348.56" x2="147.13" y2="330.99" stroke="#000" stroke-opacity="0.05" stroke-width="1.18"/><line x1="179.98" y1="375.48" x2="179.5" y2="344.35" stroke="#000" stroke-opacity="0.05" stroke-width="1.63"/><line x1="98.7" y1="362.26" x2="97.84" y2="337.87" stroke="#000" stroke-opacity="0.06" stroke-width="1.12"/><line x1="107.3" y1="359.88" x2="108.29" y2="324.94" stroke="#000" stroke-opacity="0.03" stroke-width="1.08"/><line x1="119.75" y1="368.35" x2="120.21" y2="344.62" stroke="#000" stroke-opacity="0.07" stroke-width="1.55"/><line x1="93.31" y1="366.99" x2="93.72" y2="350.51" stroke="#000" stroke-opacity="0.05" stroke-width="1.54"/><line x1="48.83" y1="354.82" x2="47.47" y2="317.82" stroke="#000" stroke-opacity="0.05" stroke-width="0.96"/><line x1="43.65" y1="370.8" x2="44.12" y2="332.55" stroke="#000" stroke-opacity="0.05" stroke-width="1.55"/><line x1="181.86" y1="358.15" x2="182.45" y2="330.56" stroke="#000" stroke-opacity="0.05" stroke-width="1.32"/><line x1="146.86" y1="370.12" x2="147.64" y2="340.78" stroke="#000" stroke-opacity="0.04" stroke-width="0.72"/><line x1="70.43" y1="375.39" x2="70.9" y2="342.28" stroke="#000" stroke-opacity="0.07" stroke-width="1.04"/><line x1="168.52" y1="352.9" x2="167.92" y2="327.23" stroke="#000" stroke-opacity="0.03" stroke-width="1.11"/><line x1="91.41" y1="363.58" x2="90.07" y2="335.12" stroke="#000" stroke-opacity="0.07" stroke-width="1.28"/><line x1="48.72" y1="372.93" x2="49.98" y2="338.57" stroke="#000" stroke-opacity="0.05" stroke-width="1.14"/><line x1="44.86" y1="364.89" x2="46.3" y2="338.17" stroke="#000" stroke-opacity="0.07" stroke-width="1.17"/><line x1="105.78" y1="373.44" x2="104.73" y2="344.88" stroke="#000" stroke-opacity="0.03" stroke-width="0.62"/><line x1="43.43" y1="355.99" x2="42.2" y2="345.73" stroke="#000" stroke-opacity="0.07" stroke-width="1.64"/><line x1="62.43" y1="375.97" x2="63.13" y2="344.79" stroke="#000" stroke-opacity="0.03" stroke-width="0.82"/><line x1="50.37" y1="353.28" x2="51.06" y2="322.3" stroke="#000" stroke-opacity="0.07" stroke-width="0.7"/><line x1="138.85" y1="355.22" x2="138.11" y2="333.1" stroke="#000" stroke-opacity="0.07" stroke-width="1.76"/><line x1="152.4" y1="376.16" x2="153.35" y2="369.64" stroke="#000" stroke-opacity="0.05" stroke-width="0.7"/><line x1="90.28" y1="354.62" x2="90.24" y2="342.81" stroke="#000" stroke-opacity="0.07" stroke-width="0.67"/><line x1="98.92" y1="359.25" x2="97.85" y2="337.9" stroke="#000" stroke-opacity="0.06" stroke-width="1.56"/><line x1="98.26" y1="357.15" x2="97.92" y2="329.11" stroke="#000" stroke-opacity="0.04" stroke-width="1.54"/><line x1="187.23" y1="352.96" x2="185.91" y2="327.12" stroke="#000" stroke-opacity="0.03" stroke-width="1.77"/><line x1="150.26" y1="351.68" x2="151.7" y2="334.06" stroke="#000" stroke-opacity="0.05" stroke-width="1.6"/><line x1="134.64" y1="367.24" x2="134.27" y2="346.24" stroke="#000" stroke-opacity="0.07" stroke-width="1.42"/><line x1="134.74" y1="349.62" x2="133.25" y2="315.35" stroke="#000" stroke-opacity="0.02" stroke-width="0.92"/><line x1="107.32" y1="358.9" x2="105.95" y2="324.34" stroke="#000" stroke-opacity="0.07" stroke-width="1.6"/><line x1="166.86" y1="350.48" x2="167.91" y2="324.47" stroke="#000" stroke-opacity="0.03" stroke-width="1.57"/><line x1="147.42" y1="349.09" x2="147.58" y2="330.95" stroke="#000" stroke-opacity="0.02" stroke-width="1.56"/><line x1="73.36" y1="353.99" x2="73.68" y2="315.38" stroke="#000" stroke-opacity="0.03" stroke-width="1.41"/><line x1="113.87" y1="370.3" x2="114.75" y2="355.39" stroke="#000" stroke-opacity="0.06" stroke-width="1.15"/><line x1="56.11" y1="352.3" x2="56.35" y2="319.28" stroke="#000" stroke-opacity="0.03" stroke-width="1.68"/><line x1="178.08" y1="360.84" x2="177.14" y2="338.16" stroke="#000" stroke-opacity="0.05" stroke-width="0.83"/><line x1="70.34" y1="355.47" x2="70.04" y2="336.77" stroke="#000" stroke-opacity="0.05" stroke-width="1.22"/><line x1="65.49" y1="375.16" x2="64.31" y2="334.26" stroke="#000" stroke-opacity="0.04" stroke-width="1.36"/><line x1="163.12" y1="371.82" x2="163.18" y2="344.91" stroke="#000" stroke-opacity="0.04" stroke-width="0.62"/><line x1="47.84" y1="346.79" x2="48.04" y2="310.47" stroke="#000" stroke-opacity="0.03" stroke-width="0.91"/><line x1="161.88" y1="363.72" x2="162.83" y2="324.59" stroke="#000" stroke-opacity="0.06" stroke-width="1.76"/><line x1="81.55" y1="375.36" x2="80.3" y2="362.33" stroke="#000" stroke-opacity="0.03" stroke-width="0.66"/><line x1="127.95" y1="350.38" x2="129.18" y2="328.34" stroke="#000" stroke-opacity="0.07" stroke-width="0.68"/><line x1="134.17" y1="364.58" x2="133.45" y2="354.38" stroke="#000" stroke-opacity="0.07" stroke-width="1.28"/><line x1="140.68" y1="347.81" x2="140.53" y2="318.37" stroke="#000" stroke-opacity="0.03" stroke-width="0.79"/><line x1="190.41" y1="346.75" x2="189.68" y2="332.99" stroke="#000" stroke-opacity="0.02" stroke-width="1.02"/><line x1="180.78" y1="349.36" x2="181.64" y2="314.06" stroke="#000" stroke-opacity="0.02" stroke-width="1.45"/><line x1="141.61" y1="346.94" x2="142.38" y2="338.99" stroke="#000" stroke-opacity="0.02" stroke-width="1.73"/><line x1="146.23" y1="367.54" x2="145.05" y2="340.83" stroke="#000" stroke-opacity="0.06" stroke-width="0.99"/><line x1="82.01" y1="372.78" x2="81.23" y2="349.93" stroke="#000" stroke-opacity="0.03" stroke-width="0.77"/><line x1="146.35" y1="376.12" x2="144.95" y2="345.02" stroke="#000" stroke-opacity="0.03" stroke-width="1.71"/><line x1="76.43" y1="348.48" x2="75.35" y2="312.14" stroke="#000" stroke-opacity="0.04" stroke-width="1.14"/><line x1="57.53" y1="348.64" x2="57.39" y2="313.16" stroke="#000" stroke-opacity="0.04" stroke-width="1.01"/><line x1="168.59" y1="362.17" x2="167.75" y2="334.19" stroke="#000" stroke-opacity="0.02" stroke-width="0.67"/><line x1="151.86" y1="359.9" x2="151.16" y2="348.83" stroke="#000" stroke-opacity="0.07" stroke-width="1.09"/><line x1="66.51" y1="368.37" x2="65.52" y2="332.98" stroke="#000" stroke-opacity="0.04" stroke-width="1.19"/><line x1="91.35" y1="349.4" x2="90.02" y2="339.41" stroke="#000" stroke-opacity="0.05" stroke-width="1.67"/><line x1="144.91" y1="370.17" x2="144.19" y2="347.45" stroke="#000" stroke-opacity="0.03" stroke-width="0.84"/><line x1="98.42" y1="346.77" x2="97.21" y2="305.84" stroke="#000" stroke-opacity="0.05" stroke-width="0.95"/><line x1="179.77" y1="374.78" x2="181.21" y2="343.35" stroke="#000" stroke-opacity="0.03" stroke-width="0.62"/><line x1="166.13" y1="366.27" x2="167.13" y2="355.37" stroke="#000" stroke-opacity="0.02" stroke-width="1.23"/><line x1="71.12" y1="363.44" x2="71.34" y2="325.52" stroke="#000" stroke-opacity="0.03" stroke-width="0.77"/><line x1="70.25" y1="353.39" x2="68.99" y2="322.48" stroke="#000" stroke-opacity="0.03" stroke-width="0.7"/><line x1="135.78" y1="361.64" x2="136.12" y2="346.05" stroke="#000" stroke-opacity="0.03" stroke-width="1.45"/><line x1="166.83" y1="359.01" x2="167.53" y2="345.93" stroke="#000" stroke-opacity="0.02" stroke-width="1.09"/><line x1="153.08" y1="374.84" x2="154.1" y2="340.47" stroke="#000" stroke-opacity="0.04" stroke-width="1.64"/><line x1="118.11" y1="376.04" x2="119.22" y2="338.18" stroke="#000" stroke-opacity="0.04" stroke-width="0.92"/><line x1="71.16" y1="351.55" x2="70.77" y2="332.7" stroke="#000" stroke-opacity="0.02" stroke-width="1.31"/><line x1="43.41" y1="360.91" x2="42.27" y2="339.3" stroke="#000" stroke-opacity="0.05" stroke-width="1.46"/><line x1="167.59" y1="350.54" x2="167.23" y2="333.3" stroke="#000" stroke-opacity="0.06" stroke-width="1.5"/><line x1="52.06" y1="350.32" x2="52.1" y2="310.92" stroke="#000" stroke-opacity="0.04" stroke-width="1.24"/><line x1="124.88" y1="375.88" x2="123.93" y2="336.02" stroke="#000" stroke-opacity="0.03" stroke-width="0.72"/><line x1="81.01" y1="351.99" x2="81.6" y2="344.93" stroke="#000" stroke-opacity="0.02" stroke-width="0.83"/><line x1="45.41" y1="358.52" x2="46.01" y2="332.34" stroke="#000" stroke-opacity="0.05" stroke-width="0.72"/><line x1="175.69" y1="354.99" x2="175.67" y2="347.41" stroke="#000" stroke-opacity="0.02" stroke-width="1.2"/><line x1="85.47" y1="372.84" x2="85.74" y2="352.64" stroke="#000" stroke-opacity="0.02" stroke-width="1.63"/><line x1="65.22" y1="359.31" x2="66.2" y2="327.18" stroke="#000" stroke-opacity="0.02" stroke-width="1.73"/><line x1="102.16" y1="363.89" x2="101.85" y2="328.5" stroke="#000" stroke-opacity="0.05" stroke-width="1.73"/><line x1="161.53" y1="366.34" x2="161.33" y2="351.93" stroke="#000" stroke-opacity="0.04" stroke-width="1.78"/><line x1="165.73" y1="349.12" x2="164.39" y2="314.59" stroke="#000" stroke-opacity="0.04" stroke-width="1.22"/><line x1="189.2" y1="325.16" x2="189.47" y2="316.18" stroke="#000" stroke-opacity="0.02" stroke-width="0.96"/><line x1="123.89" y1="268.02" x2="122.93" y2="255.36" stroke="#000" stroke-opacity="0.02" stroke-width="0.74"/><line x1="191.02" y1="314.74" x2="191.63" y2="292" stroke="#000" stroke-opacity="0.02" stroke-width="1.48"/><line x1="178.01" y1="265.72" x2="178.36" y2="248.89" stroke="#000" stroke-opacity="0.02" stroke-width="0.87"/><line x1="125.64" y1="324.51" x2="125.68" y2="308.08" stroke="#000" stroke-opacity="0.02" stroke-width="1.03"/><line x1="188.13" y1="282.44" x2="187.38" y2="272.33" stroke="#000" stroke-opacity="0.02" stroke-width="1.19"/><line x1="188.93" y1="297.39" x2="189" y2="288.02" stroke="#000" stroke-opacity="0.02" stroke-width="0.75"/><line x1="61.65" y1="272.13" x2="61.23" y2="262.25" stroke="#000" stroke-opacity="0.02" stroke-width="0.84"/><line x1="56.14" y1="299.53" x2="56.28" y2="278.74" stroke="#000" stroke-opacity="0.02" stroke-width="1.25"/><line x1="73.47" y1="310.37" x2="73.7" y2="297.15" stroke="#000" stroke-opacity="0.02" stroke-width="1.07"/><line x1="90.19" y1="279.45" x2="89.96" y2="271.02" stroke="#000" stroke-opacity="0.02" stroke-width="1.19"/><line x1="44.52" y1="286.74" x2="44.63" y2="265.51" stroke="#000" stroke-opacity="0.01" stroke-width="1.09"/><line x1="86.26" y1="328.68" x2="85.58" y2="318.76" stroke="#000" stroke-opacity="0.03" stroke-width="0.67"/><line x1="175.96" y1="292.51" x2="175.84" y2="287.27" stroke="#000" stroke-opacity="0.02" stroke-width="1.34"/><line x1="59.41" y1="278.32" x2="58.72" y2="255.14" stroke="#000" stroke-opacity="0.02" stroke-width="0.94"/><line x1="96.61" y1="308.06" x2="97.25" y2="291.73" stroke="#000" stroke-opacity="0.03" stroke-width="1.12"/><line x1="155.69" y1="312.54" x2="156.26" y2="293.35" stroke="#000" stroke-opacity="0.02" stroke-width="1.31"/><line x1="182.6" y1="271.86" x2="183.14" y2="250.44" stroke="#000" stroke-opacity="0.01" stroke-width="1.19"/><line x1="118.85" y1="327.04" x2="119.42" y2="311.6" stroke="#000" stroke-opacity="0.02" stroke-width="1.47"/><line x1="135.59" y1="288.52" x2="136.04" y2="275.47" stroke="#000" stroke-opacity="0.02" stroke-width="0.89"/><line x1="102.46" y1="300.13" x2="103.03" y2="288.44" stroke="#000" stroke-opacity="0.02" stroke-width="1.45"/><line x1="119.11" y1="292.78" x2="118.4" y2="285.09" stroke="#000" stroke-opacity="0.02" stroke-width="1.18"/><line x1="131.65" y1="269.26" x2="132.34" y2="246.85" stroke="#000" stroke-opacity="0.02" stroke-width="1.44"/><line x1="189.34" y1="276.94" x2="188.36" y2="264.42" stroke="#000" stroke-opacity="0.03" stroke-width="0.65"/><line x1="129.11" y1="296.3" x2="129.18" y2="273.89" stroke="#000" stroke-opacity="0.03" stroke-width="1.6"/><line x1="121.84" y1="297.62" x2="121.56" y2="279.91" stroke="#000" stroke-opacity="0.02" stroke-width="1.19"/><line x1="96.4" y1="326.06" x2="95.6" y2="308.53" stroke="#000" stroke-opacity="0.02" stroke-width="0.97"/><line x1="104.02" y1="300.53" x2="104.95" y2="285.05" stroke="#000" stroke-opacity="0.03" stroke-width="1.09"/><line x1="110.02" y1="304.71" x2="110.08" y2="280.78" stroke="#000" stroke-opacity="0.02" stroke-width="1.42"/><line x1="68.81" y1="284.46" x2="68.84" y2="260.89" stroke="#000" stroke-opacity="0.03" stroke-width="0.71"/><line x1="179.52" y1="309.02" x2="180.29" y2="288.61" stroke="#000" stroke-opacity="0.03" stroke-width="1.02"/><line x1="66.62" y1="282.6" x2="66" y2="268.37" stroke="#000" stroke-opacity="0.02" stroke-width="0.78"/><line x1="139.07" y1="303.29" x2="139.35" y2="292.22" stroke="#000" stroke-opacity="0.03" stroke-width="0.64"/><line x1="105.63" y1="315.47" x2="104.63" y2="305.34" stroke="#000" stroke-opacity="0.02" stroke-width="0.9"/><line x1="171.51" y1="302.17" x2="171.5" y2="284.81" stroke="#000" stroke-opacity="0.01" stroke-width="1.15"/><line x1="83.39" y1="306.17" x2="83.54" y2="291.54" stroke="#000" stroke-opacity="0.03" stroke-width="1.01"/><line x1="61.28" y1="273.8" x2="60.48" y2="254.61" stroke="#000" stroke-opacity="0.01" stroke-width="0.77"/><line x1="122.62" y1="317.82" x2="121.74" y2="301.56" stroke="#000" stroke-opacity="0.03" stroke-width="0.61"/><line x1="160.56" y1="284.77" x2="159.9" y2="266.46" stroke="#000" stroke-opacity="0.02" stroke-width="0.87"/><line x1="57.91" y1="323.15" x2="57.81" y2="307.5" stroke="#000" stroke-opacity="0.02" stroke-width="0.99"/><line x1="51.06" y1="322.27" x2="50.94" y2="306.62" stroke="#000" stroke-opacity="0.03" stroke-width="1.22"/><line x1="80.83" y1="266.35" x2="80.46" y2="243.74" stroke="#000" stroke-opacity="0.03" stroke-width="1.5"/><line x1="167.49" y1="283.51" x2="167.48" y2="267.46" stroke="#000" stroke-opacity="0.03" stroke-width="1.55"/><line x1="79.86" y1="289.2" x2="79.47" y2="270.83" stroke="#000" stroke-opacity="0.01" stroke-width="1.48"/><line x1="116.79" y1="315.81" x2="116.5" y2="306.94" stroke="#000" stroke-opacity="0.01" stroke-width="0.79"/><line x1="191.3" y1="282.65" x2="191.37" y2="267.42" stroke="#000" stroke-opacity="0.01" stroke-width="0.99"/><line x1="104.37" y1="267.77" x2="104.07" y2="261.31" stroke="#000" stroke-opacity="0.03" stroke-width="0.84"/><line x1="71.94" y1="282.18" x2="72.27" y2="273.44" stroke="#000" stroke-opacity="0.01" stroke-width="0.94"/><line x1="66.54" y1="310.07" x2="67.21" y2="304.22" stroke="#000" stroke-opacity="0.02" stroke-width="0.73"/><line x1="110.5" y1="318.69" x2="110.21" y2="298.59" stroke="#000" stroke-opacity="0.01" stroke-width="1.32"/></g><ellipse cx="117" cy="368" rx="10" ry="9" fill="#000" fill-opacity="0.35" filter="url(#blurd2)"/><polygon points="42.7,375.5 60,375.2 80,374.8 95,374 105,372.5 112,371 120,370.5 128,371.5 135,374 150,375 175,375.3 195.65,375.5 195.65,379.5 42.7,379.5" fill="#0a0a0a" stroke="none" stroke-width="1.0" /><g filter="url(#blurd)"><line x1="30.67" y1="240" x2="115.65" y2="380" stroke="#000" stroke-width="4.6" stroke-opacity="0.25"/><line x1="34.19" y1="240" x2="121.27" y2="380" stroke="#000" stroke-width="4.6" stroke-opacity="0.25"/><line x1="204.14" y1="240" x2="113.28" y2="380" stroke="#000" stroke-width="4.6" stroke-opacity="0.25"/><line x1="207.32" y1="240" x2="118.42" y2="380" stroke="#000" stroke-width="4.6" stroke-opacity="0.25"/></g><g filter="url(#blurd3)"><line x1="30.67" y1="240" x2="115.65" y2="380" stroke="#050505" stroke-width="2.1" /><line x1="34.19" y1="240" x2="121.27" y2="380" stroke="#050505" stroke-width="2.1" /><line x1="204.14" y1="240" x2="113.28" y2="380" stroke="#050505" stroke-width="2.1" /><line x1="207.32" y1="240" x2="118.42" y2="380" stroke="#050505" stroke-width="2.1" /></g><line x1="32.43" y1="240" x2="117.23" y2="378" stroke="#fff" stroke-width="1.0" /><line x1="205.73" y1="240" x2="117.13" y2="378" stroke="#fff" stroke-width="1.0" /><line x1="80.2" y1="321.6" x2="114.25" y2="377.7" stroke="#7b3fa0" stroke-width="1.8" stroke-dasharray="4.8,2.4"/><line x1="79.16" y1="312.3" x2="120.15" y2="378.2" stroke="#f58a1f" stroke-width="1.8" stroke-dasharray="4.8,2.4"/><line x1="157.02" y1="312.6" x2="114.77" y2="377.7" stroke="#7b3fa0" stroke-width="1.8" stroke-dasharray="4.8,2.4"/><line x1="155.12" y1="322.2" x2="119.24" y2="378.7" stroke="#f58a1f" stroke-width="1.8" stroke-dasharray="4.8,2.4"/><line x1="170.6" y1="254.95" x2="170.6" y2="379.5" stroke="#111" stroke-width="1.4" stroke-dasharray="5,2.6"/></g>
<line x1="42.7" y1="252.82" x2="42.7" y2="380.12" stroke="#1a1a1a" stroke-width="1.25" />
<line x1="195.65" y1="252.82" x2="195.65" y2="380.12" stroke="#1a1a1a" stroke-width="1.25" />
<line x1="42.08" y1="253.45" x2="196.28" y2="253.45" stroke="#1a1a1a" stroke-width="1.25" />
<line x1="42.08" y1="379.5" x2="196.28" y2="379.5" stroke="#1a1a1a" stroke-width="1.25" />
<line x1="42.73" y1="379.5" x2="42.73" y2="384.5" stroke="#1a1a1a" stroke-width="1.0" />
<text x="42.73" y="396.7" font-size="9" text-anchor="middle" fill="#1a1a1a" textLength="12.97" lengthAdjust="spacingAndGlyphs">−4</text>
<line x1="80.96" y1="379.5" x2="80.96" y2="384.5" stroke="#1a1a1a" stroke-width="1.0" />
<text x="80.96" y="396.7" font-size="9" text-anchor="middle" fill="#1a1a1a" textLength="12.97" lengthAdjust="spacingAndGlyphs">−2</text>
<line x1="119.2" y1="379.5" x2="119.2" y2="384.5" stroke="#1a1a1a" stroke-width="1.0" />
<text x="119.2" y="396.7" font-size="9" text-anchor="middle" fill="#1a1a1a" textLength="5.6" lengthAdjust="spacingAndGlyphs">0</text>
<line x1="157.44" y1="379.5" x2="157.44" y2="384.5" stroke="#1a1a1a" stroke-width="1.0" />
<text x="157.44" y="396.7" font-size="9" text-anchor="middle" fill="#1a1a1a" textLength="5.6" lengthAdjust="spacingAndGlyphs">2</text>
<line x1="195.68" y1="379.5" x2="195.68" y2="384.5" stroke="#1a1a1a" stroke-width="1.0" />
<text x="195.68" y="396.7" font-size="9" text-anchor="middle" fill="#1a1a1a" textLength="5.6" lengthAdjust="spacingAndGlyphs">4</text>
<line x1="37.7" y1="379.5" x2="42.7" y2="379.5" stroke="#1a1a1a" stroke-width="1.0" />
<text x="33.1" y="382.8" font-size="9" text-anchor="end" fill="#1a1a1a" textLength="5.6" lengthAdjust="spacingAndGlyphs">0</text>
<line x1="37.7" y1="316.48" x2="42.7" y2="316.48" stroke="#1a1a1a" stroke-width="1.0" />
<text x="33.1" y="319.78" font-size="9" text-anchor="end" fill="#1a1a1a" textLength="5.6" lengthAdjust="spacingAndGlyphs">1</text>
<line x1="37.7" y1="253.45" x2="42.7" y2="253.45" stroke="#1a1a1a" stroke-width="1.0" />
<text x="33.1" y="256.75" font-size="9" text-anchor="end" fill="#1a1a1a" textLength="5.6" lengthAdjust="spacingAndGlyphs">2</text>
<text transform="translate(20.9,312.9) rotate(-90)" font-size="11" text-anchor="middle" fill="#1a1a1a" textLength="79" lengthAdjust="spacingAndGlyphs"><tspan font-style="italic">n</tspan><tspan font-size="7.6" dy="2">SdH</tspan><tspan dy="-2"> [10</tspan><tspan font-size="7.6" dy="-3.6">11</tspan><tspan dy="3.6"> cm</tspan><tspan font-size="7.6" dy="-3.6">−2</tspan><tspan dy="3.6">]</tspan></text>
<text x="119.2" y="412.5" font-size="11" text-anchor="middle" fill="#1a1a1a" textLength="71" lengthAdjust="spacingAndGlyphs"><tspan font-style="italic">n</tspan> [10<tspan font-size="7.6" dy="-3.6">11</tspan><tspan dy="3.6"> cm</tspan><tspan font-size="7.6" dy="-3.6">−2</tspan><tspan dy="3.6">]</tspan></text>
<defs><linearGradient id="cbgrey"><stop offset="0" stop-color="#fafafa"/><stop offset="0.3" stop-color="#cfcfcf"/><stop offset="0.6" stop-color="#777"/><stop offset="0.8" stop-color="#2a2a2a"/><stop offset="0.84" stop-color="#000"/><stop offset="1" stop-color="#000"/></linearGradient></defs>
<rect x="42.4" y="236.5" width="53.1" height="7.1" fill="url(#cbgrey)" stroke="#1a1a1a" stroke-width="1.0" />
<line x1="42.4" y1="231.9" x2="42.4" y2="236.5" stroke="#1a1a1a" stroke-width="1.0" />
<line x1="95.5" y1="231.9" x2="95.5" y2="236.5" stroke="#1a1a1a" stroke-width="1.0" />
<text x="42.4" y="224.9" font-size="9" text-anchor="middle" fill="#1a1a1a" textLength="5.6" lengthAdjust="spacingAndGlyphs">0</text>
<text x="95.5" y="224.9" font-size="9" text-anchor="middle" fill="#1a1a1a" textLength="5.6" lengthAdjust="spacingAndGlyphs">1</text>
<text x="105.1" y="244" font-size="10.8" fill="#1a1a1a" textLength="28" lengthAdjust="spacingAndGlyphs">|FFT|<tspan font-size="7.5" dy="-4.2">2</tspan></text>
<line x1="205.35" y1="290.4" x2="243.1" y2="290.4" stroke="#7b3fa0" stroke-width="2.3" />
<line x1="205.35" y1="299.2" x2="243.1" y2="299.2" stroke="#f58a1f" stroke-width="2.3" />
<path d="M205.6,253.45 C205.6,256.21 205.53,265.91 205.6,270 C205.67,274.09 205.68,276.17 206,278 C206.32,279.83 206.5,280 207.5,281 C208.5,282 209.92,283.08 212,284 C214.08,284.92 217.5,285.75 220,286.5 C222.5,287.25 225.2,287.88 227,288.5 C228.8,289.12 230.8,289.65 230.8,290.2 C230.8,290.75 229.13,291.33 227,291.8 C224.87,292.27 221,292.6 218,293 C215,293.4 210.93,293.9 209,294.2 C207.07,294.5 206.4,294.58 206.4,294.8 C206.4,295.02 207.07,295.17 209,295.5 C210.93,295.83 215,296.42 218,296.8 C221,297.18 224.92,297.47 227,297.8 C229.08,298.13 230.67,298.35 230.5,298.8 C230.33,299.25 228.42,299.88 226,300.5 C223.58,301.12 219,301.75 216,302.5 C213,303.25 209.67,304.08 208,305 C206.33,305.92 206.37,306.33 206,308 C205.63,309.67 205.83,306.33 205.8,315 C205.77,323.67 205.72,351.67 205.8,360 C205.88,368.33 206.33,363.83 206.3,365 C206.27,366.17 205.58,366.33 205.6,367 C205.62,367.67 206.37,368.17 206.4,369 C206.43,369.83 205.78,371.03 205.8,372 C205.82,372.97 205.8,374.1 206.5,374.8 C207.2,375.5 206.92,375.77 210,376.2 C213.08,376.63 219.48,377.07 225,377.4 C230.52,377.73 240.08,378.07 243.1,378.2" fill="none" stroke="#111" stroke-width="1.1"/>
<line x1="235.9" y1="290.4" x2="235.9" y2="299.2" stroke="#222" stroke-width="1.1" />
<line x1="232.6" y1="290.4" x2="239.2" y2="290.4" stroke="#222" stroke-width="1.1" />
<line x1="232.6" y1="299.2" x2="239.2" y2="299.2" stroke="#222" stroke-width="1.1" />
<text x="230.3" y="310.2" font-size="10.8" text-anchor="middle" fill="#1a1a1a">Δ<tspan font-style="italic">n</tspan></text>
<line x1="205.35" y1="252.82" x2="205.35" y2="380.12" stroke="#1a1a1a" stroke-width="1.25" />
<line x1="243.1" y1="252.82" x2="243.1" y2="380.12" stroke="#1a1a1a" stroke-width="1.25" />
<line x1="204.72" y1="253.45" x2="243.72" y2="253.45" stroke="#1a1a1a" stroke-width="1.25" />
<line x1="204.72" y1="379.5" x2="243.72" y2="379.5" stroke="#1a1a1a" stroke-width="1.25" />
<line x1="200.35" y1="379.5" x2="205.35" y2="379.5" stroke="#1a1a1a" stroke-width="1.0" />
<line x1="200.35" y1="316.48" x2="205.35" y2="316.48" stroke="#1a1a1a" stroke-width="1.0" />
<line x1="200.35" y1="253.45" x2="205.35" y2="253.45" stroke="#1a1a1a" stroke-width="1.0" />
<line x1="205.35" y1="379.5" x2="205.35" y2="384.5" stroke="#1a1a1a" stroke-width="1.0" />
<text x="205.35" y="396.7" font-size="9" text-anchor="middle" fill="#1a1a1a" textLength="5.6" lengthAdjust="spacingAndGlyphs">0</text>
<line x1="230.55" y1="379.5" x2="230.55" y2="384.5" stroke="#1a1a1a" stroke-width="1.0" />
<text x="230.55" y="396.7" font-size="9" text-anchor="middle" fill="#1a1a1a" textLength="5.6" lengthAdjust="spacingAndGlyphs">1</text>
<text x="224" y="413.6" font-size="11" text-anchor="middle" fill="#1a1a1a" textLength="28" lengthAdjust="spacingAndGlyphs">|FFT|<tspan font-size="7.6" dy="-4">2</tspan></text>
<text x="266.3" y="239.1" font-size="13" text-anchor="start" fill="#000" font-weight="bold" font-style="normal" >e</text>
<defs><clipPath id="clipe"><rect x="310.5" y="253.5" width="100.0" height="126.0"/></clipPath></defs>
<g clip-path="url(#clipe)"><path d="M345.2,247 C345.33,248.08 345.23,249.58 346,253.5 C346.77,257.42 348.38,264.6 349.8,270.5 C351.22,276.4 353.2,283.98 354.5,288.9 C355.8,293.82 356.78,297.62 357.6,300 C358.42,302.38 358.73,302.77 359.4,303.2 C360.07,303.63 360.37,303.57 361.6,302.6 C362.83,301.63 364.78,298.97 366.8,297.4 C368.82,295.83 371.4,293.43 373.7,293.2 C376,292.97 378.88,294.9 380.6,296 C382.32,297.1 383.13,298.87 384,299.8 C384.87,300.73 385.2,301.5 385.8,301.6 C386.4,301.7 387.05,301.23 387.6,300.4 C388.15,299.57 388.08,300.05 389.1,296.6 C390.12,293.15 392.3,285.08 393.7,279.7 C395.1,274.32 396.48,268.67 397.5,264.3 C398.52,259.93 399.28,256.38 399.8,253.5 C400.32,250.62 400.47,248.08 400.6,247" fill="none" stroke="#f58a1f" stroke-width="2.1" stroke-linejoin="round"/><path d="M342,385 C342.25,383.97 342.53,383.77 343.5,378.8 C344.47,373.83 346.1,363.4 347.8,355.2 C349.5,347 352.07,335.57 353.7,329.6 C355.33,323.63 356.58,321.6 357.6,319.4 C358.62,317.2 359.07,316.7 359.8,316.4 C360.53,316.1 361.03,316.6 362,317.6 C362.97,318.6 363.85,321 365.6,322.4 C367.35,323.8 370.22,325.95 372.5,326 C374.78,326.05 377.42,324.13 379.3,322.7 C381.18,321.27 382.58,318.8 383.8,317.4 C385.02,316 385.8,314.47 386.6,314.3 C387.4,314.13 387.52,313.85 388.6,316.4 C389.68,318.95 391.35,323.47 393.1,329.6 C394.85,335.73 397.18,345 399.1,353.2 C401.02,361.4 403.45,373.5 404.6,378.8 C405.75,384.1 405.77,383.97 406,385" fill="none" stroke="#f58a1f" stroke-width="2.1" stroke-linejoin="round"/><path d="M343.2,247 C343.33,248.08 343.4,250.1 344,253.5 C344.6,256.9 345.7,262.02 346.8,267.4 C347.9,272.78 349.32,279.9 350.6,285.8 C351.88,291.7 353.23,298.17 354.5,302.8 C355.77,307.43 357.22,311.47 358.2,313.6 C359.18,315.73 359.35,316.17 360.4,315.6 C361.45,315.03 363.15,311.7 364.5,310.2 C365.85,308.7 367.1,307.45 368.5,306.6 C369.9,305.75 371.45,305.13 372.9,305.1 C374.35,305.07 375.85,305.72 377.2,306.4 C378.55,307.08 379.77,308.22 381,309.2 C382.23,310.18 383.67,311.73 384.6,312.3 C385.53,312.87 385.73,313.93 386.6,312.6 C387.47,311.27 388.48,308.77 389.8,304.3 C391.12,299.83 393.08,291.7 394.5,285.8 C395.92,279.9 397.08,274.28 398.3,268.9 C399.52,263.52 401.08,257.15 401.8,253.5 C402.52,249.85 402.47,248.08 402.6,247" fill="none" stroke="#7b3fa0" stroke-width="2.1" stroke-linejoin="round"/><path d="M344.5,385 C344.73,383.97 344.85,383.77 345.9,378.8 C346.95,373.83 349.17,362.1 350.8,355.2 C352.43,348.3 354.37,341.43 355.7,337.4 C357.03,333.37 357.95,332.37 358.8,331 C359.65,329.63 360.1,329.33 360.8,329.2 C361.5,329.07 362.05,329.47 363,330.2 C363.95,330.93 364.92,332.27 366.5,333.6 C368.08,334.93 370.37,338.05 372.5,338.2 C374.63,338.35 377.47,335.87 379.3,334.5 C381.13,333.13 382.35,331.12 383.5,330 C384.65,328.88 385.35,327.72 386.2,327.8 C387.05,327.88 387.6,328.23 388.6,330.5 C389.6,332.77 390.78,336.63 392.2,341.4 C393.62,346.17 395.47,352.87 397.1,359.1 C398.73,365.33 400.95,374.48 402,378.8 C403.05,383.12 403.17,383.97 403.4,385" fill="none" stroke="#7b3fa0" stroke-width="2.1" stroke-linejoin="round"/></g>
<line x1="310.5" y1="252.88" x2="310.5" y2="380.12" stroke="#1a1a1a" stroke-width="1.25" />
<line x1="410.5" y1="252.88" x2="410.5" y2="380.12" stroke="#1a1a1a" stroke-width="1.25" />
<line x1="309.88" y1="253.5" x2="411.12" y2="253.5" stroke="#1a1a1a" stroke-width="1.25" />
<line x1="309.88" y1="379.5" x2="411.12" y2="379.5" stroke="#1a1a1a" stroke-width="1.25" />
<line x1="305.5" y1="253.5" x2="310.5" y2="253.5" stroke="#1a1a1a" stroke-width="1.0" />
<text x="300" y="256.8" font-size="9" text-anchor="end" fill="#1a1a1a" textLength="5.6" lengthAdjust="spacingAndGlyphs">4</text>
<line x1="305.5" y1="285" x2="310.5" y2="285" stroke="#1a1a1a" stroke-width="1.0" />
<text x="300" y="288.3" font-size="9" text-anchor="end" fill="#1a1a1a" textLength="5.6" lengthAdjust="spacingAndGlyphs">2</text>
<line x1="305.5" y1="316.5" x2="310.5" y2="316.5" stroke="#1a1a1a" stroke-width="1.0" />
<text x="300" y="319.8" font-size="9" text-anchor="end" fill="#1a1a1a" textLength="5.6" lengthAdjust="spacingAndGlyphs">0</text>
<line x1="305.5" y1="348" x2="310.5" y2="348" stroke="#1a1a1a" stroke-width="1.0" />
<text x="300" y="351.3" font-size="9" text-anchor="end" fill="#1a1a1a" textLength="12.97" lengthAdjust="spacingAndGlyphs">−2</text>
<line x1="305.5" y1="379.5" x2="310.5" y2="379.5" stroke="#1a1a1a" stroke-width="1.0" />
<text x="300" y="382.8" font-size="9" text-anchor="end" fill="#1a1a1a" textLength="12.97" lengthAdjust="spacingAndGlyphs">−4</text>
<line x1="310.5" y1="379.5" x2="310.5" y2="384.5" stroke="#1a1a1a" stroke-width="1.0" />
<text x="310.5" y="396.7" font-size="9" text-anchor="middle" fill="#1a1a1a" textLength="26.97" lengthAdjust="spacingAndGlyphs">−0.03</text>
<line x1="360.5" y1="379.5" x2="360.5" y2="384.5" stroke="#1a1a1a" stroke-width="1.0" />
<text x="360.5" y="396.7" font-size="9" text-anchor="middle" fill="#1a1a1a" textLength="19.59" lengthAdjust="spacingAndGlyphs">0.00</text>
<line x1="410.5" y1="379.5" x2="410.5" y2="384.5" stroke="#1a1a1a" stroke-width="1.0" />
<text x="410.5" y="396.7" font-size="9" text-anchor="middle" fill="#1a1a1a" textLength="19.59" lengthAdjust="spacingAndGlyphs">0.03</text>
<text transform="translate(280.8,317.1) rotate(-90)" font-size="11" text-anchor="middle" fill="#1a1a1a" textLength="40.5" lengthAdjust="spacingAndGlyphs"><tspan font-style="italic">E</tspan> [meV]</text>
<text x="359.9" y="411.8" font-size="11" text-anchor="middle" fill="#1a1a1a" textLength="17" lengthAdjust="spacingAndGlyphs"><tspan font-style="italic">k</tspan><tspan font-size="7.6" dy="2" font-style="italic">x</tspan><tspan dy="-2" font-style="italic">a</tspan></text>
<text x="360.2" y="243.3" font-size="10.3" text-anchor="middle" fill="#1a1a1a"><tspan font-style="italic">K</tspan><tspan font-size="9" dy="2">+</tspan><tspan dy="-2">-valley</tspan></text>
<line x1="358.8" y1="262.5" x2="366.5" y2="262.5" stroke="#7b3fa0" stroke-width="2.1" />
<line x1="358.8" y1="278.9" x2="366.5" y2="278.9" stroke="#f58a1f" stroke-width="2.1" />
<line x1="373.7" y1="258.6" x2="373.7" y2="266.8" stroke="#222" stroke-width="1.1" />
<path d="M371.2,261.2 L373.7,257.4 L376.2,261.2" fill="none" stroke="#222" stroke-width="1.1"/>
<line x1="373.7" y1="274.3" x2="373.7" y2="281.6" stroke="#222" stroke-width="1.1" />
<path d="M371.2,279.2 L373.7,283 L376.2,279.2" fill="none" stroke="#222" stroke-width="1.1"/>
<text x="336" y="305.2" font-size="10.6" text-anchor="middle" fill="#1a1a1a">Δ<tspan font-size="6.5" dy="1.7">I</tspan></text>
<line x1="331.9" y1="309.9" x2="341.7" y2="309.9" stroke="#222" stroke-width="0.9" />
<text x="336.7" y="319.2" font-size="10.3" text-anchor="middle" fill="#1a1a1a" font-weight="normal" font-style="normal" >2</text>
<line x1="350.6" y1="303.9" x2="350.6" y2="316.3" stroke="#222" stroke-width="1.1" />
<line x1="347" y1="303.9" x2="353.8" y2="303.9" stroke="#222" stroke-width="1.1" />
<line x1="347" y1="316.3" x2="353.8" y2="316.3" stroke="#222" stroke-width="1.1" />
<text x="427.4" y="238.8" font-size="13" text-anchor="start" fill="#000" font-weight="bold" font-style="normal" >f</text>
<path d="M477,282.7 C480.83,283.33 492,285.2 500,286.5 C508,287.8 517.22,289.17 525,290.5 C532.78,291.83 542.03,293.82 546.7,294.5 C551.37,295.18 550.9,294.85 553,294.6 C555.1,294.35 558.25,293.27 559.3,293 L559.3,307.6 C558.25,307.92 555.1,309.18 553,309.5 C550.9,309.82 551.37,310.17 546.7,309.5 C542.03,308.83 532.78,306.67 525,305.5 C517.22,304.33 508,303.5 500,302.5 C492,301.5 480.83,300 477,299.5 Z" fill="#f4a07e"/>
<path d="M591,305 C591.67,305.67 593.5,308.08 595,309 C596.5,309.92 598.38,310.17 600,310.5 C601.62,310.83 601.37,311.33 604.7,311 C608.03,310.67 614.12,309.67 620,308.5 C625.88,307.33 633.33,305.58 640,304 C646.67,302.42 653.67,300.73 660,299 C666.33,297.27 675,294.5 678,293.6 L678,311.5 C675,312 666.33,313.5 660,314.5 C653.67,315.5 646.67,316.58 640,317.5 C633.33,318.42 625.88,319.4 620,320 C614.12,320.6 608.03,321.02 604.7,321.1 C601.37,321.18 601.62,320.77 600,320.5 C598.38,320.23 596.5,320 595,319.5 C593.5,319 591.67,317.83 591,317.5 Z" fill="#f4a07e"/>
<defs><clipPath id="clipf"><rect x="477.5" y="253.5" width="200.39999999999998" height="126.0"/></clipPath></defs>
<g clip-path="url(#clipf)"><circle cx="514.32" cy="279.47" r="1.75" fill="#1a1a1a" fill-opacity="0.62"/><circle cx="515.42" cy="289.19" r="1.75" fill="#1a1a1a" fill-opacity="0.62"/><circle cx="518.9" cy="291.75" r="1.75" fill="#1a1a1a" fill-opacity="0.62"/><circle cx="519.23" cy="293.37" r="1.75" fill="#1a1a1a" fill-opacity="0.62"/><circle cx="528.97" cy="298.1" r="1.75" fill="#1a1a1a" fill-opacity="0.62"/><circle cx="502.03" cy="290.71" r="1.75" fill="#1a1a1a" fill-opacity="0.62"/><circle cx="484.48" cy="296.17" r="1.75" fill="#1a1a1a" fill-opacity="0.62"/><circle cx="480.46" cy="280.76" r="1.75" fill="#1a1a1a" fill-opacity="0.62"/><circle cx="558.03" cy="313.76" r="1.75" fill="#1a1a1a" fill-opacity="0.62"/><circle cx="527.78" cy="293.8" r="1.75" fill="#1a1a1a" fill-opacity="0.62"/><circle cx="489.99" cy="301.72" r="1.75" fill="#1a1a1a" fill-opacity="0.62"/><circle cx="481.91" cy="292.52" r="1.75" fill="#1a1a1a" fill-opacity="0.62"/><circle cx="492.69" cy="292.97" r="1.75" fill="#1a1a1a" fill-opacity="0.62"/><circle cx="515.27" cy="297.28" r="1.75" fill="#1a1a1a" fill-opacity="0.62"/><circle cx="513.34" cy="300.19" r="1.75" fill="#1a1a1a" fill-opacity="0.62"/><circle cx="529.82" cy="287.46" r="1.75" fill="#1a1a1a" fill-opacity="0.62"/><circle cx="518.23" cy="291.42" r="1.75" fill="#1a1a1a" fill-opacity="0.62"/><circle cx="499.95" cy="286.62" r="1.75" fill="#1a1a1a" fill-opacity="0.62"/><circle cx="559.31" cy="318.59" r="1.75" fill="#1a1a1a" fill-opacity="0.62"/><circle cx="535.39" cy="297.21" r="1.75" fill="#1a1a1a" fill-opacity="0.62"/><circle cx="503.01" cy="294.83" r="1.75" fill="#1a1a1a" fill-opacity="0.62"/><circle cx="482.79" cy="297.9" r="1.75" fill="#1a1a1a" fill-opacity="0.62"/><circle cx="540.22" cy="283.34" r="1.75" fill="#1a1a1a" fill-opacity="0.62"/><circle cx="508.89" cy="303.21" r="1.75" fill="#1a1a1a" fill-opacity="0.62"/><circle cx="556.04" cy="300.21" r="1.75" fill="#1a1a1a" fill-opacity="0.62"/><circle cx="494.3" cy="292.85" r="1.75" fill="#1a1a1a" fill-opacity="0.62"/><circle cx="552.1" cy="273.42" r="1.75" fill="#1a1a1a" fill-opacity="0.62"/><circle cx="509.79" cy="298.75" r="1.75" fill="#1a1a1a" fill-opacity="0.62"/><circle cx="483.03" cy="282.83" r="1.75" fill="#1a1a1a" fill-opacity="0.62"/><circle cx="499.26" cy="284.15" r="1.75" fill="#1a1a1a" fill-opacity="0.62"/><circle cx="484.19" cy="282.32" r="1.75" fill="#1a1a1a" fill-opacity="0.62"/><circle cx="539.54" cy="319.44" r="1.75" fill="#1a1a1a" fill-opacity="0.62"/><circle cx="486.73" cy="292.28" r="1.75" fill="#1a1a1a" fill-opacity="0.62"/><circle cx="481.94" cy="295.12" r="1.75" fill="#1a1a1a" fill-opacity="0.62"/><circle cx="542.75" cy="303.87" r="1.75" fill="#1a1a1a" fill-opacity="0.62"/><circle cx="513.91" cy="303.9" r="1.75" fill="#1a1a1a" fill-opacity="0.62"/><circle cx="492.73" cy="292.43" r="1.75" fill="#1a1a1a" fill-opacity="0.62"/><circle cx="530.11" cy="292.1" r="1.75" fill="#1a1a1a" fill-opacity="0.62"/><circle cx="486.61" cy="287.63" r="1.75" fill="#1a1a1a" fill-opacity="0.62"/><circle cx="499.26" cy="296.09" r="1.75" fill="#1a1a1a" fill-opacity="0.62"/><circle cx="557.1" cy="302.82" r="1.75" fill="#1a1a1a" fill-opacity="0.62"/><circle cx="550" cy="291.71" r="1.75" fill="#1a1a1a" fill-opacity="0.62"/><circle cx="494.38" cy="281.47" r="1.75" fill="#1a1a1a" fill-opacity="0.62"/><circle cx="529.95" cy="308.58" r="1.75" fill="#1a1a1a" fill-opacity="0.62"/><circle cx="485.28" cy="297.22" r="1.75" fill="#1a1a1a" fill-opacity="0.62"/><circle cx="498.31" cy="293.16" r="1.75" fill="#1a1a1a" fill-opacity="0.62"/><circle cx="540.75" cy="294.51" r="1.75" fill="#1a1a1a" fill-opacity="0.62"/><circle cx="483.06" cy="297.31" r="1.75" fill="#1a1a1a" fill-opacity="0.62"/><circle cx="484.43" cy="287.08" r="1.75" fill="#1a1a1a" fill-opacity="0.62"/><circle cx="526.61" cy="293.93" r="1.75" fill="#1a1a1a" fill-opacity="0.62"/><circle cx="507.67" cy="276.41" r="1.75" fill="#1a1a1a" fill-opacity="0.62"/><circle cx="516.91" cy="301.11" r="1.75" fill="#1a1a1a" fill-opacity="0.62"/><circle cx="524.4" cy="299.64" r="1.75" fill="#1a1a1a" fill-opacity="0.62"/><circle cx="489.72" cy="288.99" r="1.75" fill="#1a1a1a" fill-opacity="0.62"/><circle cx="551.94" cy="302.54" r="1.75" fill="#1a1a1a" fill-opacity="0.62"/><circle cx="492.66" cy="287.69" r="1.75" fill="#1a1a1a" fill-opacity="0.62"/><circle cx="538" cy="303.84" r="1.75" fill="#1a1a1a" fill-opacity="0.62"/><circle cx="555.39" cy="297.66" r="1.75" fill="#1a1a1a" fill-opacity="0.62"/><circle cx="549.78" cy="291.42" r="1.75" fill="#1a1a1a" fill-opacity="0.62"/><circle cx="485.57" cy="287.32" r="1.75" fill="#1a1a1a" fill-opacity="0.62"/><circle cx="480.19" cy="296.84" r="1.75" fill="#1a1a1a" fill-opacity="0.62"/><circle cx="535.13" cy="296.04" r="1.75" fill="#1a1a1a" fill-opacity="0.62"/><circle cx="498.2" cy="298.01" r="1.75" fill="#1a1a1a" fill-opacity="0.62"/><circle cx="501.21" cy="284.8" r="1.75" fill="#1a1a1a" fill-opacity="0.62"/><circle cx="491.47" cy="292.21" r="1.75" fill="#1a1a1a" fill-opacity="0.62"/><circle cx="495.84" cy="290.45" r="1.75" fill="#1a1a1a" fill-opacity="0.62"/><circle cx="523.15" cy="302.53" r="1.75" fill="#1a1a1a" fill-opacity="0.62"/><circle cx="500.12" cy="285.43" r="1.75" fill="#1a1a1a" fill-opacity="0.62"/><circle cx="552.68" cy="300.15" r="1.75" fill="#1a1a1a" fill-opacity="0.62"/><circle cx="499.21" cy="294.92" r="1.75" fill="#1a1a1a" fill-opacity="0.62"/><circle cx="513.77" cy="299.59" r="1.75" fill="#1a1a1a" fill-opacity="0.62"/><circle cx="507.42" cy="296.27" r="1.75" fill="#1a1a1a" fill-opacity="0.62"/><circle cx="524.2" cy="301.25" r="1.75" fill="#1a1a1a" fill-opacity="0.62"/><circle cx="550.5" cy="306.03" r="1.75" fill="#1a1a1a" fill-opacity="0.62"/><circle cx="557.89" cy="292.2" r="1.75" fill="#1a1a1a" fill-opacity="0.62"/><circle cx="525.22" cy="286.96" r="1.75" fill="#1a1a1a" fill-opacity="0.62"/><circle cx="488.58" cy="293.8" r="1.75" fill="#1a1a1a" fill-opacity="0.62"/><circle cx="552.09" cy="299.98" r="1.75" fill="#1a1a1a" fill-opacity="0.62"/><circle cx="534.83" cy="299.55" r="1.75" fill="#1a1a1a" fill-opacity="0.62"/><circle cx="529.49" cy="296.57" r="1.75" fill="#1a1a1a" fill-opacity="0.62"/><circle cx="516.78" cy="294.79" r="1.75" fill="#1a1a1a" fill-opacity="0.62"/><circle cx="559.45" cy="292.15" r="1.75" fill="#1a1a1a" fill-opacity="0.62"/><circle cx="483.21" cy="280.05" r="1.75" fill="#1a1a1a" fill-opacity="0.62"/><circle cx="551.27" cy="295.06" r="1.75" fill="#1a1a1a" fill-opacity="0.62"/><circle cx="537.81" cy="293.13" r="1.75" fill="#1a1a1a" fill-opacity="0.62"/><circle cx="552.49" cy="283.47" r="1.75" fill="#1a1a1a" fill-opacity="0.62"/><circle cx="506.03" cy="287.99" r="1.75" fill="#1a1a1a" fill-opacity="0.62"/><circle cx="548.87" cy="280.47" r="1.75" fill="#1a1a1a" fill-opacity="0.62"/><circle cx="511.42" cy="298.76" r="1.75" fill="#1a1a1a" fill-opacity="0.62"/><circle cx="524.26" cy="281.96" r="1.75" fill="#1a1a1a" fill-opacity="0.62"/><circle cx="645.37" cy="304.17" r="1.75" fill="#1a1a1a" fill-opacity="0.62"/><circle cx="643.97" cy="312.83" r="1.75" fill="#1a1a1a" fill-opacity="0.62"/><circle cx="597.98" cy="301.27" r="1.75" fill="#1a1a1a" fill-opacity="0.62"/><circle cx="667.54" cy="293.57" r="1.75" fill="#1a1a1a" fill-opacity="0.62"/><circle cx="654.35" cy="301.32" r="1.75" fill="#1a1a1a" fill-opacity="0.62"/><circle cx="641.54" cy="314" r="1.75" fill="#1a1a1a" fill-opacity="0.62"/><circle cx="629.33" cy="312.49" r="1.75" fill="#1a1a1a" fill-opacity="0.62"/><circle cx="656.27" cy="304.97" r="1.75" fill="#1a1a1a" fill-opacity="0.62"/><circle cx="593.59" cy="308.07" r="1.75" fill="#1a1a1a" fill-opacity="0.62"/><circle cx="611.03" cy="311.78" r="1.75" fill="#1a1a1a" fill-opacity="0.62"/><circle cx="651.76" cy="301.19" r="1.75" fill="#1a1a1a" fill-opacity="0.62"/><circle cx="671.08" cy="303.97" r="1.75" fill="#1a1a1a" fill-opacity="0.62"/><circle cx="613.26" cy="318.23" r="1.75" fill="#1a1a1a" fill-opacity="0.62"/><circle cx="650" cy="307.99" r="1.75" fill="#1a1a1a" fill-opacity="0.62"/><circle cx="608.62" cy="320.02" r="1.75" fill="#1a1a1a" fill-opacity="0.62"/><circle cx="648.42" cy="316.57" r="1.75" fill="#1a1a1a" fill-opacity="0.62"/><circle cx="629.45" cy="314.59" r="1.75" fill="#1a1a1a" fill-opacity="0.62"/><circle cx="648.93" cy="305.39" r="1.75" fill="#1a1a1a" fill-opacity="0.62"/><circle cx="608.27" cy="307.95" r="1.75" fill="#1a1a1a" fill-opacity="0.62"/><circle cx="670.54" cy="307.39" r="1.75" fill="#1a1a1a" fill-opacity="0.62"/><circle cx="667.58" cy="300.05" r="1.75" fill="#1a1a1a" fill-opacity="0.62"/><circle cx="618.53" cy="317.42" r="1.75" fill="#1a1a1a" fill-opacity="0.62"/><circle cx="602.85" cy="307.39" r="1.75" fill="#1a1a1a" fill-opacity="0.62"/><circle cx="664.84" cy="305.2" r="1.75" fill="#1a1a1a" fill-opacity="0.62"/><circle cx="652.88" cy="310.64" r="1.75" fill="#1a1a1a" fill-opacity="0.62"/><circle cx="605.71" cy="314.7" r="1.75" fill="#1a1a1a" fill-opacity="0.62"/><circle cx="630.21" cy="310.85" r="1.75" fill="#1a1a1a" fill-opacity="0.62"/><circle cx="627.02" cy="315" r="1.75" fill="#1a1a1a" fill-opacity="0.62"/><circle cx="645.44" cy="304.64" r="1.75" fill="#1a1a1a" fill-opacity="0.62"/><circle cx="664" cy="305.31" r="1.75" fill="#1a1a1a" fill-opacity="0.62"/><circle cx="676.44" cy="301.19" r="1.75" fill="#1a1a1a" fill-opacity="0.62"/><circle cx="593.74" cy="315.37" r="1.75" fill="#1a1a1a" fill-opacity="0.62"/><circle cx="666.94" cy="311.45" r="1.75" fill="#1a1a1a" fill-opacity="0.62"/><circle cx="640.64" cy="311.25" r="1.75" fill="#1a1a1a" fill-opacity="0.62"/><circle cx="617.89" cy="313.82" r="1.75" fill="#1a1a1a" fill-opacity="0.62"/><circle cx="602.82" cy="315.1" r="1.75" fill="#1a1a1a" fill-opacity="0.62"/><circle cx="630.57" cy="319.64" r="1.75" fill="#1a1a1a" fill-opacity="0.62"/><circle cx="611.65" cy="316.04" r="1.75" fill="#1a1a1a" fill-opacity="0.62"/><circle cx="603.26" cy="322.04" r="1.75" fill="#1a1a1a" fill-opacity="0.62"/><circle cx="629.84" cy="313.25" r="1.75" fill="#1a1a1a" fill-opacity="0.62"/><circle cx="645.81" cy="303.9" r="1.75" fill="#1a1a1a" fill-opacity="0.62"/><circle cx="674.39" cy="296.5" r="1.75" fill="#1a1a1a" fill-opacity="0.62"/><circle cx="650.55" cy="309.22" r="1.75" fill="#1a1a1a" fill-opacity="0.62"/><circle cx="606.55" cy="320.52" r="1.75" fill="#1a1a1a" fill-opacity="0.62"/><circle cx="591.94" cy="303.14" r="1.75" fill="#1a1a1a" fill-opacity="0.62"/><circle cx="606.58" cy="316.89" r="1.75" fill="#1a1a1a" fill-opacity="0.62"/><circle cx="614.69" cy="310.24" r="1.75" fill="#1a1a1a" fill-opacity="0.62"/><circle cx="636.28" cy="315.96" r="1.75" fill="#1a1a1a" fill-opacity="0.62"/><circle cx="644.46" cy="308.91" r="1.75" fill="#1a1a1a" fill-opacity="0.62"/><circle cx="659.9" cy="301.41" r="1.75" fill="#1a1a1a" fill-opacity="0.62"/><circle cx="669.84" cy="313.01" r="1.75" fill="#1a1a1a" fill-opacity="0.62"/><circle cx="653.85" cy="312.46" r="1.75" fill="#1a1a1a" fill-opacity="0.62"/><circle cx="602.3" cy="309.89" r="1.75" fill="#1a1a1a" fill-opacity="0.62"/><circle cx="670.17" cy="305.85" r="1.75" fill="#1a1a1a" fill-opacity="0.62"/><circle cx="623.78" cy="304.11" r="1.75" fill="#1a1a1a" fill-opacity="0.62"/><circle cx="660.32" cy="301.95" r="1.75" fill="#1a1a1a" fill-opacity="0.62"/><circle cx="673.15" cy="297.12" r="1.75" fill="#1a1a1a" fill-opacity="0.62"/><circle cx="608.83" cy="316.72" r="1.75" fill="#1a1a1a" fill-opacity="0.62"/><circle cx="653.81" cy="309.71" r="1.75" fill="#1a1a1a" fill-opacity="0.62"/><circle cx="653.44" cy="301.23" r="1.75" fill="#1a1a1a" fill-opacity="0.62"/><circle cx="609.56" cy="325.33" r="1.75" fill="#1a1a1a" fill-opacity="0.62"/><circle cx="676.03" cy="295.54" r="1.75" fill="#1a1a1a" fill-opacity="0.62"/><circle cx="637.72" cy="310.97" r="1.75" fill="#1a1a1a" fill-opacity="0.62"/><circle cx="670.17" cy="300.21" r="1.75" fill="#1a1a1a" fill-opacity="0.62"/><circle cx="665.45" cy="303.81" r="1.75" fill="#1a1a1a" fill-opacity="0.62"/><circle cx="629.36" cy="313.02" r="1.75" fill="#1a1a1a" fill-opacity="0.62"/><circle cx="638.88" cy="310.35" r="1.75" fill="#1a1a1a" fill-opacity="0.62"/><circle cx="593.47" cy="306.45" r="1.75" fill="#1a1a1a" fill-opacity="0.62"/><circle cx="661.4" cy="313.06" r="1.75" fill="#1a1a1a" fill-opacity="0.62"/><circle cx="606.04" cy="318.92" r="1.75" fill="#1a1a1a" fill-opacity="0.62"/><circle cx="620.15" cy="313.76" r="1.75" fill="#1a1a1a" fill-opacity="0.62"/><circle cx="603.93" cy="313.59" r="1.75" fill="#1a1a1a" fill-opacity="0.62"/><circle cx="635.94" cy="308.87" r="1.75" fill="#1a1a1a" fill-opacity="0.62"/><circle cx="650.98" cy="299.04" r="1.75" fill="#1a1a1a" fill-opacity="0.62"/><circle cx="673.28" cy="292.49" r="1.75" fill="#1a1a1a" fill-opacity="0.62"/><circle cx="598.48" cy="316.33" r="1.75" fill="#1a1a1a" fill-opacity="0.62"/><circle cx="610.26" cy="311.31" r="1.75" fill="#1a1a1a" fill-opacity="0.62"/><circle cx="654.41" cy="306.29" r="1.75" fill="#1a1a1a" fill-opacity="0.62"/><circle cx="646.58" cy="299.76" r="1.75" fill="#1a1a1a" fill-opacity="0.62"/><circle cx="639.72" cy="308.36" r="1.75" fill="#1a1a1a" fill-opacity="0.62"/><circle cx="618.12" cy="307.16" r="1.75" fill="#1a1a1a" fill-opacity="0.62"/><circle cx="669.35" cy="310.08" r="1.75" fill="#1a1a1a" fill-opacity="0.62"/><circle cx="609.12" cy="322.19" r="1.75" fill="#1a1a1a" fill-opacity="0.62"/><circle cx="636.61" cy="300.63" r="1.75" fill="#1a1a1a" fill-opacity="0.62"/><circle cx="640.85" cy="311.08" r="1.75" fill="#1a1a1a" fill-opacity="0.62"/><circle cx="634.78" cy="315.82" r="1.75" fill="#1a1a1a" fill-opacity="0.62"/><circle cx="643.65" cy="320.58" r="1.75" fill="#1a1a1a" fill-opacity="0.62"/><circle cx="635.89" cy="312.36" r="1.75" fill="#1a1a1a" fill-opacity="0.62"/><circle cx="625.85" cy="313.96" r="1.75" fill="#1a1a1a" fill-opacity="0.62"/><circle cx="633.72" cy="305.2" r="1.75" fill="#1a1a1a" fill-opacity="0.62"/><circle cx="651.12" cy="312.64" r="1.75" fill="#1a1a1a" fill-opacity="0.62"/><circle cx="627" cy="314.18" r="1.75" fill="#1a1a1a" fill-opacity="0.62"/><circle cx="674.25" cy="306.45" r="1.75" fill="#1a1a1a" fill-opacity="0.62"/><circle cx="632.17" cy="309.33" r="1.75" fill="#1a1a1a" fill-opacity="0.62"/><circle cx="602.05" cy="308.35" r="1.75" fill="#1a1a1a" fill-opacity="0.62"/><circle cx="669.35" cy="307.53" r="1.75" fill="#1a1a1a" fill-opacity="0.62"/><circle cx="632.46" cy="309.72" r="1.75" fill="#1a1a1a" fill-opacity="0.62"/><circle cx="644.76" cy="311.35" r="1.75" fill="#1a1a1a" fill-opacity="0.62"/><circle cx="671.5" cy="309.16" r="1.75" fill="#1a1a1a" fill-opacity="0.62"/><circle cx="592.98" cy="323.19" r="1.75" fill="#1a1a1a" fill-opacity="0.62"/><circle cx="607.89" cy="316.39" r="1.75" fill="#1a1a1a" fill-opacity="0.62"/><circle cx="619.02" cy="320.17" r="1.75" fill="#1a1a1a" fill-opacity="0.62"/><circle cx="621.92" cy="311.31" r="1.75" fill="#1a1a1a" fill-opacity="0.62"/><circle cx="654.59" cy="305.43" r="1.75" fill="#1a1a1a" fill-opacity="0.62"/><circle cx="601.68" cy="310.59" r="1.75" fill="#1a1a1a" fill-opacity="0.62"/><circle cx="608.2" cy="315.14" r="1.75" fill="#1a1a1a" fill-opacity="0.62"/><circle cx="637.14" cy="306.04" r="1.75" fill="#1a1a1a" fill-opacity="0.62"/><circle cx="626.97" cy="313.62" r="1.75" fill="#1a1a1a" fill-opacity="0.62"/><circle cx="637.05" cy="311.72" r="1.75" fill="#1a1a1a" fill-opacity="0.62"/><circle cx="645.92" cy="311.03" r="1.75" fill="#1a1a1a" fill-opacity="0.62"/><circle cx="646.55" cy="299.72" r="1.75" fill="#1a1a1a" fill-opacity="0.62"/><circle cx="644.22" cy="307.15" r="1.75" fill="#1a1a1a" fill-opacity="0.62"/><circle cx="665.54" cy="305.68" r="1.75" fill="#1a1a1a" fill-opacity="0.62"/><circle cx="661.51" cy="312.96" r="1.75" fill="#1a1a1a" fill-opacity="0.62"/><circle cx="669.53" cy="302.57" r="1.75" fill="#1a1a1a" fill-opacity="0.62"/><circle cx="671.28" cy="307.41" r="1.75" fill="#1a1a1a" fill-opacity="0.62"/><circle cx="609.98" cy="324.44" r="1.75" fill="#1a1a1a" fill-opacity="0.62"/><circle cx="602.65" cy="315.85" r="1.75" fill="#1a1a1a" fill-opacity="0.62"/><circle cx="611.82" cy="314.19" r="1.75" fill="#1a1a1a" fill-opacity="0.62"/><circle cx="599.44" cy="310.3" r="1.75" fill="#1a1a1a" fill-opacity="0.62"/><circle cx="663.4" cy="298.26" r="1.75" fill="#1a1a1a" fill-opacity="0.62"/><circle cx="601.96" cy="321.76" r="1.75" fill="#1a1a1a" fill-opacity="0.62"/><circle cx="626.04" cy="311.76" r="1.75" fill="#1a1a1a" fill-opacity="0.62"/><circle cx="608.48" cy="314.53" r="1.75" fill="#1a1a1a" fill-opacity="0.62"/><circle cx="650.37" cy="317.69" r="1.75" fill="#1a1a1a" fill-opacity="0.62"/><circle cx="591.58" cy="327.08" r="1.75" fill="#1a1a1a" fill-opacity="0.62"/><circle cx="594.79" cy="327.04" r="1.75" fill="#1a1a1a" fill-opacity="0.62"/><circle cx="594.43" cy="322.65" r="1.75" fill="#1a1a1a" fill-opacity="0.62"/><circle cx="591.35" cy="321.49" r="1.75" fill="#1a1a1a" fill-opacity="0.62"/><circle cx="591.19" cy="327.72" r="1.75" fill="#1a1a1a" fill-opacity="0.62"/><path d="M477,291.1 C479.17,291.5 485.33,292.68 490,293.5 C494.67,294.32 500.33,295.27 505,296 C509.67,296.73 513.5,297.25 518,297.9 C522.5,298.55 527.22,299.22 532,299.9 C536.78,300.58 543.2,301.7 546.7,302 C550.2,302.3 550.9,301.97 553,301.7 C555.1,301.43 558.25,300.62 559.3,300.4" fill="none" stroke="#e8402a" stroke-width="1.6"/><path d="M591,311 C591.67,311.5 593.5,313.25 595,314 C596.5,314.75 598.38,315.17 600,315.5 C601.62,315.83 601.37,316.2 604.7,316 C608.03,315.8 614.12,315.13 620,314.3 C625.88,313.47 633.33,312.3 640,311 C646.67,309.7 653.67,307.9 660,306.5 C666.33,305.1 675,303.25 678,302.6" fill="none" stroke="#e8402a" stroke-width="1.6"/></g>
<line x1="477.5" y1="252.88" x2="477.5" y2="380.12" stroke="#1a1a1a" stroke-width="1.25" />
<line x1="677.9" y1="252.88" x2="677.9" y2="380.12" stroke="#1a1a1a" stroke-width="1.25" />
<line x1="476.88" y1="253.5" x2="678.52" y2="253.5" stroke="#1a1a1a" stroke-width="1.25" />
<line x1="476.88" y1="379.5" x2="678.52" y2="379.5" stroke="#1a1a1a" stroke-width="1.25" />
<line x1="477.3" y1="379.5" x2="477.3" y2="384.5" stroke="#1a1a1a" stroke-width="1.0" />
<text x="477.3" y="396.7" font-size="9" text-anchor="middle" fill="#1a1a1a" textLength="12.97" lengthAdjust="spacingAndGlyphs">−4</text>
<line x1="527.4" y1="379.5" x2="527.4" y2="384.5" stroke="#1a1a1a" stroke-width="1.0" />
<text x="527.4" y="396.7" font-size="9" text-anchor="middle" fill="#1a1a1a" textLength="12.97" lengthAdjust="spacingAndGlyphs">−2</text>
<line x1="577.5" y1="379.5" x2="577.5" y2="384.5" stroke="#1a1a1a" stroke-width="1.0" />
<text x="577.5" y="396.7" font-size="9" text-anchor="middle" fill="#1a1a1a" textLength="5.6" lengthAdjust="spacingAndGlyphs">0</text>
<line x1="627.6" y1="379.5" x2="627.6" y2="384.5" stroke="#1a1a1a" stroke-width="1.0" />
<text x="627.6" y="396.7" font-size="9" text-anchor="middle" fill="#1a1a1a" textLength="5.6" lengthAdjust="spacingAndGlyphs">2</text>
<line x1="677.7" y1="379.5" x2="677.7" y2="384.5" stroke="#1a1a1a" stroke-width="1.0" />
<text x="677.7" y="396.7" font-size="9" text-anchor="middle" fill="#1a1a1a" textLength="5.6" lengthAdjust="spacingAndGlyphs">4</text>
<line x1="472.5" y1="379.5" x2="477.5" y2="379.5" stroke="#1a1a1a" stroke-width="1.0" />
<text x="467.2" y="382.8" font-size="9" text-anchor="end" fill="#1a1a1a" textLength="19.59" lengthAdjust="spacingAndGlyphs">0.50</text>
<line x1="472.5" y1="358.5" x2="477.5" y2="358.5" stroke="#1a1a1a" stroke-width="1.0" />
<text x="467.2" y="361.8" font-size="9" text-anchor="end" fill="#1a1a1a" textLength="19.59" lengthAdjust="spacingAndGlyphs">0.75</text>
<line x1="472.5" y1="337.5" x2="477.5" y2="337.5" stroke="#1a1a1a" stroke-width="1.0" />
<text x="467.2" y="340.8" font-size="9" text-anchor="end" fill="#1a1a1a" textLength="19.59" lengthAdjust="spacingAndGlyphs">1.00</text>
<line x1="472.5" y1="316.5" x2="477.5" y2="316.5" stroke="#1a1a1a" stroke-width="1.0" />
<text x="467.2" y="319.8" font-size="9" text-anchor="end" fill="#1a1a1a" textLength="19.59" lengthAdjust="spacingAndGlyphs">1.25</text>
<line x1="472.5" y1="295.5" x2="477.5" y2="295.5" stroke="#1a1a1a" stroke-width="1.0" />
<text x="467.2" y="298.8" font-size="9" text-anchor="end" fill="#1a1a1a" textLength="19.59" lengthAdjust="spacingAndGlyphs">1.50</text>
<line x1="472.5" y1="274.5" x2="477.5" y2="274.5" stroke="#1a1a1a" stroke-width="1.0" />
<text x="467.2" y="277.8" font-size="9" text-anchor="end" fill="#1a1a1a" textLength="19.59" lengthAdjust="spacingAndGlyphs">1.75</text>
<line x1="472.5" y1="253.5" x2="477.5" y2="253.5" stroke="#1a1a1a" stroke-width="1.0" />
<text x="467.2" y="256.8" font-size="9" text-anchor="end" fill="#1a1a1a" textLength="19.59" lengthAdjust="spacingAndGlyphs">2.00</text>
<text x="577.6" y="244.9" font-size="10.4" text-anchor="middle" fill="#1a1a1a" font-weight="normal" font-style="normal" >Ising + Rashba</text>
<text transform="translate(440.6,317.5) rotate(-90)" font-size="11" text-anchor="middle" fill="#1a1a1a" textLength="80" lengthAdjust="spacingAndGlyphs">Δ<tspan font-style="italic">n</tspan> [10<tspan font-size="7.6" dy="-3.6">10</tspan><tspan dy="3.6"> cm</tspan><tspan font-size="7.6" dy="-3.6">−2</tspan><tspan dy="3.6">]</tspan></text>
<text x="577.8" y="412.7" font-size="11" text-anchor="middle" fill="#1a1a1a" textLength="71" lengthAdjust="spacingAndGlyphs"><tspan font-style="italic">n</tspan> [10<tspan font-size="7.6" dy="-3.6">11</tspan><tspan dy="3.6"> cm</tspan><tspan font-size="7.6" dy="-3.6">−2</tspan><tspan dy="3.6">]</tspan></text>
<rect x="493.3" y="359.3" width="168.8" height="15.8" rx="1.8" fill="#fff" fill-opacity="0.85" stroke="#222" stroke-width="1.1"/>
<line x1="496.1" y1="366.9" x2="511" y2="366.9" stroke="#e8402a" stroke-width="1.6" />
<text x="517.6" y="369.1" font-size="9.3" fill="#1a1a1a" textLength="139.5" lengthAdjust="spacingAndGlyphs">Δ<tspan font-size="6.5" dy="2">R</tspan><tspan dy="-2"> = 2.5 meV and Δ</tspan><tspan font-size="6.5" dy="2">I</tspan><tspan dy="-2"> = 1.55 meV</tspan></text>
</svg>
</body></html>
